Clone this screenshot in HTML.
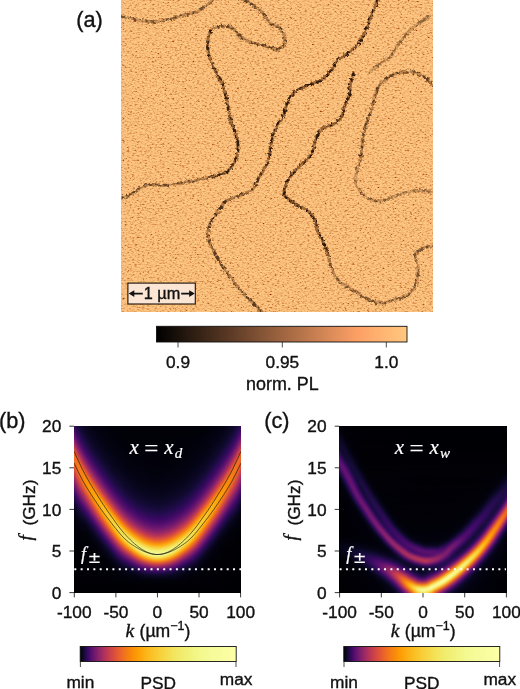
<!DOCTYPE html>
<html><head><meta charset="utf-8"><title>Figure</title>
<style>html,body{margin:0;padding:0;background:#fff}svg{display:block}svg{font-family:"Liberation Sans",sans-serif}text{stroke:#111;stroke-width:.36px;paint-order:stroke}.w{stroke:#fff;stroke-width:.2px}.s{font-family:"Liberation Serif",serif;font-style:italic}.r{font-family:"Liberation Serif",serif}.p{font-family:"DejaVu Sans",sans-serif;font-style:normal}</style></head><body>
<svg width="520" height="689" viewBox="0 0 520 689" fill="#111"><g class="t">
<defs>
<clipPath id="clipA"><rect x="121" y="0" width="312" height="312"/></clipPath>
<clipPath id="clipC"><rect x="339" y="426" width="168" height="167"/></clipPath>
<filter id="vb" x="0" y="-2%" width="100%" height="104%" color-interpolation-filters="sRGB"><feGaussianBlur stdDeviation="0.12 0.85"/></filter>
<clipPath id="clipB"><rect x="74" y="426" width="167" height="167"/></clipPath>
<filter id="noise" x="0" y="0" width="100%" height="100%" color-interpolation-filters="sRGB"><feTurbulence type="fractalNoise" baseFrequency="0.4 0.7" numOctaves="3" seed="7"/><feColorMatrix type="matrix" values="1 0 0 0 0 1 0 0 0 0 1 0 0 0 0 0 0 0 0 1"/><feComponentTransfer><feFuncR type="gamma" amplitude="-0.6" exponent="4" offset="1.01"/><feFuncG type="gamma" amplitude="-0.88" exponent="4" offset="0.795"/><feFuncB type="gamma" amplitude="-0.85" exponent="4" offset="0.53"/></feComponentTransfer></filter>
<filter id="rough" x="-5%" y="-5%" width="110%" height="110%" color-interpolation-filters="sRGB"><feTurbulence type="fractalNoise" baseFrequency="0.4" numOctaves="2" seed="11" result="t"/><feDisplacementMap in="SourceGraphic" in2="t" scale="4" xChannelSelector="R" yChannelSelector="G" result="d"/><feTurbulence type="fractalNoise" baseFrequency="0.3" numOctaves="2" seed="5" result="m"/><feColorMatrix in="m" type="matrix" values="0 0 0 0 0 0 0 0 0 0 0 0 0 0 0 6 0 0 0 -2.6" result="ma"/><feComposite in="d" in2="ma" operator="in"/><feGaussianBlur stdDeviation="0.45"/></filter>
<filter id="soft" x="-5%" y="-5%" width="110%" height="110%" color-interpolation-filters="sRGB"><feTurbulence type="fractalNoise" baseFrequency="0.4" numOctaves="2" seed="11" result="t"/><feDisplacementMap in="SourceGraphic" in2="t" scale="4" xChannelSelector="R" yChannelSelector="G"/><feGaussianBlur stdDeviation="0.6"/></filter>
<linearGradient id="cop"><stop offset="0" stop-color="#000000"/><stop offset="0.1" stop-color="#1f140c"/><stop offset="0.2" stop-color="#3f2819"/><stop offset="0.3" stop-color="#5e3b26"/><stop offset="0.4" stop-color="#7e5033"/><stop offset="0.5" stop-color="#9e6440"/><stop offset="0.6" stop-color="#bd784c"/><stop offset="0.7" stop-color="#dd8c59"/><stop offset="0.8" stop-color="#fc9f65"/><stop offset="0.9" stop-color="#ffb472"/><stop offset="1" stop-color="#ffc77f"/></linearGradient>
<linearGradient id="inf"><stop offset="0" stop-color="#000004"/><stop offset="0.025" stop-color="#150b37"/><stop offset="0.05" stop-color="#3b0964"/><stop offset="0.075" stop-color="#5c126e"/><stop offset="0.1" stop-color="#781c6d"/><stop offset="0.125" stop-color="#932667"/><stop offset="0.15" stop-color="#ab2f5e"/><stop offset="0.175" stop-color="#c03a51"/><stop offset="0.2" stop-color="#d04545"/><stop offset="0.225" stop-color="#de5238"/><stop offset="0.25" stop-color="#e8602d"/><stop offset="0.275" stop-color="#ef6e21"/><stop offset="0.3" stop-color="#f57d15"/><stop offset="0.325" stop-color="#f8890c"/><stop offset="0.35" stop-color="#fb9606"/><stop offset="0.375" stop-color="#fca108"/><stop offset="0.4" stop-color="#fcac11"/><stop offset="0.425" stop-color="#fbb61a"/><stop offset="0.45" stop-color="#fbbe23"/><stop offset="0.475" stop-color="#fac62d"/><stop offset="0.5" stop-color="#f8cd37"/><stop offset="0.525" stop-color="#f7d340"/><stop offset="0.55" stop-color="#f5d949"/><stop offset="0.575" stop-color="#f4df53"/><stop offset="0.6" stop-color="#f3e55d"/><stop offset="0.625" stop-color="#f2e865"/><stop offset="0.65" stop-color="#f1ec6d"/><stop offset="0.675" stop-color="#f1ef75"/><stop offset="0.7" stop-color="#f1f179"/><stop offset="0.725" stop-color="#f2f482"/><stop offset="0.75" stop-color="#f3f586"/><stop offset="0.775" stop-color="#f4f88e"/><stop offset="0.8" stop-color="#f5f992"/><stop offset="0.825" stop-color="#f6fa96"/><stop offset="0.85" stop-color="#f8fb9a"/><stop offset="0.875" stop-color="#f8fb9a"/><stop offset="0.9" stop-color="#f9fc9d"/><stop offset="0.925" stop-color="#fafda1"/><stop offset="0.95" stop-color="#fafda1"/><stop offset="0.975" stop-color="#fcffa4"/><stop offset="1" stop-color="#fcffa4"/></linearGradient>
<linearGradient id="b0"><stop offset="0.003" stop-color="#2d0b59"/><stop offset="0.0269" stop-color="#160b38"/><stop offset="0.0509" stop-color="#0b0725"/><stop offset="0.1108" stop-color="#040312"/><stop offset="0.2305" stop-color="#010108"/><stop offset="0.7455" stop-color="#010106"/><stop offset="0.8952" stop-color="#040312"/><stop offset="0.9551" stop-color="#0d0827"/><stop offset="0.985" stop-color="#1e0c45"/><stop offset="0.997" stop-color="#2b0b57"/></linearGradient>
<linearGradient id="b2"><stop offset="0.003" stop-color="#370961"/><stop offset="0.0269" stop-color="#1a0c3f"/><stop offset="0.0629" stop-color="#0a0723"/><stop offset="0.1287" stop-color="#030210"/><stop offset="0.2964" stop-color="#010106"/><stop offset="0.7814" stop-color="#010108"/><stop offset="0.9012" stop-color="#050416"/><stop offset="0.9551" stop-color="#0f092c"/><stop offset="0.979" stop-color="#1e0c45"/><stop offset="0.997" stop-color="#340a5f"/></linearGradient>
<linearGradient id="b4"><stop offset="0.003" stop-color="#410a67"/><stop offset="0.021" stop-color="#260c51"/><stop offset="0.0449" stop-color="#130a33"/><stop offset="0.0808" stop-color="#08061e"/><stop offset="0.1587" stop-color="#02020e"/><stop offset="0.3323" stop-color="#010106"/><stop offset="0.7695" stop-color="#010108"/><stop offset="0.8952" stop-color="#050417"/><stop offset="0.9491" stop-color="#0f092c"/><stop offset="0.979" stop-color="#240c4f"/><stop offset="0.997" stop-color="#3e0965"/></linearGradient>
<linearGradient id="b6"><stop offset="0.003" stop-color="#4c0c6b"/><stop offset="0.021" stop-color="#2d0b59"/><stop offset="0.0449" stop-color="#160b39"/><stop offset="0.0749" stop-color="#0b0724"/><stop offset="0.1467" stop-color="#030210"/><stop offset="0.3204" stop-color="#010106"/><stop offset="0.7635" stop-color="#010108"/><stop offset="0.8892" stop-color="#050417"/><stop offset="0.9371" stop-color="#0e092a"/><stop offset="0.9671" stop-color="#1e0c45"/><stop offset="0.991" stop-color="#3e0965"/><stop offset="0.997" stop-color="#490b6a"/></linearGradient>
<linearGradient id="b8"><stop offset="0.003" stop-color="#59106e"/><stop offset="0.021" stop-color="#370961"/><stop offset="0.0449" stop-color="#1b0c41"/><stop offset="0.0808" stop-color="#0b0725"/><stop offset="0.1407" stop-color="#040312"/><stop offset="0.2844" stop-color="#010108"/><stop offset="0.7036" stop-color="#010107"/><stop offset="0.8473" stop-color="#030210"/><stop offset="0.9192" stop-color="#0b0724"/><stop offset="0.9491" stop-color="#160b39"/><stop offset="0.9731" stop-color="#2b0b57"/><stop offset="0.991" stop-color="#490b6a"/><stop offset="0.997" stop-color="#550f6d"/></linearGradient>
<linearGradient id="b10"><stop offset="0.003" stop-color="#65156e"/><stop offset="0.021" stop-color="#410a67"/><stop offset="0.0389" stop-color="#260c51"/><stop offset="0.0749" stop-color="#0f092c"/><stop offset="0.1347" stop-color="#050416"/><stop offset="0.2665" stop-color="#010108"/><stop offset="0.7455" stop-color="#010109"/><stop offset="0.8593" stop-color="#040314"/><stop offset="0.9192" stop-color="#0d0827"/><stop offset="0.9491" stop-color="#1b0c41"/><stop offset="0.9671" stop-color="#2c0b58"/><stop offset="0.985" stop-color="#490b6a"/><stop offset="0.997" stop-color="#62146e"/></linearGradient>
<linearGradient id="b12"><stop offset="0.003" stop-color="#741b6e"/><stop offset="0.021" stop-color="#4c0c6b"/><stop offset="0.0389" stop-color="#2f0a5a"/><stop offset="0.0629" stop-color="#180c3d"/><stop offset="0.1048" stop-color="#090621"/><stop offset="0.1886" stop-color="#02020e"/><stop offset="0.3922" stop-color="#010106"/><stop offset="0.7635" stop-color="#02010a"/><stop offset="0.8713" stop-color="#060419"/><stop offset="0.9192" stop-color="#0f092c"/><stop offset="0.9491" stop-color="#1f0c48"/><stop offset="0.9731" stop-color="#3e0965"/><stop offset="0.991" stop-color="#62146e"/><stop offset="0.997" stop-color="#711a6e"/></linearGradient>
<linearGradient id="b14"><stop offset="0.003" stop-color="#86216b"/><stop offset="0.021" stop-color="#59106e"/><stop offset="0.0389" stop-color="#380962"/><stop offset="0.0629" stop-color="#1d0c44"/><stop offset="0.0988" stop-color="#0d0827"/><stop offset="0.1707" stop-color="#040312"/><stop offset="0.3144" stop-color="#010108"/><stop offset="0.7275" stop-color="#010109"/><stop offset="0.8593" stop-color="#050418"/><stop offset="0.9132" stop-color="#100a2e"/><stop offset="0.9431" stop-color="#210c4a"/><stop offset="0.9611" stop-color="#350a60"/><stop offset="0.979" stop-color="#550f6d"/><stop offset="0.997" stop-color="#811f6c"/></linearGradient>
<linearGradient id="b16"><stop offset="0.003" stop-color="#982865"/><stop offset="0.021" stop-color="#65156e"/><stop offset="0.0389" stop-color="#420a68"/><stop offset="0.0689" stop-color="#1e0c45"/><stop offset="0.0988" stop-color="#0f092c"/><stop offset="0.1527" stop-color="#050418"/><stop offset="0.2605" stop-color="#02010a"/><stop offset="0.6437" stop-color="#010107"/><stop offset="0.8114" stop-color="#030210"/><stop offset="0.8832" stop-color="#0a0723"/><stop offset="0.9192" stop-color="#160b38"/><stop offset="0.9431" stop-color="#280b53"/><stop offset="0.9671" stop-color="#4a0c6b"/><stop offset="0.985" stop-color="#711a6e"/><stop offset="0.997" stop-color="#932667"/></linearGradient>
<linearGradient id="b18"><stop offset="0.003" stop-color="#ab2f5d"/><stop offset="0.021" stop-color="#741b6e"/><stop offset="0.0449" stop-color="#430a68"/><stop offset="0.0689" stop-color="#240c4f"/><stop offset="0.0988" stop-color="#120a31"/><stop offset="0.1527" stop-color="#06051a"/><stop offset="0.2485" stop-color="#02020c"/><stop offset="0.5299" stop-color="#010106"/><stop offset="0.7635" stop-color="#02020c"/><stop offset="0.8653" stop-color="#08061e"/><stop offset="0.9072" stop-color="#140b36"/><stop offset="0.9371" stop-color="#290b54"/><stop offset="0.9611" stop-color="#4a0c6b"/><stop offset="0.979" stop-color="#711a6e"/><stop offset="0.997" stop-color="#a62d60"/></linearGradient>
<linearGradient id="b20"><stop offset="0.003" stop-color="#be3952"/><stop offset="0.015" stop-color="#982865"/><stop offset="0.0329" stop-color="#66166e"/><stop offset="0.0569" stop-color="#3a0963"/><stop offset="0.0868" stop-color="#1c0c43"/><stop offset="0.1228" stop-color="#0d0827"/><stop offset="0.1946" stop-color="#040313"/><stop offset="0.3323" stop-color="#010108"/><stop offset="0.6916" stop-color="#010109"/><stop offset="0.8174" stop-color="#040314"/><stop offset="0.8832" stop-color="#0e092a"/><stop offset="0.9132" stop-color="#1b0c41"/><stop offset="0.9371" stop-color="#310a5c"/><stop offset="0.9551" stop-color="#4c0c6b"/><stop offset="0.9731" stop-color="#711a6e"/><stop offset="0.991" stop-color="#a62d60"/><stop offset="0.997" stop-color="#b93656"/></linearGradient>
<linearGradient id="b22"><stop offset="0.003" stop-color="#cf4446"/><stop offset="0.021" stop-color="#982865"/><stop offset="0.0389" stop-color="#68166e"/><stop offset="0.0629" stop-color="#3c0964"/><stop offset="0.0928" stop-color="#1e0c45"/><stop offset="0.1228" stop-color="#0f092c"/><stop offset="0.1826" stop-color="#050417"/><stop offset="0.3024" stop-color="#02010a"/><stop offset="0.6677" stop-color="#010108"/><stop offset="0.8114" stop-color="#050416"/><stop offset="0.8713" stop-color="#0d0829"/><stop offset="0.9072" stop-color="#1c0c43"/><stop offset="0.9371" stop-color="#3a0963"/><stop offset="0.9611" stop-color="#65156e"/><stop offset="0.979" stop-color="#932667"/><stop offset="0.997" stop-color="#ca404a"/></linearGradient>
<linearGradient id="b24"><stop offset="0.003" stop-color="#dd5139"/><stop offset="0.021" stop-color="#ad305d"/><stop offset="0.0389" stop-color="#771c6d"/><stop offset="0.0629" stop-color="#470b6a"/><stop offset="0.0928" stop-color="#230c4c"/><stop offset="0.1287" stop-color="#100a2e"/><stop offset="0.1886" stop-color="#050418"/><stop offset="0.3084" stop-color="#02010a"/><stop offset="0.6497" stop-color="#010108"/><stop offset="0.7874" stop-color="#040312"/><stop offset="0.8593" stop-color="#0d0827"/><stop offset="0.8952" stop-color="#1a0c3f"/><stop offset="0.9251" stop-color="#340a5f"/><stop offset="0.9491" stop-color="#59106e"/><stop offset="0.9671" stop-color="#84206b"/><stop offset="0.985" stop-color="#b93656"/><stop offset="0.997" stop-color="#d74b3f"/></linearGradient>
<linearGradient id="b26"><stop offset="0.003" stop-color="#e75e2e"/><stop offset="0.015" stop-color="#d04545"/><stop offset="0.0329" stop-color="#9a2865"/><stop offset="0.0509" stop-color="#6a176e"/><stop offset="0.0749" stop-color="#3f0a66"/><stop offset="0.1048" stop-color="#1f0c48"/><stop offset="0.1407" stop-color="#0f092c"/><stop offset="0.2006" stop-color="#050417"/><stop offset="0.3263" stop-color="#02010a"/><stop offset="0.6976" stop-color="#02010b"/><stop offset="0.8054" stop-color="#050418"/><stop offset="0.8653" stop-color="#100a2e"/><stop offset="0.8952" stop-color="#1f0c48"/><stop offset="0.9251" stop-color="#3e0965"/><stop offset="0.9491" stop-color="#67166e"/><stop offset="0.9671" stop-color="#952667"/><stop offset="0.985" stop-color="#cb4149"/><stop offset="0.997" stop-color="#e25734"/></linearGradient>
<linearGradient id="b28"><stop offset="0.003" stop-color="#ed6826"/><stop offset="0.015" stop-color="#de5338"/><stop offset="0.0329" stop-color="#ad305c"/><stop offset="0.0509" stop-color="#7a1d6d"/><stop offset="0.0749" stop-color="#4b0c6b"/><stop offset="0.0988" stop-color="#2c0b58"/><stop offset="0.1287" stop-color="#170b3b"/><stop offset="0.1647" stop-color="#0b0725"/><stop offset="0.2365" stop-color="#040312"/><stop offset="0.3982" stop-color="#010108"/><stop offset="0.6796" stop-color="#02010b"/><stop offset="0.7934" stop-color="#050418"/><stop offset="0.8533" stop-color="#0f092c"/><stop offset="0.8832" stop-color="#1c0c43"/><stop offset="0.9132" stop-color="#380962"/><stop offset="0.9371" stop-color="#5d126e"/><stop offset="0.9551" stop-color="#86216b"/><stop offset="0.9731" stop-color="#bb3755"/><stop offset="0.985" stop-color="#d94d3d"/><stop offset="0.997" stop-color="#e8612c"/></linearGradient>
<linearGradient id="b30"><stop offset="0.003" stop-color="#f06e21"/><stop offset="0.009" stop-color="#ee6b23"/><stop offset="0.021" stop-color="#df5337"/><stop offset="0.0389" stop-color="#af315b"/><stop offset="0.0569" stop-color="#7c1e6d"/><stop offset="0.0808" stop-color="#4d0d6c"/><stop offset="0.1108" stop-color="#280b53"/><stop offset="0.1467" stop-color="#130a33"/><stop offset="0.1886" stop-color="#09061f"/><stop offset="0.2784" stop-color="#02020e"/><stop offset="0.518" stop-color="#010108"/><stop offset="0.7216" stop-color="#02020e"/><stop offset="0.8114" stop-color="#08061e"/><stop offset="0.8593" stop-color="#140b36"/><stop offset="0.8952" stop-color="#2d0b59"/><stop offset="0.9192" stop-color="#4b0c6b"/><stop offset="0.9431" stop-color="#791c6d"/><stop offset="0.9611" stop-color="#aa2f5e"/><stop offset="0.979" stop-color="#da4e3c"/><stop offset="0.991" stop-color="#ea6429"/><stop offset="0.997" stop-color="#ec6727"/></linearGradient>
<linearGradient id="b32"><stop offset="0.003" stop-color="#f06f20"/><stop offset="0.009" stop-color="#f1721e"/><stop offset="0.021" stop-color="#e9622b"/><stop offset="0.0329" stop-color="#d34743"/><stop offset="0.0509" stop-color="#9f2a63"/><stop offset="0.0689" stop-color="#711a6e"/><stop offset="0.0928" stop-color="#470b6a"/><stop offset="0.1228" stop-color="#240c4f"/><stop offset="0.1647" stop-color="#0f092c"/><stop offset="0.2365" stop-color="#050416"/><stop offset="0.3743" stop-color="#02010a"/><stop offset="0.6497" stop-color="#02010b"/><stop offset="0.7754" stop-color="#050418"/><stop offset="0.8353" stop-color="#0f092c"/><stop offset="0.8772" stop-color="#240c4f"/><stop offset="0.9072" stop-color="#450b69"/><stop offset="0.9311" stop-color="#6e186e"/><stop offset="0.9491" stop-color="#9b2964"/><stop offset="0.9671" stop-color="#ce4347"/><stop offset="0.979" stop-color="#e55c30"/><stop offset="0.991" stop-color="#ed6a24"/><stop offset="0.997" stop-color="#ec6726"/></linearGradient>
<linearGradient id="b34"><stop offset="0.003" stop-color="#ef6d22"/><stop offset="0.015" stop-color="#f2731d"/><stop offset="0.021" stop-color="#f06e21"/><stop offset="0.0329" stop-color="#e15635"/><stop offset="0.0509" stop-color="#b33359"/><stop offset="0.0689" stop-color="#82206c"/><stop offset="0.0928" stop-color="#520e6d"/><stop offset="0.1228" stop-color="#2d0b59"/><stop offset="0.1527" stop-color="#170b3b"/><stop offset="0.2006" stop-color="#090621"/><stop offset="0.3084" stop-color="#02020e"/><stop offset="0.5539" stop-color="#010109"/><stop offset="0.7275" stop-color="#030311"/><stop offset="0.8114" stop-color="#0b0725"/><stop offset="0.8473" stop-color="#170b3b"/><stop offset="0.8772" stop-color="#2b0b57"/><stop offset="0.9072" stop-color="#510e6c"/><stop offset="0.9311" stop-color="#7f1e6c"/><stop offset="0.9491" stop-color="#af315b"/><stop offset="0.9671" stop-color="#dc513a"/><stop offset="0.979" stop-color="#ec6727"/><stop offset="0.985" stop-color="#ef6c23"/><stop offset="0.997" stop-color="#eb6528"/></linearGradient>
<linearGradient id="b36"><stop offset="0.003" stop-color="#ed6925"/><stop offset="0.015" stop-color="#f3761b"/><stop offset="0.0269" stop-color="#f0701f"/><stop offset="0.0389" stop-color="#e25734"/><stop offset="0.0569" stop-color="#b63457"/><stop offset="0.0749" stop-color="#85216b"/><stop offset="0.0988" stop-color="#550f6d"/><stop offset="0.1287" stop-color="#2f0a5a"/><stop offset="0.1647" stop-color="#160b38"/><stop offset="0.2066" stop-color="#0a0723"/><stop offset="0.2784" stop-color="#040312"/><stop offset="0.4401" stop-color="#02010a"/><stop offset="0.6617" stop-color="#02020d"/><stop offset="0.7575" stop-color="#050418"/><stop offset="0.8293" stop-color="#130a33"/><stop offset="0.8653" stop-color="#280b53"/><stop offset="0.8952" stop-color="#4a0c6b"/><stop offset="0.9192" stop-color="#741b6e"/><stop offset="0.9371" stop-color="#a12b62"/><stop offset="0.9551" stop-color="#d14644"/><stop offset="0.9671" stop-color="#e75f2d"/><stop offset="0.979" stop-color="#f06e21"/><stop offset="0.991" stop-color="#ed6826"/><stop offset="0.997" stop-color="#e9612b"/></linearGradient>
<linearGradient id="b38"><stop offset="0.003" stop-color="#ea632a"/><stop offset="0.021" stop-color="#f47918"/><stop offset="0.0269" stop-color="#f47918"/><stop offset="0.0389" stop-color="#ed6826"/><stop offset="0.0509" stop-color="#d84c3e"/><stop offset="0.0689" stop-color="#a92e5f"/><stop offset="0.0868" stop-color="#7b1d6d"/><stop offset="0.1108" stop-color="#4f0d6c"/><stop offset="0.1407" stop-color="#2b0b57"/><stop offset="0.1766" stop-color="#140b36"/><stop offset="0.2365" stop-color="#07051c"/><stop offset="0.3323" stop-color="#02020e"/><stop offset="0.5838" stop-color="#02010a"/><stop offset="0.7335" stop-color="#050416"/><stop offset="0.7994" stop-color="#0d0827"/><stop offset="0.8413" stop-color="#1c0c43"/><stop offset="0.8713" stop-color="#370961"/><stop offset="0.9012" stop-color="#61136e"/><stop offset="0.9251" stop-color="#952667"/><stop offset="0.9431" stop-color="#c53d4e"/><stop offset="0.9551" stop-color="#e05536"/><stop offset="0.9671" stop-color="#ee6b23"/><stop offset="0.979" stop-color="#f1711f"/><stop offset="0.997" stop-color="#e55c30"/></linearGradient>
<linearGradient id="b40"><stop offset="0.003" stop-color="#e55b31"/><stop offset="0.021" stop-color="#f3771a"/><stop offset="0.0329" stop-color="#f57b17"/><stop offset="0.0449" stop-color="#ed6a24"/><stop offset="0.0569" stop-color="#db4f3b"/><stop offset="0.0749" stop-color="#ad305d"/><stop offset="0.0928" stop-color="#7f1e6c"/><stop offset="0.1168" stop-color="#520e6d"/><stop offset="0.1467" stop-color="#2d0b59"/><stop offset="0.1826" stop-color="#160b38"/><stop offset="0.2365" stop-color="#08061e"/><stop offset="0.3263" stop-color="#030210"/><stop offset="0.5479" stop-color="#02010a"/><stop offset="0.7156" stop-color="#040314"/><stop offset="0.7874" stop-color="#0d0827"/><stop offset="0.8293" stop-color="#1b0c41"/><stop offset="0.8653" stop-color="#380962"/><stop offset="0.8952" stop-color="#65156e"/><stop offset="0.9192" stop-color="#992865"/><stop offset="0.9371" stop-color="#c83f4b"/><stop offset="0.9491" stop-color="#e25734"/><stop offset="0.9611" stop-color="#ef6e21"/><stop offset="0.9731" stop-color="#f2731d"/><stop offset="0.991" stop-color="#e75e2e"/><stop offset="0.997" stop-color="#df5437"/></linearGradient>
<linearGradient id="b42"><stop offset="0.003" stop-color="#de5238"/><stop offset="0.021" stop-color="#f1731d"/><stop offset="0.0329" stop-color="#f67e14"/><stop offset="0.0389" stop-color="#f67e14"/><stop offset="0.0509" stop-color="#ef6d22"/><stop offset="0.0629" stop-color="#dd5239"/><stop offset="0.0808" stop-color="#b1325a"/><stop offset="0.0988" stop-color="#84206b"/><stop offset="0.1228" stop-color="#550f6d"/><stop offset="0.1527" stop-color="#310a5c"/><stop offset="0.1886" stop-color="#170b3b"/><stop offset="0.2365" stop-color="#0a0722"/><stop offset="0.3323" stop-color="#030210"/><stop offset="0.5539" stop-color="#02020c"/><stop offset="0.7036" stop-color="#040314"/><stop offset="0.7754" stop-color="#0b0725"/><stop offset="0.8174" stop-color="#190c3e"/><stop offset="0.8533" stop-color="#350a60"/><stop offset="0.8772" stop-color="#540f6d"/><stop offset="0.9012" stop-color="#801f6c"/><stop offset="0.9192" stop-color="#ad305c"/><stop offset="0.9371" stop-color="#d94d3d"/><stop offset="0.9491" stop-color="#ec6727"/><stop offset="0.9611" stop-color="#f3761b"/><stop offset="0.9731" stop-color="#f1721e"/><stop offset="0.991" stop-color="#e25734"/><stop offset="0.997" stop-color="#d84c3e"/></linearGradient>
<linearGradient id="b44"><stop offset="0.003" stop-color="#d44842"/><stop offset="0.021" stop-color="#ef6c23"/><stop offset="0.0389" stop-color="#f78212"/><stop offset="0.0449" stop-color="#f78212"/><stop offset="0.0569" stop-color="#f0701f"/><stop offset="0.0689" stop-color="#e05536"/><stop offset="0.0868" stop-color="#b53458"/><stop offset="0.1048" stop-color="#88226a"/><stop offset="0.1287" stop-color="#59116e"/><stop offset="0.1587" stop-color="#330a5e"/><stop offset="0.1886" stop-color="#1b0c42"/><stop offset="0.2365" stop-color="#0b0725"/><stop offset="0.3144" stop-color="#040313"/><stop offset="0.494" stop-color="#02020c"/><stop offset="0.6617" stop-color="#030311"/><stop offset="0.7515" stop-color="#090621"/><stop offset="0.7934" stop-color="#130a33"/><stop offset="0.8293" stop-color="#260c51"/><stop offset="0.8593" stop-color="#460b69"/><stop offset="0.8892" stop-color="#781c6d"/><stop offset="0.9072" stop-color="#a22b62"/><stop offset="0.9251" stop-color="#d04545"/><stop offset="0.9431" stop-color="#ed6a24"/><stop offset="0.9551" stop-color="#f47918"/><stop offset="0.9671" stop-color="#f2751b"/><stop offset="0.985" stop-color="#e55b31"/><stop offset="0.997" stop-color="#cf4446"/></linearGradient>
<linearGradient id="b46"><stop offset="0.003" stop-color="#ca404a"/><stop offset="0.015" stop-color="#e25734"/><stop offset="0.0329" stop-color="#f47819"/><stop offset="0.0449" stop-color="#f78410"/><stop offset="0.0569" stop-color="#f67e14"/><stop offset="0.0749" stop-color="#e35933"/><stop offset="0.0928" stop-color="#bb3755"/><stop offset="0.1108" stop-color="#8d2369"/><stop offset="0.1347" stop-color="#5d126e"/><stop offset="0.1647" stop-color="#360960"/><stop offset="0.1946" stop-color="#1d0c44"/><stop offset="0.2365" stop-color="#0e092a"/><stop offset="0.3024" stop-color="#050417"/><stop offset="0.482" stop-color="#02020c"/><stop offset="0.6677" stop-color="#040313"/><stop offset="0.7455" stop-color="#0a0723"/><stop offset="0.7874" stop-color="#140b36"/><stop offset="0.8234" stop-color="#290b55"/><stop offset="0.8533" stop-color="#490b6a"/><stop offset="0.8832" stop-color="#7c1e6d"/><stop offset="0.9012" stop-color="#a72d5f"/><stop offset="0.9192" stop-color="#d44842"/><stop offset="0.9371" stop-color="#ef6e21"/><stop offset="0.9491" stop-color="#f57d15"/><stop offset="0.9611" stop-color="#f37819"/><stop offset="0.979" stop-color="#e65c30"/><stop offset="0.997" stop-color="#c43c4e"/></linearGradient>
<linearGradient id="b48"><stop offset="0.003" stop-color="#bd3853"/><stop offset="0.021" stop-color="#e45a31"/><stop offset="0.0389" stop-color="#f57b17"/><stop offset="0.0509" stop-color="#f8870e"/><stop offset="0.0629" stop-color="#f78311"/><stop offset="0.0808" stop-color="#e65e2e"/><stop offset="0.0988" stop-color="#bf3952"/><stop offset="0.1168" stop-color="#922568"/><stop offset="0.1407" stop-color="#61136e"/><stop offset="0.1707" stop-color="#380962"/><stop offset="0.2066" stop-color="#1b0c42"/><stop offset="0.2485" stop-color="#0d0829"/><stop offset="0.3263" stop-color="#050416"/><stop offset="0.482" stop-color="#02020e"/><stop offset="0.6497" stop-color="#040312"/><stop offset="0.7395" stop-color="#0a0723"/><stop offset="0.7934" stop-color="#1b0c41"/><stop offset="0.8293" stop-color="#370961"/><stop offset="0.8593" stop-color="#5f136e"/><stop offset="0.8832" stop-color="#8f2468"/><stop offset="0.9012" stop-color="#bb3755"/><stop offset="0.9192" stop-color="#e35933"/><stop offset="0.9371" stop-color="#f47a17"/><stop offset="0.9491" stop-color="#f67e14"/><stop offset="0.9671" stop-color="#ed6a24"/><stop offset="0.985" stop-color="#d44842"/><stop offset="0.997" stop-color="#b83556"/></linearGradient>
<linearGradient id="b50"><stop offset="0.003" stop-color="#af315c"/><stop offset="0.021" stop-color="#db503b"/><stop offset="0.0389" stop-color="#f2731d"/><stop offset="0.0569" stop-color="#f98a0c"/><stop offset="0.0689" stop-color="#f8860e"/><stop offset="0.0868" stop-color="#e9622b"/><stop offset="0.1048" stop-color="#c53d4e"/><stop offset="0.1228" stop-color="#972766"/><stop offset="0.1467" stop-color="#65156e"/><stop offset="0.1766" stop-color="#3c0964"/><stop offset="0.2066" stop-color="#210c4a"/><stop offset="0.2545" stop-color="#0e092a"/><stop offset="0.3323" stop-color="#050417"/><stop offset="0.506" stop-color="#02020e"/><stop offset="0.6677" stop-color="#050417"/><stop offset="0.7395" stop-color="#0d0827"/><stop offset="0.7874" stop-color="#1d0c44"/><stop offset="0.8293" stop-color="#410a67"/><stop offset="0.8593" stop-color="#6e186e"/><stop offset="0.8832" stop-color="#a22b61"/><stop offset="0.9012" stop-color="#ce4447"/><stop offset="0.9132" stop-color="#e65d2f"/><stop offset="0.9311" stop-color="#f67f14"/><stop offset="0.9431" stop-color="#f78212"/><stop offset="0.9611" stop-color="#ef6c23"/><stop offset="0.979" stop-color="#d74b3f"/><stop offset="0.997" stop-color="#aa2f5e"/></linearGradient>
<linearGradient id="b52"><stop offset="0.003" stop-color="#a12b62"/><stop offset="0.021" stop-color="#d14644"/><stop offset="0.0389" stop-color="#ed6a24"/><stop offset="0.0569" stop-color="#f8880d"/><stop offset="0.0689" stop-color="#f98e09"/><stop offset="0.0808" stop-color="#f78212"/><stop offset="0.0988" stop-color="#e35a32"/><stop offset="0.1168" stop-color="#bb3755"/><stop offset="0.1347" stop-color="#8f2468"/><stop offset="0.1587" stop-color="#5f136e"/><stop offset="0.1886" stop-color="#380962"/><stop offset="0.2246" stop-color="#1c0c43"/><stop offset="0.2665" stop-color="#0e092a"/><stop offset="0.3263" stop-color="#06051a"/><stop offset="0.4641" stop-color="#030210"/><stop offset="0.6198" stop-color="#040313"/><stop offset="0.7096" stop-color="#090621"/><stop offset="0.7635" stop-color="#160b39"/><stop offset="0.7994" stop-color="#2b0b57"/><stop offset="0.8293" stop-color="#4d0c6b"/><stop offset="0.8593" stop-color="#7e1e6c"/><stop offset="0.8772" stop-color="#a82e5f"/><stop offset="0.8952" stop-color="#d44842"/><stop offset="0.9132" stop-color="#f06f20"/><stop offset="0.9251" stop-color="#f78311"/><stop offset="0.9371" stop-color="#f8850f"/><stop offset="0.9551" stop-color="#f06e21"/><stop offset="0.9731" stop-color="#d84c3e"/><stop offset="0.991" stop-color="#ad305c"/><stop offset="0.997" stop-color="#9b2964"/></linearGradient>
<linearGradient id="b54"><stop offset="0.003" stop-color="#912568"/><stop offset="0.021" stop-color="#c43c4e"/><stop offset="0.0389" stop-color="#e75e2e"/><stop offset="0.0569" stop-color="#f78212"/><stop offset="0.0689" stop-color="#fa8f08"/><stop offset="0.0808" stop-color="#f98e09"/><stop offset="0.0928" stop-color="#f47b17"/><stop offset="0.1108" stop-color="#dc503a"/><stop offset="0.1287" stop-color="#b2325a"/><stop offset="0.1467" stop-color="#86216b"/><stop offset="0.1766" stop-color="#510e6d"/><stop offset="0.2066" stop-color="#300a5b"/><stop offset="0.2365" stop-color="#1b0c41"/><stop offset="0.2784" stop-color="#0e092a"/><stop offset="0.3383" stop-color="#06051a"/><stop offset="0.488" stop-color="#030210"/><stop offset="0.6437" stop-color="#050418"/><stop offset="0.7275" stop-color="#0e092a"/><stop offset="0.7814" stop-color="#240c4f"/><stop offset="0.8174" stop-color="#480b6a"/><stop offset="0.8473" stop-color="#781c6d"/><stop offset="0.8653" stop-color="#9f2a63"/><stop offset="0.8832" stop-color="#cc4249"/><stop offset="0.9012" stop-color="#ec6726"/><stop offset="0.9132" stop-color="#f67f14"/><stop offset="0.9251" stop-color="#f98a0c"/><stop offset="0.9371" stop-color="#f78212"/><stop offset="0.9551" stop-color="#eb6429"/><stop offset="0.9731" stop-color="#cd4348"/><stop offset="0.991" stop-color="#9e2a63"/><stop offset="0.997" stop-color="#8c2369"/></linearGradient>
<linearGradient id="b56"><stop offset="0.003" stop-color="#82206c"/><stop offset="0.021" stop-color="#b63457"/><stop offset="0.0389" stop-color="#de5338"/><stop offset="0.0569" stop-color="#f47819"/><stop offset="0.0749" stop-color="#fa9207"/><stop offset="0.0868" stop-color="#fa9207"/><stop offset="0.0988" stop-color="#f68013"/><stop offset="0.1168" stop-color="#e05536"/><stop offset="0.1347" stop-color="#b73557"/><stop offset="0.1527" stop-color="#8c2369"/><stop offset="0.1766" stop-color="#5f136e"/><stop offset="0.2066" stop-color="#380962"/><stop offset="0.2425" stop-color="#1c0c43"/><stop offset="0.2964" stop-color="#0c0826"/><stop offset="0.3922" stop-color="#050416"/><stop offset="0.5599" stop-color="#040312"/><stop offset="0.6856" stop-color="#090621"/><stop offset="0.7395" stop-color="#140b36"/><stop offset="0.7814" stop-color="#2c0b58"/><stop offset="0.8114" stop-color="#4c0c6b"/><stop offset="0.8413" stop-color="#7c1e6d"/><stop offset="0.8593" stop-color="#a52c60"/><stop offset="0.8772" stop-color="#d14644"/><stop offset="0.8952" stop-color="#ef6d22"/><stop offset="0.9072" stop-color="#f78410"/><stop offset="0.9192" stop-color="#f98d09"/><stop offset="0.9371" stop-color="#f57c16"/><stop offset="0.9551" stop-color="#e35933"/><stop offset="0.9731" stop-color="#c13a51"/><stop offset="0.991" stop-color="#8f2468"/><stop offset="0.997" stop-color="#7e1e6c"/></linearGradient>
<linearGradient id="b58"><stop offset="0.003" stop-color="#731a6e"/><stop offset="0.021" stop-color="#a72d5f"/><stop offset="0.0389" stop-color="#d24743"/><stop offset="0.0569" stop-color="#ef6c23"/><stop offset="0.0749" stop-color="#f98e09"/><stop offset="0.0868" stop-color="#fb9706"/><stop offset="0.0988" stop-color="#fa9008"/><stop offset="0.1108" stop-color="#f47918"/><stop offset="0.1287" stop-color="#d94d3d"/><stop offset="0.1467" stop-color="#af315b"/><stop offset="0.1647" stop-color="#84206b"/><stop offset="0.1886" stop-color="#5a116e"/><stop offset="0.2186" stop-color="#360960"/><stop offset="0.2545" stop-color="#1b0c42"/><stop offset="0.3024" stop-color="#0d0827"/><stop offset="0.4042" stop-color="#050417"/><stop offset="0.5419" stop-color="#040313"/><stop offset="0.6617" stop-color="#08061e"/><stop offset="0.7156" stop-color="#100a2e"/><stop offset="0.7575" stop-color="#210c4a"/><stop offset="0.7934" stop-color="#410a67"/><stop offset="0.8234" stop-color="#6b176e"/><stop offset="0.8473" stop-color="#9d2964"/><stop offset="0.8653" stop-color="#c83f4b"/><stop offset="0.8832" stop-color="#eb6528"/><stop offset="0.9012" stop-color="#f8890c"/><stop offset="0.9132" stop-color="#fa9008"/><stop offset="0.9311" stop-color="#f57d15"/><stop offset="0.9491" stop-color="#e45a31"/><stop offset="0.9671" stop-color="#c13a51"/><stop offset="0.985" stop-color="#912568"/><stop offset="0.997" stop-color="#6f196e"/></linearGradient>
<linearGradient id="b60"><stop offset="0.003" stop-color="#65156e"/><stop offset="0.021" stop-color="#972766"/><stop offset="0.0449" stop-color="#d24743"/><stop offset="0.0629" stop-color="#ef6c23"/><stop offset="0.0808" stop-color="#fa9008"/><stop offset="0.0928" stop-color="#fb9b06"/><stop offset="0.0988" stop-color="#fb9b06"/><stop offset="0.1108" stop-color="#f98c0b"/><stop offset="0.1287" stop-color="#e8612c"/><stop offset="0.1467" stop-color="#c33c4f"/><stop offset="0.1647" stop-color="#972766"/><stop offset="0.1886" stop-color="#68166e"/><stop offset="0.2186" stop-color="#3f0a66"/><stop offset="0.2545" stop-color="#210c4a"/><stop offset="0.2964" stop-color="#100a2e"/><stop offset="0.3623" stop-color="#08061e"/><stop offset="0.482" stop-color="#040314"/><stop offset="0.6257" stop-color="#07051c"/><stop offset="0.6976" stop-color="#0f092c"/><stop offset="0.7455" stop-color="#200c49"/><stop offset="0.7814" stop-color="#3e0965"/><stop offset="0.8114" stop-color="#66166e"/><stop offset="0.8353" stop-color="#952667"/><stop offset="0.8533" stop-color="#c13a51"/><stop offset="0.8713" stop-color="#e55c30"/><stop offset="0.8892" stop-color="#f78410"/><stop offset="0.9012" stop-color="#fa9307"/><stop offset="0.9132" stop-color="#fa8f08"/><stop offset="0.9311" stop-color="#f1731d"/><stop offset="0.9491" stop-color="#da4e3d"/><stop offset="0.9731" stop-color="#a22b61"/><stop offset="0.991" stop-color="#711a6e"/><stop offset="0.997" stop-color="#61146e"/></linearGradient>
<linearGradient id="b62"><stop offset="0.003" stop-color="#57106d"/><stop offset="0.021" stop-color="#87216b"/><stop offset="0.0449" stop-color="#c43c4e"/><stop offset="0.0629" stop-color="#e75f2d"/><stop offset="0.0808" stop-color="#f8860e"/><stop offset="0.0928" stop-color="#fb9806"/><stop offset="0.1048" stop-color="#fb9e07"/><stop offset="0.1168" stop-color="#fa9208"/><stop offset="0.1347" stop-color="#ed6826"/><stop offset="0.1527" stop-color="#ca404a"/><stop offset="0.1707" stop-color="#9e2a63"/><stop offset="0.1946" stop-color="#6d186e"/><stop offset="0.2246" stop-color="#430a68"/><stop offset="0.2605" stop-color="#230c4c"/><stop offset="0.3144" stop-color="#0f092c"/><stop offset="0.4102" stop-color="#06051a"/><stop offset="0.5778" stop-color="#060419"/><stop offset="0.6796" stop-color="#0e092a"/><stop offset="0.7216" stop-color="#190c3e"/><stop offset="0.7575" stop-color="#310a5c"/><stop offset="0.7874" stop-color="#510e6c"/><stop offset="0.8174" stop-color="#811f6c"/><stop offset="0.8353" stop-color="#a92e5e"/><stop offset="0.8533" stop-color="#d44942"/><stop offset="0.8713" stop-color="#f1721e"/><stop offset="0.8832" stop-color="#f98b0b"/><stop offset="0.8952" stop-color="#fb9706"/><stop offset="0.9072" stop-color="#fa9108"/><stop offset="0.9251" stop-color="#f2731d"/><stop offset="0.9431" stop-color="#d94d3d"/><stop offset="0.9611" stop-color="#b1325a"/><stop offset="0.979" stop-color="#83206b"/><stop offset="0.997" stop-color="#540f6d"/></linearGradient>
<linearGradient id="b64"><stop offset="0.003" stop-color="#4a0c6b"/><stop offset="0.021" stop-color="#781c6d"/><stop offset="0.0389" stop-color="#a52c60"/><stop offset="0.0569" stop-color="#d04545"/><stop offset="0.0749" stop-color="#ef6c23"/><stop offset="0.0928" stop-color="#fa9207"/><stop offset="0.1048" stop-color="#fca007"/><stop offset="0.1168" stop-color="#fc9f07"/><stop offset="0.1287" stop-color="#f98c0b"/><stop offset="0.1467" stop-color="#e75f2d"/><stop offset="0.1647" stop-color="#c23b50"/><stop offset="0.1826" stop-color="#972766"/><stop offset="0.2066" stop-color="#68166e"/><stop offset="0.2425" stop-color="#3a0963"/><stop offset="0.2725" stop-color="#230c4c"/><stop offset="0.3144" stop-color="#120a32"/><stop offset="0.3862" stop-color="#09061f"/><stop offset="0.518" stop-color="#050418"/><stop offset="0.6377" stop-color="#0b0724"/><stop offset="0.6916" stop-color="#130a33"/><stop offset="0.7395" stop-color="#290b55"/><stop offset="0.7754" stop-color="#4d0d6c"/><stop offset="0.8054" stop-color="#7c1d6d"/><stop offset="0.8234" stop-color="#a22b61"/><stop offset="0.8413" stop-color="#cd4348"/><stop offset="0.8593" stop-color="#ed6a24"/><stop offset="0.8713" stop-color="#f8860e"/><stop offset="0.8832" stop-color="#fb9706"/><stop offset="0.8952" stop-color="#fb9806"/><stop offset="0.9072" stop-color="#f98b0b"/><stop offset="0.9251" stop-color="#eb6628"/><stop offset="0.9431" stop-color="#cc4249"/><stop offset="0.9611" stop-color="#a12b62"/><stop offset="0.979" stop-color="#741a6e"/><stop offset="0.997" stop-color="#480b6a"/></linearGradient>
<linearGradient id="b66"><stop offset="0.003" stop-color="#3e0a66"/><stop offset="0.021" stop-color="#69166e"/><stop offset="0.0449" stop-color="#a22b61"/><stop offset="0.0629" stop-color="#cf4446"/><stop offset="0.0808" stop-color="#ee6b23"/><stop offset="0.0988" stop-color="#fa9307"/><stop offset="0.1108" stop-color="#fca309"/><stop offset="0.1228" stop-color="#fca40a"/><stop offset="0.1347" stop-color="#fa9307"/><stop offset="0.1527" stop-color="#ec6727"/><stop offset="0.1707" stop-color="#c83f4b"/><stop offset="0.1886" stop-color="#9e2a63"/><stop offset="0.2126" stop-color="#6e186e"/><stop offset="0.2365" stop-color="#4b0c6b"/><stop offset="0.2725" stop-color="#290b55"/><stop offset="0.3084" stop-color="#170b3b"/><stop offset="0.3683" stop-color="#0c0826"/><stop offset="0.488" stop-color="#06051a"/><stop offset="0.6138" stop-color="#0a0723"/><stop offset="0.6796" stop-color="#140b34"/><stop offset="0.7275" stop-color="#280b53"/><stop offset="0.7635" stop-color="#4a0c6b"/><stop offset="0.7934" stop-color="#761b6d"/><stop offset="0.8174" stop-color="#a92e5f"/><stop offset="0.8353" stop-color="#d34743"/><stop offset="0.8533" stop-color="#f1711f"/><stop offset="0.8653" stop-color="#f98c0b"/><stop offset="0.8772" stop-color="#fb9d07"/><stop offset="0.8892" stop-color="#fb9b06"/><stop offset="0.9012" stop-color="#f98c0b"/><stop offset="0.9192" stop-color="#eb6528"/><stop offset="0.9371" stop-color="#ca404a"/><stop offset="0.9551" stop-color="#9e2a63"/><stop offset="0.979" stop-color="#65156e"/><stop offset="0.997" stop-color="#3c0964"/></linearGradient>
<linearGradient id="b68"><stop offset="0.003" stop-color="#330a5e"/><stop offset="0.015" stop-color="#4d0d6c"/><stop offset="0.0389" stop-color="#83206b"/><stop offset="0.0569" stop-color="#ae305c"/><stop offset="0.0749" stop-color="#da4e3c"/><stop offset="0.0928" stop-color="#f47819"/><stop offset="0.1048" stop-color="#fa9307"/><stop offset="0.1168" stop-color="#fca40a"/><stop offset="0.1287" stop-color="#fca80d"/><stop offset="0.1407" stop-color="#fb9807"/><stop offset="0.1467" stop-color="#f98d0a"/><stop offset="0.1647" stop-color="#e75f2e"/><stop offset="0.1826" stop-color="#c13b50"/><stop offset="0.2006" stop-color="#972766"/><stop offset="0.2246" stop-color="#69176e"/><stop offset="0.2545" stop-color="#420a68"/><stop offset="0.2904" stop-color="#240c4f"/><stop offset="0.3383" stop-color="#130a33"/><stop offset="0.4222" stop-color="#090621"/><stop offset="0.5359" stop-color="#08051d"/><stop offset="0.6317" stop-color="#0e092a"/><stop offset="0.6916" stop-color="#1b0c42"/><stop offset="0.7335" stop-color="#350a60"/><stop offset="0.7635" stop-color="#550f6d"/><stop offset="0.7934" stop-color="#88226a"/><stop offset="0.8114" stop-color="#b0315b"/><stop offset="0.8293" stop-color="#d94d3d"/><stop offset="0.8473" stop-color="#f47819"/><stop offset="0.8593" stop-color="#fa9307"/><stop offset="0.8713" stop-color="#fca108"/><stop offset="0.8832" stop-color="#fb9e07"/><stop offset="0.8952" stop-color="#f98c0b"/><stop offset="0.9132" stop-color="#eb6528"/><stop offset="0.9311" stop-color="#c83f4b"/><stop offset="0.9491" stop-color="#9b2964"/><stop offset="0.9731" stop-color="#65156e"/><stop offset="0.991" stop-color="#3e0965"/><stop offset="0.997" stop-color="#310a5c"/></linearGradient>
<linearGradient id="b70"><stop offset="0.003" stop-color="#290b54"/><stop offset="0.015" stop-color="#400a67"/><stop offset="0.0329" stop-color="#66166e"/><stop offset="0.0569" stop-color="#9c2964"/><stop offset="0.0749" stop-color="#ca414a"/><stop offset="0.0928" stop-color="#ed6826"/><stop offset="0.1048" stop-color="#f8860e"/><stop offset="0.1108" stop-color="#fa9307"/><stop offset="0.1228" stop-color="#fca60b"/><stop offset="0.1347" stop-color="#fcac11"/><stop offset="0.1467" stop-color="#fca008"/><stop offset="0.1527" stop-color="#fa9407"/><stop offset="0.1647" stop-color="#f2751b"/><stop offset="0.1826" stop-color="#d54a40"/><stop offset="0.2006" stop-color="#ac2f5d"/><stop offset="0.2246" stop-color="#791c6d"/><stop offset="0.2545" stop-color="#4d0c6b"/><stop offset="0.2964" stop-color="#280b53"/><stop offset="0.3323" stop-color="#180c3d"/><stop offset="0.3982" stop-color="#0d0827"/><stop offset="0.506" stop-color="#09061f"/><stop offset="0.6018" stop-color="#0d0827"/><stop offset="0.6737" stop-color="#1a0c3f"/><stop offset="0.7156" stop-color="#2f0a5a"/><stop offset="0.7515" stop-color="#530e6d"/><stop offset="0.7814" stop-color="#82206c"/><stop offset="0.7994" stop-color="#a92e5f"/><stop offset="0.8174" stop-color="#d34743"/><stop offset="0.8353" stop-color="#f1711f"/><stop offset="0.8473" stop-color="#f98d0a"/><stop offset="0.8593" stop-color="#fca209"/><stop offset="0.8713" stop-color="#fca40a"/><stop offset="0.8832" stop-color="#fb9706"/><stop offset="0.8952" stop-color="#f68013"/><stop offset="0.9132" stop-color="#e05536"/><stop offset="0.9311" stop-color="#b73557"/><stop offset="0.9491" stop-color="#89226a"/><stop offset="0.9731" stop-color="#57106d"/><stop offset="0.985" stop-color="#3e0a66"/><stop offset="0.997" stop-color="#270b52"/></linearGradient>
<linearGradient id="b72"><stop offset="0.003" stop-color="#1f0c48"/><stop offset="0.015" stop-color="#350a60"/><stop offset="0.0329" stop-color="#57106d"/><stop offset="0.0569" stop-color="#8a226a"/><stop offset="0.0749" stop-color="#b93656"/><stop offset="0.0928" stop-color="#e25734"/><stop offset="0.1108" stop-color="#f8850f"/><stop offset="0.1168" stop-color="#fa9307"/><stop offset="0.1287" stop-color="#fca70c"/><stop offset="0.1407" stop-color="#fcaf13"/><stop offset="0.1527" stop-color="#fca60c"/><stop offset="0.1587" stop-color="#fb9b07"/><stop offset="0.1647" stop-color="#f98d0a"/><stop offset="0.1826" stop-color="#e75f2e"/><stop offset="0.2006" stop-color="#c13b50"/><stop offset="0.2186" stop-color="#982865"/><stop offset="0.2425" stop-color="#6b176e"/><stop offset="0.2725" stop-color="#440a69"/><stop offset="0.3084" stop-color="#280b53"/><stop offset="0.3563" stop-color="#160b38"/><stop offset="0.4401" stop-color="#0b0725"/><stop offset="0.5599" stop-color="#0b0725"/><stop offset="0.6437" stop-color="#160b38"/><stop offset="0.6976" stop-color="#2a0b56"/><stop offset="0.7335" stop-color="#490b6a"/><stop offset="0.7635" stop-color="#731a6e"/><stop offset="0.7874" stop-color="#a22b61"/><stop offset="0.8054" stop-color="#cc4248"/><stop offset="0.8234" stop-color="#ed6a24"/><stop offset="0.8353" stop-color="#f8870e"/><stop offset="0.8413" stop-color="#fa9507"/><stop offset="0.8533" stop-color="#fca60c"/><stop offset="0.8653" stop-color="#fca60c"/><stop offset="0.8772" stop-color="#fb9706"/><stop offset="0.8892" stop-color="#f67e14"/><stop offset="0.9072" stop-color="#df5337"/><stop offset="0.9251" stop-color="#b43359"/><stop offset="0.9431" stop-color="#86216b"/><stop offset="0.9671" stop-color="#550f6d"/><stop offset="0.985" stop-color="#320a5e"/><stop offset="0.997" stop-color="#1e0c45"/></linearGradient>
<linearGradient id="b74"><stop offset="0.003" stop-color="#180c3c"/><stop offset="0.021" stop-color="#340a5f"/><stop offset="0.0389" stop-color="#540f6d"/><stop offset="0.0629" stop-color="#85216b"/><stop offset="0.0808" stop-color="#b53458"/><stop offset="0.0988" stop-color="#e05536"/><stop offset="0.1168" stop-color="#f78410"/><stop offset="0.1228" stop-color="#fa9208"/><stop offset="0.1287" stop-color="#fb9e07"/><stop offset="0.1407" stop-color="#fcaf13"/><stop offset="0.1527" stop-color="#fcb216"/><stop offset="0.1647" stop-color="#fca209"/><stop offset="0.1707" stop-color="#fb9607"/><stop offset="0.1826" stop-color="#f3761b"/><stop offset="0.2006" stop-color="#d64a40"/><stop offset="0.2186" stop-color="#ad305c"/><stop offset="0.2425" stop-color="#7b1d6d"/><stop offset="0.2725" stop-color="#4f0d6c"/><stop offset="0.3144" stop-color="#2b0b57"/><stop offset="0.3683" stop-color="#170b3b"/><stop offset="0.4401" stop-color="#0e092a"/><stop offset="0.524" stop-color="#0c0826"/><stop offset="0.6018" stop-color="#120a31"/><stop offset="0.6737" stop-color="#240c4f"/><stop offset="0.7156" stop-color="#420a68"/><stop offset="0.7515" stop-color="#6f196e"/><stop offset="0.7754" stop-color="#9d2964"/><stop offset="0.7934" stop-color="#c63e4d"/><stop offset="0.8114" stop-color="#ea632a"/><stop offset="0.8293" stop-color="#fa9009"/><stop offset="0.8413" stop-color="#fca60b"/><stop offset="0.8533" stop-color="#fcab10"/><stop offset="0.8713" stop-color="#fb9806"/><stop offset="0.8832" stop-color="#f57e15"/><stop offset="0.8952" stop-color="#e8602c"/><stop offset="0.9132" stop-color="#c13a51"/><stop offset="0.9311" stop-color="#902568"/><stop offset="0.9551" stop-color="#5c126e"/><stop offset="0.9731" stop-color="#3d0965"/><stop offset="0.991" stop-color="#1f0c47"/><stop offset="0.997" stop-color="#160b39"/></linearGradient>
<linearGradient id="b76"><stop offset="0.003" stop-color="#120a32"/><stop offset="0.0269" stop-color="#330a5e"/><stop offset="0.0449" stop-color="#500d6c"/><stop offset="0.0689" stop-color="#82206c"/><stop offset="0.0868" stop-color="#b2325a"/><stop offset="0.1048" stop-color="#de5338"/><stop offset="0.1228" stop-color="#f78311"/><stop offset="0.1287" stop-color="#fa9108"/><stop offset="0.1347" stop-color="#fb9e07"/><stop offset="0.1467" stop-color="#fcb115"/><stop offset="0.1587" stop-color="#fbb61b"/><stop offset="0.1707" stop-color="#fca90e"/><stop offset="0.1766" stop-color="#fb9d07"/><stop offset="0.1826" stop-color="#fa8f09"/><stop offset="0.2006" stop-color="#e75f2e"/><stop offset="0.2186" stop-color="#c33b4f"/><stop offset="0.2365" stop-color="#9a2865"/><stop offset="0.2605" stop-color="#6d186e"/><stop offset="0.2904" stop-color="#480b6a"/><stop offset="0.3263" stop-color="#2c0b58"/><stop offset="0.3862" stop-color="#170b3b"/><stop offset="0.4581" stop-color="#0f092c"/><stop offset="0.5539" stop-color="#0f092c"/><stop offset="0.6257" stop-color="#1a0c3f"/><stop offset="0.6796" stop-color="#2f0a5a"/><stop offset="0.7156" stop-color="#4d0c6b"/><stop offset="0.7455" stop-color="#751b6e"/><stop offset="0.7695" stop-color="#a52c60"/><stop offset="0.7874" stop-color="#ce4347"/><stop offset="0.8054" stop-color="#ee6b24"/><stop offset="0.8174" stop-color="#f88a0c"/><stop offset="0.8234" stop-color="#fb9707"/><stop offset="0.8353" stop-color="#fcab10"/><stop offset="0.8473" stop-color="#fcae12"/><stop offset="0.8593" stop-color="#fca309"/><stop offset="0.8653" stop-color="#fb9706"/><stop offset="0.8713" stop-color="#f98b0b"/><stop offset="0.8892" stop-color="#e65d2f"/><stop offset="0.9072" stop-color="#be3853"/><stop offset="0.9251" stop-color="#8d2369"/><stop offset="0.9491" stop-color="#58106e"/><stop offset="0.9671" stop-color="#3a0963"/><stop offset="0.979" stop-color="#270b52"/><stop offset="0.997" stop-color="#110a30"/></linearGradient>
<linearGradient id="b78"><stop offset="0.003" stop-color="#0d0829"/><stop offset="0.0329" stop-color="#310a5c"/><stop offset="0.0569" stop-color="#56106d"/><stop offset="0.0808" stop-color="#8c2369"/><stop offset="0.0988" stop-color="#be3853"/><stop offset="0.1168" stop-color="#e75f2d"/><stop offset="0.1347" stop-color="#fa8f09"/><stop offset="0.1407" stop-color="#fb9d07"/><stop offset="0.1527" stop-color="#fcb216"/><stop offset="0.1647" stop-color="#fbb91e"/><stop offset="0.1766" stop-color="#fcb015"/><stop offset="0.1886" stop-color="#fb9707"/><stop offset="0.2006" stop-color="#f37819"/><stop offset="0.2186" stop-color="#d84c3e"/><stop offset="0.2365" stop-color="#af315b"/><stop offset="0.2605" stop-color="#7d1e6c"/><stop offset="0.2904" stop-color="#530e6d"/><stop offset="0.3263" stop-color="#340a5f"/><stop offset="0.3802" stop-color="#1d0c44"/><stop offset="0.4521" stop-color="#120a31"/><stop offset="0.5479" stop-color="#120a31"/><stop offset="0.6257" stop-color="#1f0c47"/><stop offset="0.6737" stop-color="#340a5f"/><stop offset="0.7156" stop-color="#59106e"/><stop offset="0.7395" stop-color="#7c1d6d"/><stop offset="0.7635" stop-color="#ad305c"/><stop offset="0.7814" stop-color="#d54a40"/><stop offset="0.7994" stop-color="#f2731d"/><stop offset="0.8114" stop-color="#fa9208"/><stop offset="0.8174" stop-color="#fca008"/><stop offset="0.8293" stop-color="#fcb014"/><stop offset="0.8413" stop-color="#fcb115"/><stop offset="0.8533" stop-color="#fca209"/><stop offset="0.8593" stop-color="#fb9706"/><stop offset="0.8713" stop-color="#f47a17"/><stop offset="0.8892" stop-color="#d84d3e"/><stop offset="0.9072" stop-color="#a92e5e"/><stop offset="0.9251" stop-color="#7a1d6d"/><stop offset="0.9491" stop-color="#490c6a"/><stop offset="0.9671" stop-color="#2e0a5a"/><stop offset="0.997" stop-color="#0d0829"/></linearGradient>
<linearGradient id="b80"><stop offset="0.003" stop-color="#0a0722"/><stop offset="0.0329" stop-color="#250c50"/><stop offset="0.0509" stop-color="#3d0965"/><stop offset="0.0749" stop-color="#6a176e"/><stop offset="0.0928" stop-color="#982865"/><stop offset="0.1108" stop-color="#ca414a"/><stop offset="0.1287" stop-color="#ef6c23"/><stop offset="0.1407" stop-color="#f98d0a"/><stop offset="0.1467" stop-color="#fb9b07"/><stop offset="0.1587" stop-color="#fcb216"/><stop offset="0.1707" stop-color="#fbbd22"/><stop offset="0.1826" stop-color="#fbb61b"/><stop offset="0.1946" stop-color="#fca109"/><stop offset="0.2006" stop-color="#fa9109"/><stop offset="0.2186" stop-color="#e9612b"/><stop offset="0.2305" stop-color="#d24644"/><stop offset="0.2545" stop-color="#9c2964"/><stop offset="0.2844" stop-color="#68166e"/><stop offset="0.3204" stop-color="#430a68"/><stop offset="0.3623" stop-color="#290b55"/><stop offset="0.4341" stop-color="#170b3b"/><stop offset="0.512" stop-color="#130a33"/><stop offset="0.5898" stop-color="#1b0c41"/><stop offset="0.6497" stop-color="#2f0a5a"/><stop offset="0.6916" stop-color="#4c0c6b"/><stop offset="0.7216" stop-color="#70196e"/><stop offset="0.7455" stop-color="#9b2865"/><stop offset="0.7635" stop-color="#c33b4f"/><stop offset="0.7814" stop-color="#e75f2e"/><stop offset="0.7994" stop-color="#f98d0a"/><stop offset="0.8054" stop-color="#fb9b07"/><stop offset="0.8174" stop-color="#fcb015"/><stop offset="0.8234" stop-color="#fbb61b"/><stop offset="0.8353" stop-color="#fcb317"/><stop offset="0.8473" stop-color="#fca209"/><stop offset="0.8533" stop-color="#fb9607"/><stop offset="0.8713" stop-color="#ec6726"/><stop offset="0.8832" stop-color="#d64a40"/><stop offset="0.9012" stop-color="#a62d60"/><stop offset="0.9192" stop-color="#751b6e"/><stop offset="0.9431" stop-color="#450b69"/><stop offset="0.9611" stop-color="#2b0b57"/><stop offset="0.991" stop-color="#0d0829"/><stop offset="0.997" stop-color="#090621"/></linearGradient>
<linearGradient id="b82"><stop offset="0.003" stop-color="#07051c"/><stop offset="0.0389" stop-color="#220c4b"/><stop offset="0.0629" stop-color="#430a68"/><stop offset="0.0868" stop-color="#741a6e"/><stop offset="0.1048" stop-color="#a62d60"/><stop offset="0.1228" stop-color="#d64a40"/><stop offset="0.1347" stop-color="#ed6925"/><stop offset="0.1467" stop-color="#f98a0c"/><stop offset="0.1527" stop-color="#fb9a07"/><stop offset="0.1707" stop-color="#fbbb20"/><stop offset="0.1826" stop-color="#fac026"/><stop offset="0.1886" stop-color="#fbbd22"/><stop offset="0.2066" stop-color="#fb9a07"/><stop offset="0.2126" stop-color="#f98b0c"/><stop offset="0.2305" stop-color="#e45b31"/><stop offset="0.2485" stop-color="#bf3952"/><stop offset="0.2665" stop-color="#982865"/><stop offset="0.2904" stop-color="#6e186e"/><stop offset="0.3263" stop-color="#480b6a"/><stop offset="0.3802" stop-color="#290b55"/><stop offset="0.4401" stop-color="#1b0c41"/><stop offset="0.506" stop-color="#160b39"/><stop offset="0.5898" stop-color="#1f0c48"/><stop offset="0.6497" stop-color="#380962"/><stop offset="0.6856" stop-color="#520e6d"/><stop offset="0.7156" stop-color="#761b6d"/><stop offset="0.7395" stop-color="#a22b61"/><stop offset="0.7575" stop-color="#cb4149"/><stop offset="0.7695" stop-color="#e25833"/><stop offset="0.7874" stop-color="#f8860e"/><stop offset="0.7934" stop-color="#fb9607"/><stop offset="0.8054" stop-color="#fcae13"/><stop offset="0.8174" stop-color="#fbb91e"/><stop offset="0.8293" stop-color="#fcb418"/><stop offset="0.8413" stop-color="#fca108"/><stop offset="0.8473" stop-color="#fa9407"/><stop offset="0.8653" stop-color="#ea6429"/><stop offset="0.8832" stop-color="#c33c4f"/><stop offset="0.9012" stop-color="#902568"/><stop offset="0.9192" stop-color="#64156e"/><stop offset="0.9371" stop-color="#410a67"/><stop offset="0.9611" stop-color="#210c4a"/><stop offset="0.991" stop-color="#0a0722"/><stop offset="0.997" stop-color="#07051c"/></linearGradient>
<linearGradient id="b84"><stop offset="0.003" stop-color="#050418"/><stop offset="0.0389" stop-color="#1a0c3f"/><stop offset="0.0629" stop-color="#350a60"/><stop offset="0.0808" stop-color="#550f6d"/><stop offset="0.0988" stop-color="#7f1e6c"/><stop offset="0.1168" stop-color="#b2325a"/><stop offset="0.1347" stop-color="#e05536"/><stop offset="0.1527" stop-color="#f8870e"/><stop offset="0.1587" stop-color="#fb9707"/><stop offset="0.1707" stop-color="#fcb115"/><stop offset="0.1826" stop-color="#fac127"/><stop offset="0.1946" stop-color="#fac228"/><stop offset="0.2066" stop-color="#fcb116"/><stop offset="0.2126" stop-color="#fca50b"/><stop offset="0.2186" stop-color="#fa9508"/><stop offset="0.2305" stop-color="#f2741c"/><stop offset="0.2485" stop-color="#d44942"/><stop offset="0.2725" stop-color="#a12b62"/><stop offset="0.3024" stop-color="#6e186e"/><stop offset="0.3383" stop-color="#4a0c6b"/><stop offset="0.3862" stop-color="#2f0a5a"/><stop offset="0.4521" stop-color="#1e0c45"/><stop offset="0.518" stop-color="#1b0c41"/><stop offset="0.5898" stop-color="#260c51"/><stop offset="0.6497" stop-color="#410a67"/><stop offset="0.6916" stop-color="#65156e"/><stop offset="0.7216" stop-color="#932667"/><stop offset="0.7455" stop-color="#c63d4d"/><stop offset="0.7635" stop-color="#e9612b"/><stop offset="0.7814" stop-color="#fa9109"/><stop offset="0.7874" stop-color="#fb9f08"/><stop offset="0.7994" stop-color="#fbb61b"/><stop offset="0.8114" stop-color="#fbbd22"/><stop offset="0.8234" stop-color="#fcb418"/><stop offset="0.8353" stop-color="#fc9f08"/><stop offset="0.8413" stop-color="#fa9108"/><stop offset="0.8593" stop-color="#e8612c"/><stop offset="0.8772" stop-color="#bf3952"/><stop offset="0.8952" stop-color="#8c2369"/><stop offset="0.9132" stop-color="#5f136e"/><stop offset="0.9311" stop-color="#3d0965"/><stop offset="0.9551" stop-color="#1d0c44"/><stop offset="0.997" stop-color="#050418"/></linearGradient>
<linearGradient id="b86"><stop offset="0.003" stop-color="#040313"/><stop offset="0.0449" stop-color="#170b3b"/><stop offset="0.0689" stop-color="#310a5c"/><stop offset="0.0868" stop-color="#510e6c"/><stop offset="0.1048" stop-color="#7a1d6d"/><stop offset="0.1228" stop-color="#ad305c"/><stop offset="0.1407" stop-color="#dd5239"/><stop offset="0.1587" stop-color="#f78410"/><stop offset="0.1647" stop-color="#fa9407"/><stop offset="0.1707" stop-color="#fca40a"/><stop offset="0.1886" stop-color="#fac329"/><stop offset="0.2006" stop-color="#fac62d"/><stop offset="0.2126" stop-color="#fbb91e"/><stop offset="0.2246" stop-color="#fb9f08"/><stop offset="0.2305" stop-color="#f98e0a"/><stop offset="0.2485" stop-color="#e75f2e"/><stop offset="0.2665" stop-color="#c33c4f"/><stop offset="0.2904" stop-color="#932567"/><stop offset="0.3204" stop-color="#68166e"/><stop offset="0.3683" stop-color="#410a67"/><stop offset="0.4341" stop-color="#260c51"/><stop offset="0.512" stop-color="#1f0c48"/><stop offset="0.5838" stop-color="#2b0b57"/><stop offset="0.6377" stop-color="#440a69"/><stop offset="0.6796" stop-color="#66166e"/><stop offset="0.7096" stop-color="#912568"/><stop offset="0.7335" stop-color="#c13b50"/><stop offset="0.7515" stop-color="#e55c30"/><stop offset="0.7695" stop-color="#f98b0c"/><stop offset="0.7754" stop-color="#fb9a07"/><stop offset="0.7874" stop-color="#fcb318"/><stop offset="0.7994" stop-color="#fac026"/><stop offset="0.8114" stop-color="#fbbc21"/><stop offset="0.8234" stop-color="#fcaa0f"/><stop offset="0.8293" stop-color="#fb9d07"/><stop offset="0.8353" stop-color="#f98e0a"/><stop offset="0.8533" stop-color="#e55c30"/><stop offset="0.8713" stop-color="#bb3755"/><stop offset="0.8892" stop-color="#88226a"/><stop offset="0.9072" stop-color="#5b116e"/><stop offset="0.9251" stop-color="#380962"/><stop offset="0.9491" stop-color="#1a0c3f"/><stop offset="0.991" stop-color="#050418"/><stop offset="0.997" stop-color="#040313"/></linearGradient>
<linearGradient id="b88"><stop offset="0.003" stop-color="#030210"/><stop offset="0.0509" stop-color="#140b36"/><stop offset="0.0689" stop-color="#240c4f"/><stop offset="0.0868" stop-color="#410a67"/><stop offset="0.1048" stop-color="#67166e"/><stop offset="0.1228" stop-color="#962766"/><stop offset="0.1407" stop-color="#ca404a"/><stop offset="0.1587" stop-color="#ef6d22"/><stop offset="0.1707" stop-color="#fa9009"/><stop offset="0.1766" stop-color="#fca008"/><stop offset="0.1886" stop-color="#fbbb20"/><stop offset="0.2006" stop-color="#f9c831"/><stop offset="0.2066" stop-color="#f9ca33"/><stop offset="0.2186" stop-color="#fac026"/><stop offset="0.2305" stop-color="#fca80e"/><stop offset="0.2365" stop-color="#fb9807"/><stop offset="0.2425" stop-color="#f8890d"/><stop offset="0.2605" stop-color="#e35933"/><stop offset="0.2784" stop-color="#c03a51"/><stop offset="0.3024" stop-color="#922568"/><stop offset="0.3323" stop-color="#69176e"/><stop offset="0.3802" stop-color="#440a69"/><stop offset="0.4401" stop-color="#2d0b59"/><stop offset="0.506" stop-color="#260c51"/><stop offset="0.5719" stop-color="#300a5b"/><stop offset="0.6317" stop-color="#4c0c6b"/><stop offset="0.6737" stop-color="#70196e"/><stop offset="0.7036" stop-color="#9b2865"/><stop offset="0.7275" stop-color="#cb4149"/><stop offset="0.7455" stop-color="#ea6429"/><stop offset="0.7635" stop-color="#fa9508"/><stop offset="0.7695" stop-color="#fca40b"/><stop offset="0.7814" stop-color="#fbbb20"/><stop offset="0.7934" stop-color="#fac52c"/><stop offset="0.8054" stop-color="#fbbd22"/><stop offset="0.8234" stop-color="#fb9a07"/><stop offset="0.8293" stop-color="#f98b0b"/><stop offset="0.8473" stop-color="#e25833"/><stop offset="0.8653" stop-color="#b63457"/><stop offset="0.8832" stop-color="#83206b"/><stop offset="0.9012" stop-color="#56106d"/><stop offset="0.9192" stop-color="#340a5f"/><stop offset="0.9431" stop-color="#170b3b"/><stop offset="0.9731" stop-color="#09061f"/><stop offset="0.997" stop-color="#03020f"/></linearGradient>
<linearGradient id="b90"><stop offset="0.003" stop-color="#02020d"/><stop offset="0.0569" stop-color="#120a31"/><stop offset="0.0749" stop-color="#200c49"/><stop offset="0.0928" stop-color="#3d0965"/><stop offset="0.1108" stop-color="#62146e"/><stop offset="0.1287" stop-color="#912568"/><stop offset="0.1467" stop-color="#c63d4d"/><stop offset="0.1647" stop-color="#ed6826"/><stop offset="0.1766" stop-color="#f98c0b"/><stop offset="0.1826" stop-color="#fb9c07"/><stop offset="0.1946" stop-color="#fbb91e"/><stop offset="0.2066" stop-color="#f9c831"/><stop offset="0.2126" stop-color="#f8cc36"/><stop offset="0.2246" stop-color="#f9c62e"/><stop offset="0.2365" stop-color="#fcb217"/><stop offset="0.2425" stop-color="#fca40b"/><stop offset="0.2485" stop-color="#fa9408"/><stop offset="0.2605" stop-color="#f1731d"/><stop offset="0.2784" stop-color="#d54a40"/><stop offset="0.2964" stop-color="#b2325a"/><stop offset="0.3263" stop-color="#811f6c"/><stop offset="0.3623" stop-color="#5d126e"/><stop offset="0.4102" stop-color="#3f0a66"/><stop offset="0.476" stop-color="#2f0a5a"/><stop offset="0.5419" stop-color="#310a5c"/><stop offset="0.6018" stop-color="#450b69"/><stop offset="0.6497" stop-color="#66166e"/><stop offset="0.6796" stop-color="#88226a"/><stop offset="0.7036" stop-color="#b0315b"/><stop offset="0.7216" stop-color="#d34842"/><stop offset="0.7395" stop-color="#f06f20"/><stop offset="0.7515" stop-color="#fa8f09"/><stop offset="0.7575" stop-color="#fba009"/><stop offset="0.7754" stop-color="#fac228"/><stop offset="0.7874" stop-color="#f9c62e"/><stop offset="0.7994" stop-color="#fbbd22"/><stop offset="0.8114" stop-color="#fca60b"/><stop offset="0.8174" stop-color="#fb9707"/><stop offset="0.8234" stop-color="#f8870e"/><stop offset="0.8413" stop-color="#df5437"/><stop offset="0.8593" stop-color="#b1325a"/><stop offset="0.8772" stop-color="#7e1e6c"/><stop offset="0.8952" stop-color="#520e6d"/><stop offset="0.9132" stop-color="#310a5c"/><stop offset="0.9371" stop-color="#150b37"/><stop offset="0.979" stop-color="#050416"/><stop offset="0.997" stop-color="#02020d"/></linearGradient>
<linearGradient id="b92"><stop offset="0.003" stop-color="#02010b"/><stop offset="0.0569" stop-color="#0d0827"/><stop offset="0.0808" stop-color="#1d0c44"/><stop offset="0.0988" stop-color="#380962"/><stop offset="0.1168" stop-color="#5d126e"/><stop offset="0.1347" stop-color="#8c2369"/><stop offset="0.1527" stop-color="#c03a51"/><stop offset="0.1707" stop-color="#ea632a"/><stop offset="0.1826" stop-color="#f8860e"/><stop offset="0.1886" stop-color="#fb9707"/><stop offset="0.1946" stop-color="#fca70d"/><stop offset="0.2066" stop-color="#fac127"/><stop offset="0.2186" stop-color="#f8ce39"/><stop offset="0.2246" stop-color="#f8d03b"/><stop offset="0.2365" stop-color="#fac62d"/><stop offset="0.2545" stop-color="#fb9e08"/><stop offset="0.2605" stop-color="#f98e0a"/><stop offset="0.2784" stop-color="#e75f2d"/><stop offset="0.2964" stop-color="#c83f4b"/><stop offset="0.3204" stop-color="#9e2a63"/><stop offset="0.3503" stop-color="#771c6d"/><stop offset="0.3922" stop-color="#540f6d"/><stop offset="0.4401" stop-color="#3f0a66"/><stop offset="0.494" stop-color="#360960"/><stop offset="0.5479" stop-color="#3c0964"/><stop offset="0.5958" stop-color="#4d0d6c"/><stop offset="0.6377" stop-color="#6a176e"/><stop offset="0.6737" stop-color="#932667"/><stop offset="0.6976" stop-color="#bb3755"/><stop offset="0.7156" stop-color="#dc513a"/><stop offset="0.7335" stop-color="#f47b17"/><stop offset="0.7395" stop-color="#f98b0c"/><stop offset="0.7455" stop-color="#fb9a07"/><stop offset="0.7575" stop-color="#fbb71c"/><stop offset="0.7695" stop-color="#f9c72f"/><stop offset="0.7814" stop-color="#f9c932"/><stop offset="0.7934" stop-color="#fbbc21"/><stop offset="0.8054" stop-color="#fca209"/><stop offset="0.8114" stop-color="#fa9208"/><stop offset="0.8293" stop-color="#e75f2d"/><stop offset="0.8473" stop-color="#bd3853"/><stop offset="0.8653" stop-color="#89226a"/><stop offset="0.8832" stop-color="#5b116e"/><stop offset="0.9012" stop-color="#370a61"/><stop offset="0.9192" stop-color="#1d0c44"/><stop offset="0.9371" stop-color="#0e092b"/><stop offset="0.991" stop-color="#02020d"/><stop offset="0.997" stop-color="#02010b"/></linearGradient>
<linearGradient id="b94"><stop offset="0.003" stop-color="#02010a"/><stop offset="0.0629" stop-color="#0b0724"/><stop offset="0.0868" stop-color="#1a0c3f"/><stop offset="0.1048" stop-color="#340a5f"/><stop offset="0.1228" stop-color="#59106e"/><stop offset="0.1407" stop-color="#86216b"/><stop offset="0.1587" stop-color="#ba3655"/><stop offset="0.1766" stop-color="#e65d2f"/><stop offset="0.1946" stop-color="#fa9308"/><stop offset="0.2006" stop-color="#fca40a"/><stop offset="0.2186" stop-color="#f9c932"/><stop offset="0.2305" stop-color="#f7d340"/><stop offset="0.2425" stop-color="#f8cc36"/><stop offset="0.2545" stop-color="#fbb81d"/><stop offset="0.2605" stop-color="#fca90f"/><stop offset="0.2665" stop-color="#fb9a07"/><stop offset="0.2725" stop-color="#f98b0c"/><stop offset="0.2904" stop-color="#e65d2f"/><stop offset="0.3084" stop-color="#c83f4b"/><stop offset="0.3323" stop-color="#a12b62"/><stop offset="0.3683" stop-color="#751b6e"/><stop offset="0.4162" stop-color="#530e6d"/><stop offset="0.482" stop-color="#3f0a66"/><stop offset="0.5359" stop-color="#430a68"/><stop offset="0.5958" stop-color="#59106e"/><stop offset="0.6437" stop-color="#801f6c"/><stop offset="0.6737" stop-color="#a92e5f"/><stop offset="0.6976" stop-color="#d04545"/><stop offset="0.7156" stop-color="#ec6826"/><stop offset="0.7275" stop-color="#f8870e"/><stop offset="0.7335" stop-color="#fb9707"/><stop offset="0.7395" stop-color="#fca60c"/><stop offset="0.7515" stop-color="#fbbf25"/><stop offset="0.7635" stop-color="#f8cc36"/><stop offset="0.7754" stop-color="#f9ca33"/><stop offset="0.7934" stop-color="#fcad12"/><stop offset="0.7994" stop-color="#fb9e07"/><stop offset="0.8054" stop-color="#f98e0a"/><stop offset="0.8234" stop-color="#e45a31"/><stop offset="0.8353" stop-color="#c73e4c"/><stop offset="0.8533" stop-color="#942667"/><stop offset="0.8713" stop-color="#64156e"/><stop offset="0.8892" stop-color="#3e0a65"/><stop offset="0.9072" stop-color="#200c49"/><stop offset="0.9251" stop-color="#100a2f"/><stop offset="0.9611" stop-color="#050416"/><stop offset="0.997" stop-color="#02010a"/></linearGradient>
<linearGradient id="b96"><stop offset="0.003" stop-color="#010108"/><stop offset="0.0689" stop-color="#090621"/><stop offset="0.0928" stop-color="#180c3d"/><stop offset="0.1108" stop-color="#310a5c"/><stop offset="0.1287" stop-color="#540f6d"/><stop offset="0.1467" stop-color="#801f6c"/><stop offset="0.1647" stop-color="#b43359"/><stop offset="0.1766" stop-color="#d44942"/><stop offset="0.1886" stop-color="#ed6826"/><stop offset="0.2006" stop-color="#f98d0a"/><stop offset="0.2066" stop-color="#fb9f08"/><stop offset="0.2186" stop-color="#fbbe23"/><stop offset="0.2305" stop-color="#f8d03b"/><stop offset="0.2425" stop-color="#f6d644"/><stop offset="0.2545" stop-color="#f8cb35"/><stop offset="0.2725" stop-color="#fca60c"/><stop offset="0.2784" stop-color="#fb9707"/><stop offset="0.2904" stop-color="#f37819"/><stop offset="0.3084" stop-color="#dc513a"/><stop offset="0.3323" stop-color="#b63457"/><stop offset="0.3623" stop-color="#8d2369"/><stop offset="0.4042" stop-color="#68166e"/><stop offset="0.4581" stop-color="#4f0d6c"/><stop offset="0.512" stop-color="#4a0c6b"/><stop offset="0.5659" stop-color="#57106d"/><stop offset="0.6138" stop-color="#741b6e"/><stop offset="0.6557" stop-color="#a42c61"/><stop offset="0.6796" stop-color="#c83f4b"/><stop offset="0.6976" stop-color="#e45a31"/><stop offset="0.7216" stop-color="#fa9308"/><stop offset="0.7275" stop-color="#fca20a"/><stop offset="0.7455" stop-color="#f9c730"/><stop offset="0.7575" stop-color="#f8d03b"/><stop offset="0.7695" stop-color="#f9ca33"/><stop offset="0.7814" stop-color="#fbb81d"/><stop offset="0.7874" stop-color="#fca90e"/><stop offset="0.7934" stop-color="#fb9907"/><stop offset="0.7994" stop-color="#f8880d"/><stop offset="0.8174" stop-color="#e05536"/><stop offset="0.8353" stop-color="#b1325a"/><stop offset="0.8533" stop-color="#7e1e6c"/><stop offset="0.8713" stop-color="#520e6d"/><stop offset="0.8892" stop-color="#2f0a5a"/><stop offset="0.9072" stop-color="#170b3b"/><stop offset="0.9311" stop-color="#090621"/><stop offset="0.9611" stop-color="#040312"/><stop offset="0.997" stop-color="#010108"/></linearGradient>
<linearGradient id="b98"><stop offset="0.003" stop-color="#010108"/><stop offset="0.0689" stop-color="#06051a"/><stop offset="0.0928" stop-color="#110a30"/><stop offset="0.1168" stop-color="#2b0b57"/><stop offset="0.1287" stop-color="#430a68"/><stop offset="0.1467" stop-color="#6a176e"/><stop offset="0.1647" stop-color="#9b2964"/><stop offset="0.1826" stop-color="#cf4446"/><stop offset="0.2006" stop-color="#f2741c"/><stop offset="0.2066" stop-color="#f8860e"/><stop offset="0.2126" stop-color="#fb9807"/><stop offset="0.2186" stop-color="#fcaa0f"/><stop offset="0.2365" stop-color="#f8cf3a"/><stop offset="0.2485" stop-color="#f5d949"/><stop offset="0.2605" stop-color="#f7d23e"/><stop offset="0.2784" stop-color="#fcb217"/><stop offset="0.2844" stop-color="#fca40b"/><stop offset="0.2904" stop-color="#fa9408"/><stop offset="0.3144" stop-color="#e65d2f"/><stop offset="0.3383" stop-color="#c33c4f"/><stop offset="0.3743" stop-color="#932667"/><stop offset="0.4162" stop-color="#6e186e"/><stop offset="0.476" stop-color="#57106d"/><stop offset="0.5299" stop-color="#59106e"/><stop offset="0.5838" stop-color="#6e186e"/><stop offset="0.6198" stop-color="#8d2369"/><stop offset="0.6557" stop-color="#b93656"/><stop offset="0.6796" stop-color="#dc513a"/><stop offset="0.7036" stop-color="#f68212"/><stop offset="0.7096" stop-color="#fa9209"/><stop offset="0.7156" stop-color="#fba009"/><stop offset="0.7335" stop-color="#f9c62e"/><stop offset="0.7455" stop-color="#f7d340"/><stop offset="0.7575" stop-color="#f8d03b"/><stop offset="0.7695" stop-color="#fac127"/><stop offset="0.7814" stop-color="#fca50b"/><stop offset="0.7874" stop-color="#fa9407"/><stop offset="0.7994" stop-color="#f0701f"/><stop offset="0.8174" stop-color="#cc4249"/><stop offset="0.8353" stop-color="#982865"/><stop offset="0.8533" stop-color="#69166e"/><stop offset="0.8713" stop-color="#410a67"/><stop offset="0.8892" stop-color="#220c4b"/><stop offset="0.9072" stop-color="#100a2f"/><stop offset="0.9311" stop-color="#06051a"/><stop offset="0.991" stop-color="#010108"/><stop offset="0.997" stop-color="#010107"/></linearGradient>
<linearGradient id="b100"><stop offset="0.003" stop-color="#010106"/><stop offset="0.0749" stop-color="#050418"/><stop offset="0.0988" stop-color="#0f092c"/><stop offset="0.1228" stop-color="#280b53"/><stop offset="0.1407" stop-color="#4a0c6b"/><stop offset="0.1587" stop-color="#731a6e"/><stop offset="0.1766" stop-color="#a62d60"/><stop offset="0.1946" stop-color="#d84c3e"/><stop offset="0.2066" stop-color="#ee6c22"/><stop offset="0.2186" stop-color="#fa9308"/><stop offset="0.2246" stop-color="#fca50b"/><stop offset="0.2425" stop-color="#f8ce39"/><stop offset="0.2545" stop-color="#f5da4a"/><stop offset="0.2605" stop-color="#f5dc4e"/><stop offset="0.2725" stop-color="#f7d340"/><stop offset="0.2964" stop-color="#fca30b"/><stop offset="0.3024" stop-color="#fa9408"/><stop offset="0.3263" stop-color="#e75f2d"/><stop offset="0.3503" stop-color="#c83f4b"/><stop offset="0.3862" stop-color="#9b2865"/><stop offset="0.4222" stop-color="#7c1d6d"/><stop offset="0.4701" stop-color="#66166e"/><stop offset="0.518" stop-color="#64156e"/><stop offset="0.5659" stop-color="#741b6e"/><stop offset="0.6078" stop-color="#932667"/><stop offset="0.6437" stop-color="#bf3952"/><stop offset="0.6677" stop-color="#df5437"/><stop offset="0.6916" stop-color="#f78311"/><stop offset="0.6976" stop-color="#fa9009"/><stop offset="0.7036" stop-color="#fb9f09"/><stop offset="0.7216" stop-color="#fac52c"/><stop offset="0.7335" stop-color="#f7d441"/><stop offset="0.7455" stop-color="#f6d543"/><stop offset="0.7515" stop-color="#f7d13d"/><stop offset="0.7635" stop-color="#fbbe23"/><stop offset="0.7754" stop-color="#fb9f08"/><stop offset="0.7814" stop-color="#f98d0a"/><stop offset="0.7934" stop-color="#ed6925"/><stop offset="0.8114" stop-color="#c63d4d"/><stop offset="0.8293" stop-color="#922567"/><stop offset="0.8473" stop-color="#62146e"/><stop offset="0.8653" stop-color="#3c0964"/><stop offset="0.8832" stop-color="#1f0c47"/><stop offset="0.9072" stop-color="#0b0724"/><stop offset="0.9431" stop-color="#030311"/><stop offset="0.997" stop-color="#010106"/></linearGradient>
<linearGradient id="b102"><stop offset="0.003" stop-color="#010106"/><stop offset="0.0808" stop-color="#050416"/><stop offset="0.1108" stop-color="#110a30"/><stop offset="0.1347" stop-color="#2f0a5a"/><stop offset="0.1527" stop-color="#510e6c"/><stop offset="0.1707" stop-color="#7c1e6d"/><stop offset="0.1886" stop-color="#b0315b"/><stop offset="0.2066" stop-color="#e05536"/><stop offset="0.2186" stop-color="#f37819"/><stop offset="0.2246" stop-color="#f98b0c"/><stop offset="0.2305" stop-color="#fb9e08"/><stop offset="0.2365" stop-color="#fcae13"/><stop offset="0.2485" stop-color="#f8cb35"/><stop offset="0.2605" stop-color="#f5db4c"/><stop offset="0.2665" stop-color="#f4de51"/><stop offset="0.2784" stop-color="#f5da4a"/><stop offset="0.2964" stop-color="#fbbe24"/><stop offset="0.3084" stop-color="#fca30b"/><stop offset="0.3144" stop-color="#fa9608"/><stop offset="0.3383" stop-color="#ea6429"/><stop offset="0.3623" stop-color="#cf4446"/><stop offset="0.3922" stop-color="#aa2f5e"/><stop offset="0.4341" stop-color="#85216b"/><stop offset="0.482" stop-color="#731a6e"/><stop offset="0.524" stop-color="#741b6e"/><stop offset="0.5659" stop-color="#85216b"/><stop offset="0.6078" stop-color="#a92e5f"/><stop offset="0.6377" stop-color="#ce4347"/><stop offset="0.6617" stop-color="#e9622b"/><stop offset="0.6856" stop-color="#fa9209"/><stop offset="0.6916" stop-color="#fba009"/><stop offset="0.7156" stop-color="#f8ce39"/><stop offset="0.7216" stop-color="#f6d644"/><stop offset="0.7335" stop-color="#f5d949"/><stop offset="0.7455" stop-color="#f8cf3a"/><stop offset="0.7635" stop-color="#fcaa0f"/><stop offset="0.7695" stop-color="#fb9907"/><stop offset="0.7754" stop-color="#f8860e"/><stop offset="0.7874" stop-color="#e9622b"/><stop offset="0.8054" stop-color="#be3952"/><stop offset="0.8234" stop-color="#8b236a"/><stop offset="0.8413" stop-color="#5d126e"/><stop offset="0.8593" stop-color="#380962"/><stop offset="0.8772" stop-color="#1b0c42"/><stop offset="0.9012" stop-color="#0a0722"/><stop offset="0.9371" stop-color="#03020f"/><stop offset="0.997" stop-color="#010106"/></linearGradient>
<linearGradient id="b104"><stop offset="0.003" stop-color="#010106"/><stop offset="0.0749" stop-color="#03020f"/><stop offset="0.1048" stop-color="#09061f"/><stop offset="0.1287" stop-color="#1a0c3f"/><stop offset="0.1467" stop-color="#340a5f"/><stop offset="0.1647" stop-color="#59106e"/><stop offset="0.1826" stop-color="#85216b"/><stop offset="0.2006" stop-color="#b93655"/><stop offset="0.2186" stop-color="#e65e2e"/><stop offset="0.2305" stop-color="#f78410"/><stop offset="0.2365" stop-color="#fb9707"/><stop offset="0.2425" stop-color="#fca80e"/><stop offset="0.2605" stop-color="#f7d23e"/><stop offset="0.2725" stop-color="#f4e054"/><stop offset="0.2844" stop-color="#f4df53"/><stop offset="0.2964" stop-color="#f7d340"/><stop offset="0.3204" stop-color="#fca70d"/><stop offset="0.3263" stop-color="#fb9908"/><stop offset="0.3383" stop-color="#f68112"/><stop offset="0.3623" stop-color="#e25833"/><stop offset="0.3922" stop-color="#c03a51"/><stop offset="0.4281" stop-color="#9e2a63"/><stop offset="0.4701" stop-color="#88226a"/><stop offset="0.512" stop-color="#84206b"/><stop offset="0.5599" stop-color="#952667"/><stop offset="0.6018" stop-color="#b93656"/><stop offset="0.6317" stop-color="#db4f3b"/><stop offset="0.6617" stop-color="#f57e14"/><stop offset="0.6737" stop-color="#fb9708"/><stop offset="0.6796" stop-color="#fca30b"/><stop offset="0.7036" stop-color="#f8cf3a"/><stop offset="0.7156" stop-color="#f5db4c"/><stop offset="0.7216" stop-color="#f4dd4f"/><stop offset="0.7335" stop-color="#f6d543"/><stop offset="0.7455" stop-color="#fac228"/><stop offset="0.7575" stop-color="#fca40b"/><stop offset="0.7635" stop-color="#fa9209"/><stop offset="0.7754" stop-color="#ee6c22"/><stop offset="0.7934" stop-color="#c83f4b"/><stop offset="0.8114" stop-color="#932667"/><stop offset="0.8293" stop-color="#65156e"/><stop offset="0.8473" stop-color="#3e0a65"/><stop offset="0.8653" stop-color="#200c49"/><stop offset="0.8892" stop-color="#0b0724"/><stop offset="0.9251" stop-color="#03020f"/><stop offset="0.997" stop-color="#010106"/></linearGradient>
<linearGradient id="b106"><stop offset="0.003" stop-color="#010005"/><stop offset="0.0808" stop-color="#02020e"/><stop offset="0.1108" stop-color="#08051d"/><stop offset="0.1347" stop-color="#170b3b"/><stop offset="0.1587" stop-color="#3a0963"/><stop offset="0.1766" stop-color="#60136e"/><stop offset="0.1946" stop-color="#8f2468"/><stop offset="0.2126" stop-color="#c33c4f"/><stop offset="0.2305" stop-color="#ec6826"/><stop offset="0.2425" stop-color="#f98e0a"/><stop offset="0.2485" stop-color="#fba009"/><stop offset="0.2665" stop-color="#f8cd37"/><stop offset="0.2784" stop-color="#f4df53"/><stop offset="0.2904" stop-color="#f3e45b"/><stop offset="0.3024" stop-color="#f4dd4f"/><stop offset="0.3263" stop-color="#fbb71c"/><stop offset="0.3383" stop-color="#fb9f09"/><stop offset="0.3443" stop-color="#fa9408"/><stop offset="0.3743" stop-color="#e8602c"/><stop offset="0.4042" stop-color="#ca404a"/><stop offset="0.4461" stop-color="#a72d5f"/><stop offset="0.488" stop-color="#972766"/><stop offset="0.5299" stop-color="#9b2964"/><stop offset="0.5778" stop-color="#b83556"/><stop offset="0.6078" stop-color="#d54a40"/><stop offset="0.6377" stop-color="#f1711f"/><stop offset="0.6557" stop-color="#fa9109"/><stop offset="0.6617" stop-color="#fb9d08"/><stop offset="0.6737" stop-color="#fcb318"/><stop offset="0.6916" stop-color="#f7d23f"/><stop offset="0.7036" stop-color="#f4dd4f"/><stop offset="0.7096" stop-color="#f4e054"/><stop offset="0.7216" stop-color="#f5db4c"/><stop offset="0.7335" stop-color="#f9c932"/><stop offset="0.7515" stop-color="#fb9c08"/><stop offset="0.7575" stop-color="#f88a0c"/><stop offset="0.7695" stop-color="#eb6528"/><stop offset="0.7874" stop-color="#c13a51"/><stop offset="0.8054" stop-color="#8c2369"/><stop offset="0.8234" stop-color="#5e136e"/><stop offset="0.8413" stop-color="#380962"/><stop offset="0.8593" stop-color="#1d0c44"/><stop offset="0.8832" stop-color="#0a0722"/><stop offset="0.9192" stop-color="#02020e"/><stop offset="0.997" stop-color="#010005"/></linearGradient>
<linearGradient id="b108"><stop offset="0.003" stop-color="#010005"/><stop offset="0.0868" stop-color="#02020d"/><stop offset="0.1168" stop-color="#07051b"/><stop offset="0.1407" stop-color="#140b36"/><stop offset="0.1647" stop-color="#350a60"/><stop offset="0.1826" stop-color="#59106e"/><stop offset="0.2006" stop-color="#87216a"/><stop offset="0.2186" stop-color="#bb3755"/><stop offset="0.2365" stop-color="#e75f2d"/><stop offset="0.2485" stop-color="#f7850f"/><stop offset="0.2545" stop-color="#fb9708"/><stop offset="0.2605" stop-color="#fca90f"/><stop offset="0.2725" stop-color="#f9c831"/><stop offset="0.2904" stop-color="#f3e45b"/><stop offset="0.3024" stop-color="#f2e661"/><stop offset="0.3144" stop-color="#f4df53"/><stop offset="0.3383" stop-color="#fbbd22"/><stop offset="0.3503" stop-color="#fca70d"/><stop offset="0.3563" stop-color="#fb9b08"/><stop offset="0.3683" stop-color="#f8860f"/><stop offset="0.3982" stop-color="#e35a32"/><stop offset="0.4341" stop-color="#c63d4d"/><stop offset="0.482" stop-color="#ae305c"/><stop offset="0.518" stop-color="#ad305c"/><stop offset="0.5599" stop-color="#c13b50"/><stop offset="0.5958" stop-color="#de5238"/><stop offset="0.6257" stop-color="#f47a17"/><stop offset="0.6437" stop-color="#fb9908"/><stop offset="0.6557" stop-color="#fcaf14"/><stop offset="0.6796" stop-color="#f7d441"/><stop offset="0.6976" stop-color="#f3e35a"/><stop offset="0.7036" stop-color="#f3e35a"/><stop offset="0.7156" stop-color="#f5d949"/><stop offset="0.7335" stop-color="#fbb61b"/><stop offset="0.7395" stop-color="#fca60c"/><stop offset="0.7455" stop-color="#fa9408"/><stop offset="0.7575" stop-color="#f06f21"/><stop offset="0.7754" stop-color="#ca404a"/><stop offset="0.7934" stop-color="#952666"/><stop offset="0.8114" stop-color="#65156e"/><stop offset="0.8293" stop-color="#3f0a66"/><stop offset="0.8473" stop-color="#210c4a"/><stop offset="0.8713" stop-color="#0c0826"/><stop offset="0.8952" stop-color="#040313"/><stop offset="0.9431" stop-color="#010108"/><stop offset="0.997" stop-color="#010005"/></linearGradient>
<linearGradient id="b110"><stop offset="0.003" stop-color="#010005"/><stop offset="0.0928" stop-color="#02020c"/><stop offset="0.1287" stop-color="#08061e"/><stop offset="0.1527" stop-color="#170b3b"/><stop offset="0.1766" stop-color="#3a0963"/><stop offset="0.1946" stop-color="#60136e"/><stop offset="0.2126" stop-color="#8f2468"/><stop offset="0.2305" stop-color="#c33c4f"/><stop offset="0.2485" stop-color="#ec6826"/><stop offset="0.2605" stop-color="#f98e0a"/><stop offset="0.2665" stop-color="#fba009"/><stop offset="0.2784" stop-color="#fac228"/><stop offset="0.2964" stop-color="#f3e258"/><stop offset="0.3084" stop-color="#f2e865"/><stop offset="0.3144" stop-color="#f2e967"/><stop offset="0.3263" stop-color="#f3e35a"/><stop offset="0.3503" stop-color="#fac52c"/><stop offset="0.3683" stop-color="#fca50c"/><stop offset="0.3802" stop-color="#fa9109"/><stop offset="0.4162" stop-color="#e75f2e"/><stop offset="0.4521" stop-color="#d04545"/><stop offset="0.488" stop-color="#c33b4f"/><stop offset="0.524" stop-color="#c63d4d"/><stop offset="0.5719" stop-color="#de5338"/><stop offset="0.6018" stop-color="#f2731d"/><stop offset="0.6198" stop-color="#f98f0a"/><stop offset="0.6317" stop-color="#fca30b"/><stop offset="0.6557" stop-color="#f9c932"/><stop offset="0.6796" stop-color="#f3e45c"/><stop offset="0.6916" stop-color="#f3e55d"/><stop offset="0.6976" stop-color="#f3e35a"/><stop offset="0.7156" stop-color="#f9ca33"/><stop offset="0.7275" stop-color="#fcad12"/><stop offset="0.7335" stop-color="#fb9c08"/><stop offset="0.7395" stop-color="#f98b0c"/><stop offset="0.7575" stop-color="#e05635"/><stop offset="0.7754" stop-color="#b0315b"/><stop offset="0.7934" stop-color="#7c1e6d"/><stop offset="0.8114" stop-color="#510e6c"/><stop offset="0.8293" stop-color="#2f0a5a"/><stop offset="0.8473" stop-color="#170b3b"/><stop offset="0.8653" stop-color="#0a0723"/><stop offset="0.8952" stop-color="#03020f"/><stop offset="0.9551" stop-color="#010106"/><stop offset="0.997" stop-color="#010005"/></linearGradient>
<linearGradient id="b112"><stop offset="0.003" stop-color="#010005"/><stop offset="0.0988" stop-color="#02010b"/><stop offset="0.1347" stop-color="#07051c"/><stop offset="0.1587" stop-color="#140b36"/><stop offset="0.1766" stop-color="#2a0b56"/><stop offset="0.1946" stop-color="#4c0c6b"/><stop offset="0.2126" stop-color="#761b6d"/><stop offset="0.2305" stop-color="#a92e5e"/><stop offset="0.2485" stop-color="#db4f3b"/><stop offset="0.2605" stop-color="#f0701f"/><stop offset="0.2725" stop-color="#fa9508"/><stop offset="0.2784" stop-color="#fca70d"/><stop offset="0.2964" stop-color="#f7d23f"/><stop offset="0.3084" stop-color="#f3e55d"/><stop offset="0.3204" stop-color="#f1ec6d"/><stop offset="0.3323" stop-color="#f2ea69"/><stop offset="0.3503" stop-color="#f5dc4e"/><stop offset="0.3802" stop-color="#fcb015"/><stop offset="0.3922" stop-color="#fb9d08"/><stop offset="0.4042" stop-color="#f98b0c"/><stop offset="0.4341" stop-color="#ec6826"/><stop offset="0.4701" stop-color="#dd5239"/><stop offset="0.512" stop-color="#d84d3e"/><stop offset="0.5539" stop-color="#e65e2e"/><stop offset="0.5898" stop-color="#f68112"/><stop offset="0.6078" stop-color="#fb9b08"/><stop offset="0.6198" stop-color="#fcae13"/><stop offset="0.6557" stop-color="#f4df53"/><stop offset="0.6737" stop-color="#f2e865"/><stop offset="0.6856" stop-color="#f2e55f"/><stop offset="0.6976" stop-color="#f5d949"/><stop offset="0.7156" stop-color="#fcb318"/><stop offset="0.7216" stop-color="#fca30b"/><stop offset="0.7275" stop-color="#fa9109"/><stop offset="0.7455" stop-color="#e55c30"/><stop offset="0.7635" stop-color="#b93655"/><stop offset="0.7814" stop-color="#85216b"/><stop offset="0.7994" stop-color="#58106d"/><stop offset="0.8174" stop-color="#330a5e"/><stop offset="0.8413" stop-color="#140b36"/><stop offset="0.8653" stop-color="#07051b"/><stop offset="0.9072" stop-color="#02010a"/><stop offset="0.997" stop-color="#010005"/></linearGradient>
<linearGradient id="b114"><stop offset="0.003" stop-color="#010005"/><stop offset="0.1048" stop-color="#02010a"/><stop offset="0.1407" stop-color="#06051a"/><stop offset="0.1647" stop-color="#120a31"/><stop offset="0.1886" stop-color="#2f0a5a"/><stop offset="0.2066" stop-color="#520e6d"/><stop offset="0.2246" stop-color="#7d1e6c"/><stop offset="0.2425" stop-color="#b2325a"/><stop offset="0.2605" stop-color="#e05536"/><stop offset="0.2784" stop-color="#f8880d"/><stop offset="0.2844" stop-color="#fb9908"/><stop offset="0.2904" stop-color="#fcaa10"/><stop offset="0.3084" stop-color="#f6d543"/><stop offset="0.3263" stop-color="#f1ec6d"/><stop offset="0.3383" stop-color="#f1ee73"/><stop offset="0.3503" stop-color="#f2eb6b"/><stop offset="0.3743" stop-color="#f6d543"/><stop offset="0.4042" stop-color="#fcaa10"/><stop offset="0.4222" stop-color="#fa9309"/><stop offset="0.4521" stop-color="#f3771a"/><stop offset="0.488" stop-color="#eb6528"/><stop offset="0.518" stop-color="#ec6727"/><stop offset="0.5479" stop-color="#f2751b"/><stop offset="0.5838" stop-color="#fb9808"/><stop offset="0.5958" stop-color="#fca80e"/><stop offset="0.6317" stop-color="#f5d949"/><stop offset="0.6437" stop-color="#f3e45d"/><stop offset="0.6617" stop-color="#f2eb6b"/><stop offset="0.6737" stop-color="#f2e865"/><stop offset="0.6796" stop-color="#f3e45c"/><stop offset="0.6976" stop-color="#fac62d"/><stop offset="0.7096" stop-color="#fca70d"/><stop offset="0.7156" stop-color="#fa9608"/><stop offset="0.7275" stop-color="#f2731d"/><stop offset="0.7455" stop-color="#d04545"/><stop offset="0.7635" stop-color="#9e2a63"/><stop offset="0.7814" stop-color="#6d186e"/><stop offset="0.7994" stop-color="#440a69"/><stop offset="0.8234" stop-color="#1d0c44"/><stop offset="0.8473" stop-color="#0a0723"/><stop offset="0.8772" stop-color="#03020f"/><stop offset="0.9371" stop-color="#010106"/><stop offset="0.997" stop-color="#010005"/></linearGradient>
<linearGradient id="b116"><stop offset="0.003" stop-color="#010005"/><stop offset="0.1108" stop-color="#02010a"/><stop offset="0.1527" stop-color="#07051b"/><stop offset="0.1766" stop-color="#140b36"/><stop offset="0.1946" stop-color="#2a0b55"/><stop offset="0.2126" stop-color="#4c0c6b"/><stop offset="0.2305" stop-color="#751b6d"/><stop offset="0.2485" stop-color="#a72d5f"/><stop offset="0.2665" stop-color="#d64b3f"/><stop offset="0.2844" stop-color="#f47918"/><stop offset="0.2904" stop-color="#f98b0c"/><stop offset="0.2964" stop-color="#fb9c08"/><stop offset="0.3024" stop-color="#fcac11"/><stop offset="0.3204" stop-color="#f6d543"/><stop offset="0.3383" stop-color="#f1ec6f"/><stop offset="0.3443" stop-color="#f1f077"/><stop offset="0.3563" stop-color="#f2f179"/><stop offset="0.3683" stop-color="#f1ec6f"/><stop offset="0.3982" stop-color="#f7d03c"/><stop offset="0.4222" stop-color="#fcb217"/><stop offset="0.4461" stop-color="#fb9a08"/><stop offset="0.482" stop-color="#f78510"/><stop offset="0.512" stop-color="#f78311"/><stop offset="0.5419" stop-color="#fa9109"/><stop offset="0.5659" stop-color="#fca50c"/><stop offset="0.5898" stop-color="#fac026"/><stop offset="0.6257" stop-color="#f2e661"/><stop offset="0.6437" stop-color="#f1ee73"/><stop offset="0.6557" stop-color="#f1ed6f"/><stop offset="0.6677" stop-color="#f3e45d"/><stop offset="0.6856" stop-color="#f9c62e"/><stop offset="0.6976" stop-color="#fca80e"/><stop offset="0.7036" stop-color="#fb9808"/><stop offset="0.7096" stop-color="#f8880d"/><stop offset="0.7275" stop-color="#e15734"/><stop offset="0.7455" stop-color="#b63457"/><stop offset="0.7635" stop-color="#84206b"/><stop offset="0.7814" stop-color="#57106d"/><stop offset="0.7994" stop-color="#330a5e"/><stop offset="0.8174" stop-color="#190c3e"/><stop offset="0.8413" stop-color="#09061f"/><stop offset="0.8772" stop-color="#02020d"/><stop offset="0.9311" stop-color="#010106"/><stop offset="0.997" stop-color="#010005"/></linearGradient>
<linearGradient id="b118"><stop offset="0.003" stop-color="#010005"/><stop offset="0.1228" stop-color="#02010a"/><stop offset="0.1587" stop-color="#060419"/><stop offset="0.1766" stop-color="#0d0829"/><stop offset="0.2006" stop-color="#240c4f"/><stop offset="0.2186" stop-color="#440a69"/><stop offset="0.2365" stop-color="#6d186e"/><stop offset="0.2545" stop-color="#9c2964"/><stop offset="0.2725" stop-color="#cb4149"/><stop offset="0.2904" stop-color="#ee6b24"/><stop offset="0.3024" stop-color="#f98b0c"/><stop offset="0.3084" stop-color="#fb9c08"/><stop offset="0.3144" stop-color="#fcab11"/><stop offset="0.3323" stop-color="#f7d442"/><stop offset="0.3503" stop-color="#f1ec6f"/><stop offset="0.3563" stop-color="#f2f179"/><stop offset="0.3683" stop-color="#f2f37f"/><stop offset="0.3862" stop-color="#f1ee73"/><stop offset="0.4281" stop-color="#f9ca34"/><stop offset="0.4581" stop-color="#fcb116"/><stop offset="0.488" stop-color="#fca30b"/><stop offset="0.518" stop-color="#fca40b"/><stop offset="0.5479" stop-color="#fbb51a"/><stop offset="0.5778" stop-color="#f8ce39"/><stop offset="0.6138" stop-color="#f1ec6f"/><stop offset="0.6317" stop-color="#f2f17b"/><stop offset="0.6437" stop-color="#f1ee73"/><stop offset="0.6557" stop-color="#f3e45d"/><stop offset="0.6737" stop-color="#fac52c"/><stop offset="0.6856" stop-color="#fca80e"/><stop offset="0.6916" stop-color="#fb9808"/><stop offset="0.6976" stop-color="#f8880d"/><stop offset="0.7156" stop-color="#e35932"/><stop offset="0.7335" stop-color="#bb3755"/><stop offset="0.7515" stop-color="#8a226a"/><stop offset="0.7695" stop-color="#5d126e"/><stop offset="0.7874" stop-color="#380962"/><stop offset="0.8114" stop-color="#160b38"/><stop offset="0.8353" stop-color="#08051d"/><stop offset="0.8653" stop-color="#02020d"/><stop offset="0.9371" stop-color="#010005"/><stop offset="0.997" stop-color="#010005"/></linearGradient>
<linearGradient id="b120"><stop offset="0.003" stop-color="#010005"/><stop offset="0.1287" stop-color="#02010a"/><stop offset="0.1707" stop-color="#07051b"/><stop offset="0.1946" stop-color="#130a33"/><stop offset="0.2126" stop-color="#280b53"/><stop offset="0.2246" stop-color="#3e0a65"/><stop offset="0.2425" stop-color="#65156e"/><stop offset="0.2605" stop-color="#902568"/><stop offset="0.2844" stop-color="#cc4248"/><stop offset="0.3024" stop-color="#ed6925"/><stop offset="0.3144" stop-color="#f8880e"/><stop offset="0.3204" stop-color="#fb9808"/><stop offset="0.3263" stop-color="#fca70e"/><stop offset="0.3443" stop-color="#f7d03c"/><stop offset="0.3623" stop-color="#f2ec6d"/><stop offset="0.3743" stop-color="#f2f37f"/><stop offset="0.3802" stop-color="#f3f586"/><stop offset="0.3982" stop-color="#f2f37f"/><stop offset="0.4281" stop-color="#f3e45c"/><stop offset="0.4641" stop-color="#f8cc36"/><stop offset="0.488" stop-color="#fac32a"/><stop offset="0.518" stop-color="#fac42b"/><stop offset="0.5539" stop-color="#f6d645"/><stop offset="0.5958" stop-color="#f2f077"/><stop offset="0.6198" stop-color="#f2f482"/><stop offset="0.6377" stop-color="#f2ea69"/><stop offset="0.6557" stop-color="#f8ce39"/><stop offset="0.6677" stop-color="#fbb318"/><stop offset="0.6737" stop-color="#fca50c"/><stop offset="0.6796" stop-color="#fa9609"/><stop offset="0.6916" stop-color="#f3761b"/><stop offset="0.7096" stop-color="#d84c3e"/><stop offset="0.7335" stop-color="#9e2a63"/><stop offset="0.7515" stop-color="#71196e"/><stop offset="0.7695" stop-color="#480b6a"/><stop offset="0.7874" stop-color="#280b53"/><stop offset="0.8114" stop-color="#0e092b"/><stop offset="0.8413" stop-color="#040313"/><stop offset="0.8952" stop-color="#010106"/><stop offset="0.997" stop-color="#010005"/></linearGradient>
<linearGradient id="b122"><stop offset="0.003" stop-color="#010005"/><stop offset="0.1347" stop-color="#010109"/><stop offset="0.1707" stop-color="#050416"/><stop offset="0.2006" stop-color="#100a2f"/><stop offset="0.2246" stop-color="#2c0b58"/><stop offset="0.2425" stop-color="#4f0d6c"/><stop offset="0.2665" stop-color="#84206b"/><stop offset="0.2844" stop-color="#b0315b"/><stop offset="0.3084" stop-color="#e15734"/><stop offset="0.3263" stop-color="#f68112"/><stop offset="0.3323" stop-color="#fa910a"/><stop offset="0.3383" stop-color="#fba00b"/><stop offset="0.3443" stop-color="#fcaf14"/><stop offset="0.3623" stop-color="#f6d746"/><stop offset="0.3802" stop-color="#f2ef75"/><stop offset="0.3922" stop-color="#f3f688"/><stop offset="0.4102" stop-color="#f3f68a"/><stop offset="0.4401" stop-color="#f2ef75"/><stop offset="0.476" stop-color="#f4e156"/><stop offset="0.506" stop-color="#f4dd50"/><stop offset="0.5359" stop-color="#f3e45e"/><stop offset="0.5838" stop-color="#f3f484"/><stop offset="0.6018" stop-color="#f3f586"/><stop offset="0.6078" stop-color="#f2f484"/><stop offset="0.6257" stop-color="#f2e763"/><stop offset="0.6437" stop-color="#f9c831"/><stop offset="0.6557" stop-color="#fcac12"/><stop offset="0.6617" stop-color="#fb9d09"/><stop offset="0.6677" stop-color="#f98e0a"/><stop offset="0.6856" stop-color="#e9622b"/><stop offset="0.7036" stop-color="#ca404a"/><stop offset="0.7275" stop-color="#912568"/><stop offset="0.7515" stop-color="#59116e"/><stop offset="0.7695" stop-color="#370a61"/><stop offset="0.7874" stop-color="#1b0c41"/><stop offset="0.8114" stop-color="#0a0722"/><stop offset="0.8413" stop-color="#03020f"/><stop offset="0.9132" stop-color="#010005"/><stop offset="0.997" stop-color="#010005"/></linearGradient>
<linearGradient id="b124"><stop offset="0.003" stop-color="#010005"/><stop offset="0.1407" stop-color="#010108"/><stop offset="0.1886" stop-color="#06051a"/><stop offset="0.2126" stop-color="#130a33"/><stop offset="0.2305" stop-color="#260c51"/><stop offset="0.2425" stop-color="#3b0a64"/><stop offset="0.2605" stop-color="#5e136e"/><stop offset="0.2844" stop-color="#912568"/><stop offset="0.3084" stop-color="#c63e4d"/><stop offset="0.3323" stop-color="#ed6a24"/><stop offset="0.3443" stop-color="#f8870e"/><stop offset="0.3503" stop-color="#fa9709"/><stop offset="0.3563" stop-color="#fca70d"/><stop offset="0.3802" stop-color="#f5da4b"/><stop offset="0.3982" stop-color="#f2f079"/><stop offset="0.4102" stop-color="#f3f68a"/><stop offset="0.4281" stop-color="#f5f890"/><stop offset="0.4701" stop-color="#f2f381"/><stop offset="0.5" stop-color="#f2f077"/><stop offset="0.5299" stop-color="#f2f37f"/><stop offset="0.5659" stop-color="#f4f78c"/><stop offset="0.5838" stop-color="#f4f78c"/><stop offset="0.6018" stop-color="#f2ef75"/><stop offset="0.6198" stop-color="#f6d848"/><stop offset="0.6377" stop-color="#fbb217"/><stop offset="0.6437" stop-color="#fba40c"/><stop offset="0.6497" stop-color="#fa9509"/><stop offset="0.6617" stop-color="#f2761b"/><stop offset="0.6856" stop-color="#d14644"/><stop offset="0.7096" stop-color="#9d2964"/><stop offset="0.7335" stop-color="#69166e"/><stop offset="0.7515" stop-color="#450b69"/><stop offset="0.7695" stop-color="#260c51"/><stop offset="0.7934" stop-color="#0e092a"/><stop offset="0.8293" stop-color="#03020f"/><stop offset="0.9012" stop-color="#010005"/><stop offset="0.997" stop-color="#010005"/></linearGradient>
<linearGradient id="b126"><stop offset="0.003" stop-color="#010005"/><stop offset="0.1527" stop-color="#010109"/><stop offset="0.1946" stop-color="#050418"/><stop offset="0.2186" stop-color="#10092d"/><stop offset="0.2425" stop-color="#2a0b55"/><stop offset="0.2605" stop-color="#480b6a"/><stop offset="0.2844" stop-color="#751b6d"/><stop offset="0.3084" stop-color="#a62d60"/><stop offset="0.3323" stop-color="#d54941"/><stop offset="0.3563" stop-color="#f57d15"/><stop offset="0.3683" stop-color="#fb9a09"/><stop offset="0.3802" stop-color="#fbb71c"/><stop offset="0.3982" stop-color="#f5d949"/><stop offset="0.4162" stop-color="#f2ef75"/><stop offset="0.4341" stop-color="#f4f88e"/><stop offset="0.4581" stop-color="#f6fa96"/><stop offset="0.518" stop-color="#f5f992"/><stop offset="0.5539" stop-color="#f5f992"/><stop offset="0.5719" stop-color="#f3f484"/><stop offset="0.5778" stop-color="#f2f27d"/><stop offset="0.5958" stop-color="#f4e157"/><stop offset="0.6198" stop-color="#fbb51a"/><stop offset="0.6257" stop-color="#fca70e"/><stop offset="0.6317" stop-color="#fb9809"/><stop offset="0.6437" stop-color="#f47b17"/><stop offset="0.6617" stop-color="#dd5238"/><stop offset="0.6796" stop-color="#bd3853"/><stop offset="0.7036" stop-color="#8c2369"/><stop offset="0.7275" stop-color="#5d126e"/><stop offset="0.7455" stop-color="#3d0a65"/><stop offset="0.7695" stop-color="#1a0c3f"/><stop offset="0.7934" stop-color="#09061f"/><stop offset="0.8293" stop-color="#02020d"/><stop offset="0.9012" stop-color="#010005"/><stop offset="0.997" stop-color="#000004"/></linearGradient>
<linearGradient id="b128"><stop offset="0.003" stop-color="#000004"/><stop offset="0.1647" stop-color="#010109"/><stop offset="0.2006" stop-color="#050416"/><stop offset="0.2246" stop-color="#0d0829"/><stop offset="0.2485" stop-color="#240c4d"/><stop offset="0.2665" stop-color="#3e0a66"/><stop offset="0.2904" stop-color="#65156e"/><stop offset="0.3204" stop-color="#9c2964"/><stop offset="0.3443" stop-color="#cb4149"/><stop offset="0.3623" stop-color="#e9622b"/><stop offset="0.3802" stop-color="#f98c0c"/><stop offset="0.3862" stop-color="#fb990a"/><stop offset="0.3982" stop-color="#fbb318"/><stop offset="0.4222" stop-color="#f5dc4e"/><stop offset="0.4401" stop-color="#f2ed71"/><stop offset="0.4521" stop-color="#f3f483"/><stop offset="0.4701" stop-color="#f5f890"/><stop offset="0.506" stop-color="#f6fa96"/><stop offset="0.5299" stop-color="#f5f890"/><stop offset="0.5539" stop-color="#f2f079"/><stop offset="0.5838" stop-color="#f7d23f"/><stop offset="0.6018" stop-color="#fbb116"/><stop offset="0.6138" stop-color="#fa9809"/><stop offset="0.6257" stop-color="#f47c16"/><stop offset="0.6437" stop-color="#df5437"/><stop offset="0.6617" stop-color="#be3952"/><stop offset="0.6856" stop-color="#902568"/><stop offset="0.7156" stop-color="#5b116e"/><stop offset="0.7335" stop-color="#3e0a65"/><stop offset="0.7575" stop-color="#1c0c43"/><stop offset="0.7814" stop-color="#0a0722"/><stop offset="0.8174" stop-color="#02020d"/><stop offset="0.9072" stop-color="#010005"/><stop offset="0.997" stop-color="#000004"/></linearGradient>
<linearGradient id="b130"><stop offset="0.003" stop-color="#000004"/><stop offset="0.1707" stop-color="#010109"/><stop offset="0.2126" stop-color="#050417"/><stop offset="0.2365" stop-color="#0e092b"/><stop offset="0.2665" stop-color="#2c0b58"/><stop offset="0.2844" stop-color="#450b69"/><stop offset="0.3144" stop-color="#731a6e"/><stop offset="0.3383" stop-color="#9b2964"/><stop offset="0.3623" stop-color="#cc4249"/><stop offset="0.3862" stop-color="#ef6d22"/><stop offset="0.3982" stop-color="#f7860f"/><stop offset="0.4102" stop-color="#fb9e0b"/><stop offset="0.4222" stop-color="#fbb217"/><stop offset="0.4521" stop-color="#f5d94a"/><stop offset="0.4701" stop-color="#f3e662"/><stop offset="0.494" stop-color="#f2ed71"/><stop offset="0.518" stop-color="#f2ea69"/><stop offset="0.5419" stop-color="#f4de52"/><stop offset="0.5719" stop-color="#fbbb21"/><stop offset="0.5898" stop-color="#fb9c0b"/><stop offset="0.6018" stop-color="#f78510"/><stop offset="0.6257" stop-color="#df5437"/><stop offset="0.6497" stop-color="#b33359"/><stop offset="0.6737" stop-color="#84206b"/><stop offset="0.7036" stop-color="#56106d"/><stop offset="0.7275" stop-color="#330a5e"/><stop offset="0.7575" stop-color="#130a33"/><stop offset="0.7814" stop-color="#06051a"/><stop offset="0.8293" stop-color="#010108"/><stop offset="0.997" stop-color="#000004"/></linearGradient>
<linearGradient id="b132"><stop offset="0.003" stop-color="#000004"/><stop offset="0.1826" stop-color="#010109"/><stop offset="0.2246" stop-color="#050418"/><stop offset="0.2545" stop-color="#130a33"/><stop offset="0.2904" stop-color="#390a63"/><stop offset="0.3204" stop-color="#5f136e"/><stop offset="0.3443" stop-color="#83206b"/><stop offset="0.3683" stop-color="#b33359"/><stop offset="0.3982" stop-color="#e45b31"/><stop offset="0.4281" stop-color="#f88b0d"/><stop offset="0.4401" stop-color="#fb9c0b"/><stop offset="0.4701" stop-color="#fabd23"/><stop offset="0.5" stop-color="#f9c730"/><stop offset="0.5299" stop-color="#fabd23"/><stop offset="0.5539" stop-color="#fba30d"/><stop offset="0.5719" stop-color="#f88a0e"/><stop offset="0.5958" stop-color="#e9632a"/><stop offset="0.6198" stop-color="#c73f4c"/><stop offset="0.6497" stop-color="#8e2469"/><stop offset="0.6796" stop-color="#5e136e"/><stop offset="0.7036" stop-color="#400a67"/><stop offset="0.7275" stop-color="#230c4c"/><stop offset="0.7635" stop-color="#09061f"/><stop offset="0.7994" stop-color="#02020d"/><stop offset="0.8713" stop-color="#010005"/><stop offset="0.997" stop-color="#000004"/></linearGradient>
<linearGradient id="b134"><stop offset="0.003" stop-color="#000004"/><stop offset="0.1946" stop-color="#010109"/><stop offset="0.2365" stop-color="#060419"/><stop offset="0.2725" stop-color="#170b3b"/><stop offset="0.3024" stop-color="#320a5d"/><stop offset="0.3323" stop-color="#530f6d"/><stop offset="0.3623" stop-color="#811f6c"/><stop offset="0.3922" stop-color="#b73557"/><stop offset="0.4162" stop-color="#d94e3d"/><stop offset="0.4461" stop-color="#f0701f"/><stop offset="0.476" stop-color="#f88c0d"/><stop offset="0.506" stop-color="#fa930b"/><stop offset="0.5359" stop-color="#f68212"/><stop offset="0.5719" stop-color="#e45b31"/><stop offset="0.5958" stop-color="#c9404a"/><stop offset="0.6257" stop-color="#972766"/><stop offset="0.6557" stop-color="#63146e"/><stop offset="0.6916" stop-color="#380a62"/><stop offset="0.7156" stop-color="#200c49"/><stop offset="0.7515" stop-color="#0a0722"/><stop offset="0.7874" stop-color="#02020d"/><stop offset="0.8772" stop-color="#010005"/><stop offset="0.997" stop-color="#000004"/></linearGradient>
<linearGradient id="b136"><stop offset="0.003" stop-color="#000004"/><stop offset="0.2006" stop-color="#010109"/><stop offset="0.2425" stop-color="#050417"/><stop offset="0.2844" stop-color="#150b37"/><stop offset="0.3263" stop-color="#340a5f"/><stop offset="0.3563" stop-color="#58106d"/><stop offset="0.3922" stop-color="#8f2468"/><stop offset="0.4281" stop-color="#bf3a51"/><stop offset="0.4641" stop-color="#dc5239"/><stop offset="0.5" stop-color="#e65e2e"/><stop offset="0.5359" stop-color="#dc5139"/><stop offset="0.5719" stop-color="#be3952"/><stop offset="0.6078" stop-color="#8f2468"/><stop offset="0.6437" stop-color="#58106d"/><stop offset="0.6737" stop-color="#340a5f"/><stop offset="0.7216" stop-color="#120a31"/><stop offset="0.7635" stop-color="#040313"/><stop offset="0.8114" stop-color="#010107"/><stop offset="0.997" stop-color="#000004"/></linearGradient>
<linearGradient id="b138"><stop offset="0.003" stop-color="#000004"/><stop offset="0.2126" stop-color="#010109"/><stop offset="0.2605" stop-color="#06051a"/><stop offset="0.3084" stop-color="#180c3c"/><stop offset="0.3443" stop-color="#300a5b"/><stop offset="0.3683" stop-color="#4c0c6b"/><stop offset="0.4102" stop-color="#801f6c"/><stop offset="0.4581" stop-color="#ae315b"/><stop offset="0.488" stop-color="#bc3853"/><stop offset="0.524" stop-color="#b83656"/><stop offset="0.5659" stop-color="#982865"/><stop offset="0.6078" stop-color="#6a176e"/><stop offset="0.6377" stop-color="#430a68"/><stop offset="0.6677" stop-color="#250c50"/><stop offset="0.7275" stop-color="#09061f"/><stop offset="0.7814" stop-color="#02010a"/><stop offset="0.9072" stop-color="#010005"/><stop offset="0.997" stop-color="#000004"/></linearGradient>
<linearGradient id="b140"><stop offset="0.003" stop-color="#000004"/><stop offset="0.2246" stop-color="#010109"/><stop offset="0.2844" stop-color="#08051d"/><stop offset="0.3383" stop-color="#190c3e"/><stop offset="0.3743" stop-color="#380a62"/><stop offset="0.4042" stop-color="#57106d"/><stop offset="0.4641" stop-color="#84206b"/><stop offset="0.5" stop-color="#8e2468"/><stop offset="0.5359" stop-color="#84206b"/><stop offset="0.6018" stop-color="#510e6c"/><stop offset="0.6317" stop-color="#320a5d"/><stop offset="0.6617" stop-color="#190c3e"/><stop offset="0.7216" stop-color="#07051b"/><stop offset="0.7814" stop-color="#010108"/><stop offset="0.997" stop-color="#000004"/></linearGradient>
<linearGradient id="b142"><stop offset="0.003" stop-color="#000004"/><stop offset="0.2305" stop-color="#010108"/><stop offset="0.3323" stop-color="#0d0827"/><stop offset="0.3683" stop-color="#1f0c47"/><stop offset="0.4042" stop-color="#3b0a63"/><stop offset="0.4701" stop-color="#5e136e"/><stop offset="0.512" stop-color="#62146e"/><stop offset="0.5539" stop-color="#540f6d"/><stop offset="0.5958" stop-color="#3a0a63"/><stop offset="0.6377" stop-color="#1a0c3f"/><stop offset="0.6737" stop-color="#0b0725"/><stop offset="0.7695" stop-color="#010108"/><stop offset="0.997" stop-color="#000004"/></linearGradient>
<linearGradient id="b144"><stop offset="0.003" stop-color="#000004"/><stop offset="0.2365" stop-color="#010108"/><stop offset="0.3443" stop-color="#090621"/><stop offset="0.4162" stop-color="#290b53"/><stop offset="0.4701" stop-color="#3e0a65"/><stop offset="0.524" stop-color="#3e0a65"/><stop offset="0.5778" stop-color="#2a0b55"/><stop offset="0.6198" stop-color="#160b39"/><stop offset="0.6617" stop-color="#08061e"/><stop offset="0.7754" stop-color="#010106"/><stop offset="0.997" stop-color="#000004"/></linearGradient>
<linearGradient id="b146"><stop offset="0.003" stop-color="#000004"/><stop offset="0.2545" stop-color="#010109"/><stop offset="0.3563" stop-color="#07051b"/><stop offset="0.4281" stop-color="#190c3d"/><stop offset="0.482" stop-color="#240c4d"/><stop offset="0.5359" stop-color="#210c4a"/><stop offset="0.6198" stop-color="#0d0827"/><stop offset="0.6677" stop-color="#040314"/><stop offset="0.7814" stop-color="#010106"/><stop offset="0.997" stop-color="#000004"/></linearGradient>
<linearGradient id="b148"><stop offset="0.003" stop-color="#000004"/><stop offset="0.2725" stop-color="#010109"/><stop offset="0.3623" stop-color="#040314"/><stop offset="0.4401" stop-color="#0e092b"/><stop offset="0.5" stop-color="#120a31"/><stop offset="0.5599" stop-color="#0e092b"/><stop offset="0.6737" stop-color="#02020d"/><stop offset="0.8473" stop-color="#010005"/><stop offset="0.997" stop-color="#000004"/></linearGradient>
<linearGradient id="b150"><stop offset="0.003" stop-color="#000004"/><stop offset="0.2964" stop-color="#010109"/><stop offset="0.3802" stop-color="#040312"/><stop offset="0.482" stop-color="#08061e"/><stop offset="0.5778" stop-color="#06051a"/><stop offset="0.6737" stop-color="#02010b"/><stop offset="0.9072" stop-color="#000004"/><stop offset="0.997" stop-color="#000004"/></linearGradient>
<linearGradient id="b152"><stop offset="0.003" stop-color="#000004"/><stop offset="0.3503" stop-color="#02010a"/><stop offset="0.506" stop-color="#040314"/><stop offset="0.7754" stop-color="#010005"/><stop offset="0.997" stop-color="#000004"/></linearGradient>
<linearGradient id="b154"><stop offset="0.003" stop-color="#000004"/><stop offset="0.3802" stop-color="#02010a"/><stop offset="0.6138" stop-color="#02010b"/><stop offset="0.9311" stop-color="#000004"/><stop offset="0.997" stop-color="#000004"/></linearGradient>
<linearGradient id="b156"><stop offset="0.003" stop-color="#000004"/><stop offset="0.6257" stop-color="#010108"/><stop offset="0.997" stop-color="#000004"/></linearGradient>
<linearGradient id="b158"><stop offset="0.003" stop-color="#000004"/><stop offset="0.8293" stop-color="#010005"/><stop offset="0.997" stop-color="#000004"/></linearGradient>
<linearGradient id="b160"><stop offset="0.003" stop-color="#000004"/><stop offset="0.997" stop-color="#000004"/></linearGradient>
<linearGradient id="b162"><stop offset="0.003" stop-color="#000004"/><stop offset="0.997" stop-color="#000004"/></linearGradient>
<linearGradient id="b164"><stop offset="0.003" stop-color="#000004"/><stop offset="0.997" stop-color="#000004"/></linearGradient>
<linearGradient id="b166"><stop offset="0.003" stop-color="#000004"/><stop offset="0.997" stop-color="#000004"/></linearGradient>
<linearGradient id="c0"><stop offset="0.003" stop-color="#010109"/><stop offset="0.1101" stop-color="#000004"/><stop offset="0.997" stop-color="#000004"/></linearGradient>
<linearGradient id="c2"><stop offset="0.003" stop-color="#02010b"/><stop offset="0.0565" stop-color="#010005"/><stop offset="0.997" stop-color="#000004"/></linearGradient>
<linearGradient id="c4"><stop offset="0.003" stop-color="#03020f"/><stop offset="0.0387" stop-color="#010005"/><stop offset="0.997" stop-color="#000004"/></linearGradient>
<linearGradient id="c6"><stop offset="0.003" stop-color="#050416"/><stop offset="0.0268" stop-color="#010108"/><stop offset="0.3125" stop-color="#000004"/><stop offset="0.997" stop-color="#000004"/></linearGradient>
<linearGradient id="c8"><stop offset="0.003" stop-color="#07051b"/><stop offset="0.0327" stop-color="#010108"/><stop offset="0.3185" stop-color="#000004"/><stop offset="0.997" stop-color="#000004"/></linearGradient>
<linearGradient id="c10"><stop offset="0.003" stop-color="#0a0722"/><stop offset="0.0327" stop-color="#02010b"/><stop offset="0.0744" stop-color="#010005"/><stop offset="0.997" stop-color="#000004"/></linearGradient>
<linearGradient id="c12"><stop offset="0.003" stop-color="#0d0827"/><stop offset="0.0387" stop-color="#02010b"/><stop offset="0.0923" stop-color="#010005"/><stop offset="0.997" stop-color="#000004"/></linearGradient>
<linearGradient id="c14"><stop offset="0.003" stop-color="#0e092b"/><stop offset="0.0506" stop-color="#010109"/><stop offset="0.1577" stop-color="#000004"/><stop offset="0.997" stop-color="#000004"/></linearGradient>
<linearGradient id="c16"><stop offset="0.003" stop-color="#10092d"/><stop offset="0.0208" stop-color="#0b0725"/><stop offset="0.0506" stop-color="#02010b"/><stop offset="0.1042" stop-color="#010005"/><stop offset="0.997" stop-color="#000004"/></linearGradient>
<linearGradient id="c18"><stop offset="0.003" stop-color="#10092d"/><stop offset="0.0208" stop-color="#0e092a"/><stop offset="0.0565" stop-color="#02020c"/><stop offset="0.0982" stop-color="#010005"/><stop offset="0.997" stop-color="#000004"/></linearGradient>
<linearGradient id="c20"><stop offset="0.003" stop-color="#0f092c"/><stop offset="0.0208" stop-color="#100a2e"/><stop offset="0.0506" stop-color="#050416"/><stop offset="0.0744" stop-color="#010107"/><stop offset="0.7411" stop-color="#000004"/><stop offset="0.997" stop-color="#000004"/></linearGradient>
<linearGradient id="c22"><stop offset="0.003" stop-color="#120a31"/><stop offset="0.0149" stop-color="#110a30"/><stop offset="0.0327" stop-color="#0f092c"/><stop offset="0.0744" stop-color="#02010a"/><stop offset="0.128" stop-color="#010005"/><stop offset="0.997" stop-color="#000004"/></linearGradient>
<linearGradient id="c24"><stop offset="0.003" stop-color="#1a0c3f"/><stop offset="0.0089" stop-color="#130a33"/><stop offset="0.0149" stop-color="#10092d"/><stop offset="0.0327" stop-color="#120a31"/><stop offset="0.0565" stop-color="#08051d"/><stop offset="0.0804" stop-color="#02010a"/><stop offset="0.1518" stop-color="#010005"/><stop offset="0.997" stop-color="#000004"/></linearGradient>
<linearGradient id="c26"><stop offset="0.003" stop-color="#260c51"/><stop offset="0.0149" stop-color="#140b34"/><stop offset="0.0208" stop-color="#100a2e"/><stop offset="0.0387" stop-color="#120a32"/><stop offset="0.0625" stop-color="#08061e"/><stop offset="0.0863" stop-color="#02010b"/><stop offset="0.128" stop-color="#010005"/><stop offset="0.997" stop-color="#010005"/></linearGradient>
<linearGradient id="c28"><stop offset="0.003" stop-color="#350a60"/><stop offset="0.0208" stop-color="#150b37"/><stop offset="0.0268" stop-color="#110a30"/><stop offset="0.0446" stop-color="#130a33"/><stop offset="0.0685" stop-color="#09061f"/><stop offset="0.0863" stop-color="#02020d"/><stop offset="0.128" stop-color="#010005"/><stop offset="0.997" stop-color="#010005"/></linearGradient>
<linearGradient id="c30"><stop offset="0.003" stop-color="#450b69"/><stop offset="0.0149" stop-color="#2b0b57"/><stop offset="0.0268" stop-color="#170b3b"/><stop offset="0.0327" stop-color="#120a31"/><stop offset="0.0506" stop-color="#140b34"/><stop offset="0.0685" stop-color="#0c0826"/><stop offset="0.0982" stop-color="#02010b"/><stop offset="0.1518" stop-color="#010005"/><stop offset="0.997" stop-color="#010005"/></linearGradient>
<linearGradient id="c32"><stop offset="0.003" stop-color="#530e6d"/><stop offset="0.0149" stop-color="#3c0964"/><stop offset="0.0327" stop-color="#180c3d"/><stop offset="0.0387" stop-color="#130a33"/><stop offset="0.0565" stop-color="#140b36"/><stop offset="0.0804" stop-color="#0a0722"/><stop offset="0.1042" stop-color="#02010b"/><stop offset="0.1577" stop-color="#010005"/><stop offset="0.997" stop-color="#010005"/></linearGradient>
<linearGradient id="c34"><stop offset="0.003" stop-color="#5d126e"/><stop offset="0.0149" stop-color="#4c0c6b"/><stop offset="0.0268" stop-color="#310a5d"/><stop offset="0.0387" stop-color="#1b0c41"/><stop offset="0.0446" stop-color="#150b37"/><stop offset="0.0685" stop-color="#140b36"/><stop offset="0.1042" stop-color="#03020f"/><stop offset="0.1399" stop-color="#010005"/><stop offset="0.997" stop-color="#010005"/></linearGradient>
<linearGradient id="c36"><stop offset="0.003" stop-color="#60136e"/><stop offset="0.0149" stop-color="#59116e"/><stop offset="0.0268" stop-color="#440a69"/><stop offset="0.0387" stop-color="#2a0b56"/><stop offset="0.0506" stop-color="#160b39"/><stop offset="0.0744" stop-color="#140b36"/><stop offset="0.1161" stop-color="#02020c"/><stop offset="0.1577" stop-color="#010005"/><stop offset="0.997" stop-color="#010005"/></linearGradient>
<linearGradient id="c38"><stop offset="0.003" stop-color="#5a116e"/><stop offset="0.0149" stop-color="#60136e"/><stop offset="0.0268" stop-color="#540f6d"/><stop offset="0.0387" stop-color="#3c0964"/><stop offset="0.0506" stop-color="#210c4a"/><stop offset="0.0565" stop-color="#180c3d"/><stop offset="0.0804" stop-color="#160b38"/><stop offset="0.122" stop-color="#02020d"/><stop offset="0.1577" stop-color="#010005"/><stop offset="0.997" stop-color="#010106"/></linearGradient>
<linearGradient id="c40"><stop offset="0.003" stop-color="#4d0c6b"/><stop offset="0.0149" stop-color="#5f136e"/><stop offset="0.0268" stop-color="#5f136e"/><stop offset="0.0446" stop-color="#3f0a66"/><stop offset="0.0565" stop-color="#240c4f"/><stop offset="0.0625" stop-color="#1a0c3f"/><stop offset="0.0685" stop-color="#160b39"/><stop offset="0.0804" stop-color="#180c3c"/><stop offset="0.0982" stop-color="#10092d"/><stop offset="0.122" stop-color="#030311"/><stop offset="0.1518" stop-color="#010106"/><stop offset="0.997" stop-color="#010106"/></linearGradient>
<linearGradient id="c42"><stop offset="0.003" stop-color="#3b0a64"/><stop offset="0.0149" stop-color="#550f6d"/><stop offset="0.0268" stop-color="#62146e"/><stop offset="0.0387" stop-color="#59116e"/><stop offset="0.0506" stop-color="#410a67"/><stop offset="0.0565" stop-color="#330a5e"/><stop offset="0.0685" stop-color="#1a0c3f"/><stop offset="0.0744" stop-color="#160b39"/><stop offset="0.0923" stop-color="#170b3b"/><stop offset="0.1339" stop-color="#02020d"/><stop offset="0.1756" stop-color="#010005"/><stop offset="0.9851" stop-color="#010106"/><stop offset="0.997" stop-color="#010108"/></linearGradient>
<linearGradient id="c44"><stop offset="0.003" stop-color="#280b53"/><stop offset="0.0089" stop-color="#380a61"/><stop offset="0.0208" stop-color="#540f6d"/><stop offset="0.0327" stop-color="#62146e"/><stop offset="0.0446" stop-color="#5b116e"/><stop offset="0.0565" stop-color="#430a68"/><stop offset="0.0685" stop-color="#260c51"/><stop offset="0.0744" stop-color="#1b0c42"/><stop offset="0.0804" stop-color="#170b3b"/><stop offset="0.0982" stop-color="#180c3c"/><stop offset="0.122" stop-color="#0a0722"/><stop offset="0.1399" stop-color="#03020f"/><stop offset="0.1756" stop-color="#010005"/><stop offset="0.9732" stop-color="#010106"/><stop offset="0.997" stop-color="#02010a"/></linearGradient>
<linearGradient id="c46"><stop offset="0.003" stop-color="#180c3c"/><stop offset="0.0149" stop-color="#350a60"/><stop offset="0.0268" stop-color="#520e6d"/><stop offset="0.0387" stop-color="#62146e"/><stop offset="0.0506" stop-color="#5d126e"/><stop offset="0.0625" stop-color="#440a69"/><stop offset="0.0744" stop-color="#260c51"/><stop offset="0.0804" stop-color="#1b0c42"/><stop offset="0.0863" stop-color="#170b3b"/><stop offset="0.1042" stop-color="#180c3d"/><stop offset="0.122" stop-color="#0e092b"/><stop offset="0.1458" stop-color="#03020f"/><stop offset="0.1756" stop-color="#010106"/><stop offset="0.9613" stop-color="#010106"/><stop offset="0.997" stop-color="#02020d"/></linearGradient>
<linearGradient id="c48"><stop offset="0.003" stop-color="#0d0829"/><stop offset="0.0149" stop-color="#240c4d"/><stop offset="0.0208" stop-color="#330a5e"/><stop offset="0.0268" stop-color="#440a69"/><stop offset="0.0387" stop-color="#5d126e"/><stop offset="0.0446" stop-color="#63146e"/><stop offset="0.0506" stop-color="#63146e"/><stop offset="0.0625" stop-color="#520e6d"/><stop offset="0.0744" stop-color="#360a60"/><stop offset="0.0863" stop-color="#1b0c42"/><stop offset="0.0923" stop-color="#170b3b"/><stop offset="0.1101" stop-color="#190c3e"/><stop offset="0.128" stop-color="#10092d"/><stop offset="0.1518" stop-color="#030210"/><stop offset="0.1756" stop-color="#010106"/><stop offset="0.9494" stop-color="#010106"/><stop offset="0.997" stop-color="#030311"/></linearGradient>
<linearGradient id="c50"><stop offset="0.003" stop-color="#07051c"/><stop offset="0.0149" stop-color="#150b37"/><stop offset="0.0268" stop-color="#310a5d"/><stop offset="0.0327" stop-color="#430a68"/><stop offset="0.0446" stop-color="#5d126e"/><stop offset="0.0506" stop-color="#63146e"/><stop offset="0.0625" stop-color="#5e136e"/><stop offset="0.0744" stop-color="#460b69"/><stop offset="0.0863" stop-color="#280b53"/><stop offset="0.0923" stop-color="#1b0c42"/><stop offset="0.0982" stop-color="#170b3b"/><stop offset="0.1161" stop-color="#1a0c3f"/><stop offset="0.128" stop-color="#150b37"/><stop offset="0.1518" stop-color="#050417"/><stop offset="0.1756" stop-color="#010108"/><stop offset="0.497" stop-color="#000004"/><stop offset="0.9554" stop-color="#010108"/><stop offset="0.9911" stop-color="#040314"/><stop offset="0.997" stop-color="#060419"/></linearGradient>
<linearGradient id="c52"><stop offset="0.003" stop-color="#040313"/><stop offset="0.0149" stop-color="#0b0725"/><stop offset="0.0268" stop-color="#200c49"/><stop offset="0.0327" stop-color="#310a5c"/><stop offset="0.0387" stop-color="#410a67"/><stop offset="0.0506" stop-color="#5d126e"/><stop offset="0.0625" stop-color="#65156e"/><stop offset="0.0744" stop-color="#540f6d"/><stop offset="0.0863" stop-color="#370a61"/><stop offset="0.0982" stop-color="#1b0c42"/><stop offset="0.1042" stop-color="#170b3b"/><stop offset="0.122" stop-color="#1b0c41"/><stop offset="0.1339" stop-color="#160b39"/><stop offset="0.1637" stop-color="#040312"/><stop offset="0.1875" stop-color="#010107"/><stop offset="0.7887" stop-color="#000004"/><stop offset="0.9554" stop-color="#02010a"/><stop offset="0.9911" stop-color="#07051b"/><stop offset="0.997" stop-color="#09061f"/></linearGradient>
<linearGradient id="c54"><stop offset="0.003" stop-color="#02020d"/><stop offset="0.0149" stop-color="#060419"/><stop offset="0.0327" stop-color="#1f0c47"/><stop offset="0.0387" stop-color="#300a5b"/><stop offset="0.0446" stop-color="#410a67"/><stop offset="0.0565" stop-color="#5d126e"/><stop offset="0.0685" stop-color="#65156e"/><stop offset="0.0804" stop-color="#540f6d"/><stop offset="0.0923" stop-color="#360a60"/><stop offset="0.1042" stop-color="#1a0c3f"/><stop offset="0.1101" stop-color="#160b38"/><stop offset="0.128" stop-color="#1b0c41"/><stop offset="0.1399" stop-color="#170b3b"/><stop offset="0.1696" stop-color="#040313"/><stop offset="0.1935" stop-color="#010107"/><stop offset="0.7827" stop-color="#000004"/><stop offset="0.9435" stop-color="#010109"/><stop offset="0.9792" stop-color="#07051b"/><stop offset="0.997" stop-color="#0d0829"/></linearGradient>
<linearGradient id="c56"><stop offset="0.003" stop-color="#02010b"/><stop offset="0.0208" stop-color="#060419"/><stop offset="0.0327" stop-color="#120a32"/><stop offset="0.0446" stop-color="#2e0a59"/><stop offset="0.0506" stop-color="#400a67"/><stop offset="0.0625" stop-color="#5d126e"/><stop offset="0.0685" stop-color="#65156e"/><stop offset="0.0804" stop-color="#60136e"/><stop offset="0.0923" stop-color="#450b69"/><stop offset="0.0982" stop-color="#350a60"/><stop offset="0.1101" stop-color="#1a0c3f"/><stop offset="0.1161" stop-color="#160b38"/><stop offset="0.1339" stop-color="#1c0c43"/><stop offset="0.1458" stop-color="#180c3d"/><stop offset="0.1756" stop-color="#040314"/><stop offset="0.1994" stop-color="#010107"/><stop offset="0.7649" stop-color="#000004"/><stop offset="0.9375" stop-color="#02010a"/><stop offset="0.9732" stop-color="#08051d"/><stop offset="0.997" stop-color="#120a32"/></linearGradient>
<linearGradient id="c58"><stop offset="0.003" stop-color="#010109"/><stop offset="0.0208" stop-color="#030311"/><stop offset="0.0327" stop-color="#0a0723"/><stop offset="0.0446" stop-color="#1d0c44"/><stop offset="0.0506" stop-color="#2e0a59"/><stop offset="0.0565" stop-color="#400a67"/><stop offset="0.0685" stop-color="#5d126e"/><stop offset="0.0744" stop-color="#65156e"/><stop offset="0.0863" stop-color="#60136e"/><stop offset="0.0982" stop-color="#440a69"/><stop offset="0.1101" stop-color="#240c4f"/><stop offset="0.1161" stop-color="#180c3d"/><stop offset="0.122" stop-color="#150b37"/><stop offset="0.1399" stop-color="#1c0c43"/><stop offset="0.1518" stop-color="#1a0c3f"/><stop offset="0.1815" stop-color="#050417"/><stop offset="0.2054" stop-color="#010108"/><stop offset="0.5863" stop-color="#000004"/><stop offset="0.9137" stop-color="#010108"/><stop offset="0.9494" stop-color="#040313"/><stop offset="0.997" stop-color="#170b3b"/></linearGradient>
<linearGradient id="c60"><stop offset="0.003" stop-color="#010108"/><stop offset="0.0268" stop-color="#030311"/><stop offset="0.0387" stop-color="#0a0722"/><stop offset="0.0506" stop-color="#1e0c45"/><stop offset="0.0565" stop-color="#2e0a59"/><stop offset="0.0625" stop-color="#410a67"/><stop offset="0.0744" stop-color="#5e136e"/><stop offset="0.0863" stop-color="#66166e"/><stop offset="0.0923" stop-color="#60136e"/><stop offset="0.1042" stop-color="#440a68"/><stop offset="0.1101" stop-color="#320a5e"/><stop offset="0.122" stop-color="#170b3b"/><stop offset="0.128" stop-color="#140b36"/><stop offset="0.1458" stop-color="#1d0c44"/><stop offset="0.1577" stop-color="#1b0c42"/><stop offset="0.1935" stop-color="#030311"/><stop offset="0.2232" stop-color="#010106"/><stop offset="0.8899" stop-color="#010106"/><stop offset="0.9315" stop-color="#03020f"/><stop offset="0.9673" stop-color="#0f092c"/><stop offset="0.9911" stop-color="#190c3e"/><stop offset="0.997" stop-color="#1a0c3f"/></linearGradient>
<linearGradient id="c62"><stop offset="0.003" stop-color="#010106"/><stop offset="0.0327" stop-color="#030311"/><stop offset="0.0446" stop-color="#0a0722"/><stop offset="0.0565" stop-color="#1e0c45"/><stop offset="0.0625" stop-color="#2f0a5a"/><stop offset="0.0685" stop-color="#410a67"/><stop offset="0.0804" stop-color="#5e136e"/><stop offset="0.0863" stop-color="#66166e"/><stop offset="0.0923" stop-color="#66166e"/><stop offset="0.1042" stop-color="#520e6d"/><stop offset="0.1101" stop-color="#430a68"/><stop offset="0.1161" stop-color="#310a5d"/><stop offset="0.122" stop-color="#210c4a"/><stop offset="0.128" stop-color="#170b3b"/><stop offset="0.1339" stop-color="#140b34"/><stop offset="0.1518" stop-color="#1d0c44"/><stop offset="0.1637" stop-color="#1d0c44"/><stop offset="0.1994" stop-color="#040313"/><stop offset="0.2232" stop-color="#010107"/><stop offset="0.8006" stop-color="#010005"/><stop offset="0.9077" stop-color="#02010b"/><stop offset="0.9375" stop-color="#060419"/><stop offset="0.9792" stop-color="#1a0c3f"/><stop offset="0.997" stop-color="#1c0c43"/></linearGradient>
<linearGradient id="c64"><stop offset="0.003" stop-color="#010106"/><stop offset="0.0327" stop-color="#02020d"/><stop offset="0.0446" stop-color="#050417"/><stop offset="0.0565" stop-color="#120a31"/><stop offset="0.0685" stop-color="#300a5b"/><stop offset="0.0744" stop-color="#420a67"/><stop offset="0.0863" stop-color="#60136e"/><stop offset="0.0923" stop-color="#66166e"/><stop offset="0.0982" stop-color="#66166e"/><stop offset="0.1101" stop-color="#530f6d"/><stop offset="0.1161" stop-color="#430a68"/><stop offset="0.122" stop-color="#310a5d"/><stop offset="0.1339" stop-color="#170b3b"/><stop offset="0.1399" stop-color="#130a33"/><stop offset="0.1577" stop-color="#1e0c45"/><stop offset="0.1696" stop-color="#1f0c47"/><stop offset="0.2054" stop-color="#040314"/><stop offset="0.2232" stop-color="#010109"/><stop offset="0.3899" stop-color="#000004"/><stop offset="0.8839" stop-color="#010108"/><stop offset="0.9137" stop-color="#030311"/><stop offset="0.9435" stop-color="#0e092a"/><stop offset="0.9732" stop-color="#1d0c44"/><stop offset="0.997" stop-color="#1e0c45"/></linearGradient>
<linearGradient id="c66"><stop offset="0.003" stop-color="#010106"/><stop offset="0.0387" stop-color="#02020d"/><stop offset="0.0506" stop-color="#050417"/><stop offset="0.0625" stop-color="#120a31"/><stop offset="0.0744" stop-color="#2f0a5a"/><stop offset="0.0804" stop-color="#420a67"/><stop offset="0.0923" stop-color="#60136e"/><stop offset="0.1042" stop-color="#67166e"/><stop offset="0.1161" stop-color="#550f6d"/><stop offset="0.128" stop-color="#330a5e"/><stop offset="0.1399" stop-color="#180c3c"/><stop offset="0.1458" stop-color="#130a33"/><stop offset="0.1637" stop-color="#1f0c47"/><stop offset="0.1815" stop-color="#1c0c43"/><stop offset="0.2113" stop-color="#050417"/><stop offset="0.2351" stop-color="#010108"/><stop offset="0.6756" stop-color="#000004"/><stop offset="0.8839" stop-color="#02010a"/><stop offset="0.9137" stop-color="#050418"/><stop offset="0.9613" stop-color="#1e0c45"/><stop offset="0.997" stop-color="#1f0c48"/></linearGradient>
<linearGradient id="c68"><stop offset="0.003" stop-color="#010106"/><stop offset="0.0387" stop-color="#02010a"/><stop offset="0.0565" stop-color="#050417"/><stop offset="0.0685" stop-color="#110a30"/><stop offset="0.0804" stop-color="#2e0a59"/><stop offset="0.0863" stop-color="#400a67"/><stop offset="0.0982" stop-color="#5f136e"/><stop offset="0.1042" stop-color="#67166e"/><stop offset="0.1101" stop-color="#68166e"/><stop offset="0.122" stop-color="#57106d"/><stop offset="0.1339" stop-color="#370a61"/><stop offset="0.1458" stop-color="#1b0c41"/><stop offset="0.1518" stop-color="#140b36"/><stop offset="0.1756" stop-color="#210c4a"/><stop offset="0.1875" stop-color="#1e0c45"/><stop offset="0.2173" stop-color="#060419"/><stop offset="0.2351" stop-color="#02010b"/><stop offset="0.2946" stop-color="#010005"/><stop offset="0.8542" stop-color="#010107"/><stop offset="0.8958" stop-color="#040312"/><stop offset="0.9375" stop-color="#180c3d"/><stop offset="0.9554" stop-color="#200c49"/><stop offset="0.9851" stop-color="#1e0c45"/><stop offset="0.997" stop-color="#240c4f"/></linearGradient>
<linearGradient id="c70"><stop offset="0.003" stop-color="#010106"/><stop offset="0.0506" stop-color="#02020c"/><stop offset="0.0625" stop-color="#050417"/><stop offset="0.0744" stop-color="#10092d"/><stop offset="0.0863" stop-color="#2b0b57"/><stop offset="0.0923" stop-color="#3e0a66"/><stop offset="0.1042" stop-color="#5d126e"/><stop offset="0.1101" stop-color="#67166e"/><stop offset="0.1161" stop-color="#69176e"/><stop offset="0.128" stop-color="#5b116e"/><stop offset="0.1399" stop-color="#3b0a64"/><stop offset="0.1518" stop-color="#1d0c44"/><stop offset="0.1577" stop-color="#150b37"/><stop offset="0.1637" stop-color="#160b38"/><stop offset="0.1815" stop-color="#210c4a"/><stop offset="0.1935" stop-color="#1f0c48"/><stop offset="0.2113" stop-color="#100a2f"/><stop offset="0.2292" stop-color="#040314"/><stop offset="0.247" stop-color="#010109"/><stop offset="0.4435" stop-color="#000004"/><stop offset="0.8542" stop-color="#010108"/><stop offset="0.8899" stop-color="#050417"/><stop offset="0.9375" stop-color="#1f0c48"/><stop offset="0.9613" stop-color="#210c4a"/><stop offset="0.9792" stop-color="#1e0c45"/><stop offset="0.9911" stop-color="#250c50"/><stop offset="0.997" stop-color="#2f0a5a"/></linearGradient>
<linearGradient id="c72"><stop offset="0.003" stop-color="#010005"/><stop offset="0.0565" stop-color="#02020c"/><stop offset="0.0685" stop-color="#040314"/><stop offset="0.0804" stop-color="#0e092b"/><stop offset="0.0923" stop-color="#290b53"/><stop offset="0.0982" stop-color="#3b0a64"/><stop offset="0.1101" stop-color="#5d126e"/><stop offset="0.122" stop-color="#6a176e"/><stop offset="0.128" stop-color="#68166e"/><stop offset="0.1399" stop-color="#510e6c"/><stop offset="0.1458" stop-color="#400a67"/><stop offset="0.1577" stop-color="#200c49"/><stop offset="0.1637" stop-color="#160b39"/><stop offset="0.1696" stop-color="#160b38"/><stop offset="0.1875" stop-color="#220c4b"/><stop offset="0.1994" stop-color="#220c4b"/><stop offset="0.2113" stop-color="#180c3d"/><stop offset="0.2351" stop-color="#050417"/><stop offset="0.2589" stop-color="#010108"/><stop offset="0.6458" stop-color="#010005"/><stop offset="0.8482" stop-color="#010109"/><stop offset="0.878" stop-color="#040314"/><stop offset="0.9196" stop-color="#1d0c44"/><stop offset="0.9375" stop-color="#230c4e"/><stop offset="0.9732" stop-color="#1d0c44"/><stop offset="0.9851" stop-color="#270b52"/><stop offset="0.9911" stop-color="#310a5d"/><stop offset="0.997" stop-color="#430a68"/></linearGradient>
<linearGradient id="c74"><stop offset="0.003" stop-color="#010005"/><stop offset="0.0625" stop-color="#02010b"/><stop offset="0.0804" stop-color="#07051c"/><stop offset="0.0923" stop-color="#170b3b"/><stop offset="0.1042" stop-color="#370a61"/><stop offset="0.1101" stop-color="#490c6a"/><stop offset="0.122" stop-color="#65156e"/><stop offset="0.128" stop-color="#6b176e"/><stop offset="0.1339" stop-color="#6a176e"/><stop offset="0.1458" stop-color="#56106d"/><stop offset="0.1577" stop-color="#350a5f"/><stop offset="0.1696" stop-color="#190c3e"/><stop offset="0.1756" stop-color="#160b38"/><stop offset="0.1935" stop-color="#220c4b"/><stop offset="0.2054" stop-color="#230c4e"/><stop offset="0.2232" stop-color="#140b36"/><stop offset="0.2411" stop-color="#050418"/><stop offset="0.2649" stop-color="#010108"/><stop offset="0.6935" stop-color="#010005"/><stop offset="0.8423" stop-color="#02010a"/><stop offset="0.8661" stop-color="#040313"/><stop offset="0.8958" stop-color="#140b36"/><stop offset="0.9196" stop-color="#240c4f"/><stop offset="0.9375" stop-color="#240c4f"/><stop offset="0.9613" stop-color="#1c0c43"/><stop offset="0.9732" stop-color="#200c49"/><stop offset="0.9851" stop-color="#350a60"/><stop offset="0.997" stop-color="#5d126e"/></linearGradient>
<linearGradient id="c76"><stop offset="0.003" stop-color="#010005"/><stop offset="0.0685" stop-color="#02010b"/><stop offset="0.0863" stop-color="#06051a"/><stop offset="0.0923" stop-color="#0b0724"/><stop offset="0.1042" stop-color="#210c4a"/><stop offset="0.1101" stop-color="#310a5c"/><stop offset="0.1161" stop-color="#440b68"/><stop offset="0.128" stop-color="#64156e"/><stop offset="0.1339" stop-color="#6c186e"/><stop offset="0.1399" stop-color="#6d186e"/><stop offset="0.1518" stop-color="#5c126e"/><stop offset="0.1637" stop-color="#3a0a63"/><stop offset="0.1756" stop-color="#1d0c44"/><stop offset="0.1815" stop-color="#160b39"/><stop offset="0.2054" stop-color="#240c4f"/><stop offset="0.2173" stop-color="#230c4c"/><stop offset="0.247" stop-color="#07051b"/><stop offset="0.2649" stop-color="#02010b"/><stop offset="0.3482" stop-color="#010005"/><stop offset="0.8244" stop-color="#010108"/><stop offset="0.8601" stop-color="#050417"/><stop offset="0.8839" stop-color="#130a33"/><stop offset="0.9077" stop-color="#250c50"/><stop offset="0.9256" stop-color="#270b52"/><stop offset="0.9554" stop-color="#1b0c41"/><stop offset="0.9673" stop-color="#210c4a"/><stop offset="0.9732" stop-color="#2a0b55"/><stop offset="0.9851" stop-color="#4d0d6b"/><stop offset="0.997" stop-color="#801f6c"/></linearGradient>
<linearGradient id="c78"><stop offset="0.003" stop-color="#010005"/><stop offset="0.0744" stop-color="#02010a"/><stop offset="0.0923" stop-color="#050417"/><stop offset="0.1042" stop-color="#10092f"/><stop offset="0.1161" stop-color="#2c0b57"/><stop offset="0.122" stop-color="#3f0a66"/><stop offset="0.1339" stop-color="#61136e"/><stop offset="0.1399" stop-color="#6b176e"/><stop offset="0.1458" stop-color="#6e186e"/><stop offset="0.1518" stop-color="#6b176e"/><stop offset="0.1637" stop-color="#510e6c"/><stop offset="0.1696" stop-color="#410a67"/><stop offset="0.1815" stop-color="#200c49"/><stop offset="0.1875" stop-color="#180c3c"/><stop offset="0.1935" stop-color="#180c3d"/><stop offset="0.2113" stop-color="#250c50"/><stop offset="0.2232" stop-color="#240c4f"/><stop offset="0.2589" stop-color="#050417"/><stop offset="0.2827" stop-color="#010108"/><stop offset="0.7946" stop-color="#010106"/><stop offset="0.8363" stop-color="#02020d"/><stop offset="0.8601" stop-color="#090621"/><stop offset="0.8958" stop-color="#260c51"/><stop offset="0.9137" stop-color="#290b55"/><stop offset="0.9435" stop-color="#1a0c3f"/><stop offset="0.9554" stop-color="#1c0c43"/><stop offset="0.9613" stop-color="#220c4b"/><stop offset="0.9732" stop-color="#3e0a65"/><stop offset="0.9851" stop-color="#6d186e"/><stop offset="0.9911" stop-color="#88226a"/><stop offset="0.997" stop-color="#a62d5f"/></linearGradient>
<linearGradient id="c80"><stop offset="0.003" stop-color="#010005"/><stop offset="0.0804" stop-color="#02010a"/><stop offset="0.0982" stop-color="#040314"/><stop offset="0.1101" stop-color="#0e082a"/><stop offset="0.122" stop-color="#270b51"/><stop offset="0.128" stop-color="#3a0a63"/><stop offset="0.1399" stop-color="#5d126e"/><stop offset="0.1458" stop-color="#69176e"/><stop offset="0.1518" stop-color="#6f196e"/><stop offset="0.1577" stop-color="#6e186e"/><stop offset="0.1637" stop-color="#66166e"/><stop offset="0.1756" stop-color="#470b69"/><stop offset="0.1815" stop-color="#350a5f"/><stop offset="0.1935" stop-color="#190c3e"/><stop offset="0.1994" stop-color="#180c3c"/><stop offset="0.2173" stop-color="#260c51"/><stop offset="0.2292" stop-color="#260c51"/><stop offset="0.2411" stop-color="#1b0c42"/><stop offset="0.2589" stop-color="#090621"/><stop offset="0.2768" stop-color="#02020d"/><stop offset="0.3244" stop-color="#010106"/><stop offset="0.8065" stop-color="#010108"/><stop offset="0.8423" stop-color="#050417"/><stop offset="0.8661" stop-color="#140b36"/><stop offset="0.8839" stop-color="#260c51"/><stop offset="0.9018" stop-color="#2b0b57"/><stop offset="0.9196" stop-color="#230c4c"/><stop offset="0.9375" stop-color="#1a0c3f"/><stop offset="0.9494" stop-color="#1c0c43"/><stop offset="0.9613" stop-color="#310a5c"/><stop offset="0.9673" stop-color="#430a68"/><stop offset="0.9792" stop-color="#741b6d"/><stop offset="0.9851" stop-color="#922567"/><stop offset="0.997" stop-color="#c9404b"/></linearGradient>
<linearGradient id="c82"><stop offset="0.003" stop-color="#010005"/><stop offset="0.0923" stop-color="#02010b"/><stop offset="0.1101" stop-color="#06051a"/><stop offset="0.122" stop-color="#140b36"/><stop offset="0.1339" stop-color="#340a5e"/><stop offset="0.1399" stop-color="#480b6a"/><stop offset="0.1518" stop-color="#67166e"/><stop offset="0.1577" stop-color="#6f196e"/><stop offset="0.1637" stop-color="#71196e"/><stop offset="0.1696" stop-color="#6a176e"/><stop offset="0.1815" stop-color="#4d0c6b"/><stop offset="0.1875" stop-color="#3a0a63"/><stop offset="0.1994" stop-color="#1c0c43"/><stop offset="0.2054" stop-color="#180c3c"/><stop offset="0.2232" stop-color="#260c51"/><stop offset="0.2351" stop-color="#290b54"/><stop offset="0.247" stop-color="#1f0c47"/><stop offset="0.2649" stop-color="#0a0723"/><stop offset="0.2887" stop-color="#02010b"/><stop offset="0.372" stop-color="#010005"/><stop offset="0.7946" stop-color="#010108"/><stop offset="0.8244" stop-color="#030311"/><stop offset="0.8423" stop-color="#090621"/><stop offset="0.872" stop-color="#250c50"/><stop offset="0.8899" stop-color="#2e0a5a"/><stop offset="0.9077" stop-color="#260c51"/><stop offset="0.9256" stop-color="#1a0c3f"/><stop offset="0.9375" stop-color="#1a0c3f"/><stop offset="0.9494" stop-color="#290b54"/><stop offset="0.9554" stop-color="#370a61"/><stop offset="0.9613" stop-color="#4b0c6b"/><stop offset="0.9732" stop-color="#7e1e6c"/><stop offset="0.9851" stop-color="#b93656"/><stop offset="0.9911" stop-color="#d14644"/><stop offset="0.997" stop-color="#e15635"/></linearGradient>
<linearGradient id="c84"><stop offset="0.003" stop-color="#010005"/><stop offset="0.0923" stop-color="#010109"/><stop offset="0.1161" stop-color="#050417"/><stop offset="0.128" stop-color="#110a30"/><stop offset="0.1339" stop-color="#1c0c43"/><stop offset="0.1399" stop-color="#2e0a59"/><stop offset="0.1458" stop-color="#420a67"/><stop offset="0.1577" stop-color="#65156e"/><stop offset="0.1637" stop-color="#6f196e"/><stop offset="0.1696" stop-color="#721a6e"/><stop offset="0.1756" stop-color="#6d186e"/><stop offset="0.1875" stop-color="#530f6d"/><stop offset="0.1935" stop-color="#410a67"/><stop offset="0.2054" stop-color="#200c49"/><stop offset="0.2113" stop-color="#180c3d"/><stop offset="0.2351" stop-color="#290b55"/><stop offset="0.247" stop-color="#270b52"/><stop offset="0.2589" stop-color="#1a0c3f"/><stop offset="0.2768" stop-color="#08061e"/><stop offset="0.2946" stop-color="#02020d"/><stop offset="0.3423" stop-color="#010106"/><stop offset="0.7827" stop-color="#010108"/><stop offset="0.8185" stop-color="#040313"/><stop offset="0.8363" stop-color="#0b0725"/><stop offset="0.8661" stop-color="#290b54"/><stop offset="0.8839" stop-color="#310a5c"/><stop offset="0.9018" stop-color="#250c50"/><stop offset="0.9196" stop-color="#1a0c3f"/><stop offset="0.9256" stop-color="#190c3e"/><stop offset="0.9375" stop-color="#230c4c"/><stop offset="0.9435" stop-color="#2e0a59"/><stop offset="0.9554" stop-color="#550f6d"/><stop offset="0.9673" stop-color="#8a2269"/><stop offset="0.9792" stop-color="#c33c4f"/><stop offset="0.9851" stop-color="#d84d3e"/><stop offset="0.9911" stop-color="#e55c30"/><stop offset="0.997" stop-color="#ec6727"/></linearGradient>
<linearGradient id="c86"><stop offset="0.003" stop-color="#010005"/><stop offset="0.1042" stop-color="#02010a"/><stop offset="0.122" stop-color="#040314"/><stop offset="0.1339" stop-color="#0e092b"/><stop offset="0.1399" stop-color="#190c3d"/><stop offset="0.1518" stop-color="#3d0a64"/><stop offset="0.1637" stop-color="#61136e"/><stop offset="0.1696" stop-color="#6d186e"/><stop offset="0.1756" stop-color="#731a6e"/><stop offset="0.1815" stop-color="#711a6e"/><stop offset="0.1935" stop-color="#59116e"/><stop offset="0.2054" stop-color="#350a5f"/><stop offset="0.2113" stop-color="#240c4e"/><stop offset="0.2173" stop-color="#1a0c3f"/><stop offset="0.2292" stop-color="#1f0c48"/><stop offset="0.2411" stop-color="#2a0b56"/><stop offset="0.253" stop-color="#290b55"/><stop offset="0.2649" stop-color="#1e0c45"/><stop offset="0.2887" stop-color="#060419"/><stop offset="0.3125" stop-color="#010109"/><stop offset="0.5506" stop-color="#010005"/><stop offset="0.7827" stop-color="#02010a"/><stop offset="0.8125" stop-color="#050417"/><stop offset="0.8363" stop-color="#140b35"/><stop offset="0.8542" stop-color="#270b52"/><stop offset="0.8661" stop-color="#310a5c"/><stop offset="0.8839" stop-color="#2e0a5a"/><stop offset="0.9137" stop-color="#190c3e"/><stop offset="0.9256" stop-color="#1e0c45"/><stop offset="0.9375" stop-color="#350a5f"/><stop offset="0.9494" stop-color="#5f136e"/><stop offset="0.9554" stop-color="#791c6d"/><stop offset="0.9673" stop-color="#b53457"/><stop offset="0.9732" stop-color="#ce4446"/><stop offset="0.9792" stop-color="#e15635"/><stop offset="0.9851" stop-color="#ea6429"/><stop offset="0.9911" stop-color="#ee6b23"/><stop offset="0.997" stop-color="#ed6925"/></linearGradient>
<linearGradient id="c88"><stop offset="0.003" stop-color="#010005"/><stop offset="0.1101" stop-color="#02010a"/><stop offset="0.128" stop-color="#040312"/><stop offset="0.1399" stop-color="#0c0826"/><stop offset="0.1518" stop-color="#240c4d"/><stop offset="0.1577" stop-color="#360a60"/><stop offset="0.1637" stop-color="#4a0c6a"/><stop offset="0.1756" stop-color="#6b176e"/><stop offset="0.1815" stop-color="#741a6e"/><stop offset="0.1875" stop-color="#741a6e"/><stop offset="0.1994" stop-color="#60136e"/><stop offset="0.2113" stop-color="#3b0a63"/><stop offset="0.2232" stop-color="#1d0c44"/><stop offset="0.2292" stop-color="#1a0c3f"/><stop offset="0.247" stop-color="#2a0b56"/><stop offset="0.2589" stop-color="#2c0b58"/><stop offset="0.2708" stop-color="#210c4a"/><stop offset="0.2946" stop-color="#07051c"/><stop offset="0.3125" stop-color="#02020d"/><stop offset="0.3601" stop-color="#010106"/><stop offset="0.7589" stop-color="#010108"/><stop offset="0.7946" stop-color="#040312"/><stop offset="0.8185" stop-color="#0e092b"/><stop offset="0.8423" stop-color="#280b53"/><stop offset="0.8601" stop-color="#330a5e"/><stop offset="0.878" stop-color="#2e0a5a"/><stop offset="0.9018" stop-color="#1b0c42"/><stop offset="0.9137" stop-color="#1b0c42"/><stop offset="0.9256" stop-color="#2c0b58"/><stop offset="0.9375" stop-color="#510e6c"/><stop offset="0.9494" stop-color="#87216a"/><stop offset="0.9554" stop-color="#a52d60"/><stop offset="0.9613" stop-color="#c23b50"/><stop offset="0.9673" stop-color="#d94d3d"/><stop offset="0.9732" stop-color="#e75f2d"/><stop offset="0.9792" stop-color="#ee6b23"/><stop offset="0.9851" stop-color="#f0701f"/><stop offset="0.9911" stop-color="#ed6925"/><stop offset="0.997" stop-color="#e45a31"/></linearGradient>
<linearGradient id="c90"><stop offset="0.003" stop-color="#010005"/><stop offset="0.1161" stop-color="#010109"/><stop offset="0.1339" stop-color="#030311"/><stop offset="0.1458" stop-color="#0a0722"/><stop offset="0.1577" stop-color="#1e0c45"/><stop offset="0.1637" stop-color="#300a5b"/><stop offset="0.1696" stop-color="#450b69"/><stop offset="0.1815" stop-color="#68166e"/><stop offset="0.1875" stop-color="#731a6e"/><stop offset="0.1935" stop-color="#761b6e"/><stop offset="0.2054" stop-color="#65156e"/><stop offset="0.2173" stop-color="#430a68"/><stop offset="0.2292" stop-color="#220c4b"/><stop offset="0.2351" stop-color="#1b0c41"/><stop offset="0.2589" stop-color="#2f0a5b"/><stop offset="0.2708" stop-color="#2b0b57"/><stop offset="0.2827" stop-color="#1e0c45"/><stop offset="0.3006" stop-color="#090621"/><stop offset="0.3185" stop-color="#02020d"/><stop offset="0.372" stop-color="#010106"/><stop offset="0.747" stop-color="#010108"/><stop offset="0.7827" stop-color="#040312"/><stop offset="0.8065" stop-color="#0e092b"/><stop offset="0.8363" stop-color="#2f0a5a"/><stop offset="0.8542" stop-color="#370961"/><stop offset="0.872" stop-color="#2d0b59"/><stop offset="0.8958" stop-color="#1b0c41"/><stop offset="0.9077" stop-color="#1e0c45"/><stop offset="0.9196" stop-color="#320a5d"/><stop offset="0.9315" stop-color="#5b116e"/><stop offset="0.9375" stop-color="#761b6d"/><stop offset="0.9435" stop-color="#932667"/><stop offset="0.9554" stop-color="#cd4347"/><stop offset="0.9613" stop-color="#e15734"/><stop offset="0.9673" stop-color="#ed6826"/><stop offset="0.9732" stop-color="#f1731d"/><stop offset="0.9792" stop-color="#f2731d"/><stop offset="0.9851" stop-color="#ed6a24"/><stop offset="0.9911" stop-color="#e25834"/><stop offset="0.997" stop-color="#ce4446"/></linearGradient>
<linearGradient id="c92"><stop offset="0.003" stop-color="#010005"/><stop offset="0.128" stop-color="#02010a"/><stop offset="0.1458" stop-color="#040314"/><stop offset="0.1577" stop-color="#0e092b"/><stop offset="0.1696" stop-color="#2a0b54"/><stop offset="0.1756" stop-color="#3e0a65"/><stop offset="0.1875" stop-color="#64156e"/><stop offset="0.1935" stop-color="#71196e"/><stop offset="0.1994" stop-color="#771c6d"/><stop offset="0.2054" stop-color="#741b6e"/><stop offset="0.2173" stop-color="#5d126e"/><stop offset="0.2292" stop-color="#390a62"/><stop offset="0.2351" stop-color="#280b53"/><stop offset="0.2411" stop-color="#1d0c44"/><stop offset="0.247" stop-color="#1e0c45"/><stop offset="0.2649" stop-color="#300a5b"/><stop offset="0.2768" stop-color="#2f0a5a"/><stop offset="0.2946" stop-color="#190c3e"/><stop offset="0.3125" stop-color="#07051b"/><stop offset="0.3304" stop-color="#02020d"/><stop offset="0.3839" stop-color="#010106"/><stop offset="0.7351" stop-color="#010108"/><stop offset="0.7768" stop-color="#040314"/><stop offset="0.8006" stop-color="#140b35"/><stop offset="0.8244" stop-color="#310a5c"/><stop offset="0.8423" stop-color="#3a0964"/><stop offset="0.8601" stop-color="#310a5c"/><stop offset="0.8839" stop-color="#1b0c42"/><stop offset="0.8958" stop-color="#1b0c42"/><stop offset="0.9077" stop-color="#2a0b56"/><stop offset="0.9196" stop-color="#4f0d6c"/><stop offset="0.9315" stop-color="#83206b"/><stop offset="0.9375" stop-color="#a22b61"/><stop offset="0.9435" stop-color="#c03a51"/><stop offset="0.9494" stop-color="#d84c3e"/><stop offset="0.9554" stop-color="#e8602c"/><stop offset="0.9613" stop-color="#f1711f"/><stop offset="0.9673" stop-color="#f47819"/><stop offset="0.9732" stop-color="#f3761b"/><stop offset="0.9792" stop-color="#ec6726"/><stop offset="0.9851" stop-color="#df5437"/><stop offset="0.9911" stop-color="#ca404a"/><stop offset="0.997" stop-color="#ac305d"/></linearGradient>
<linearGradient id="c94"><stop offset="0.003" stop-color="#010005"/><stop offset="0.1339" stop-color="#02010a"/><stop offset="0.1518" stop-color="#040312"/><stop offset="0.1637" stop-color="#0b0725"/><stop offset="0.1756" stop-color="#230c4c"/><stop offset="0.1815" stop-color="#360a60"/><stop offset="0.1875" stop-color="#4b0c6b"/><stop offset="0.1994" stop-color="#6d186e"/><stop offset="0.2054" stop-color="#771c6d"/><stop offset="0.2113" stop-color="#781c6d"/><stop offset="0.2173" stop-color="#731a6e"/><stop offset="0.2292" stop-color="#550f6d"/><stop offset="0.2351" stop-color="#430a67"/><stop offset="0.247" stop-color="#220c4b"/><stop offset="0.253" stop-color="#1e0c45"/><stop offset="0.2708" stop-color="#300a5b"/><stop offset="0.2827" stop-color="#320a5e"/><stop offset="0.2946" stop-color="#260c51"/><stop offset="0.3185" stop-color="#090620"/><stop offset="0.3363" stop-color="#02020d"/><stop offset="0.3899" stop-color="#010106"/><stop offset="0.7173" stop-color="#010108"/><stop offset="0.7589" stop-color="#030311"/><stop offset="0.7768" stop-color="#090621"/><stop offset="0.8006" stop-color="#220c4b"/><stop offset="0.8125" stop-color="#310a5d"/><stop offset="0.8304" stop-color="#3e0966"/><stop offset="0.8482" stop-color="#340a5f"/><stop offset="0.878" stop-color="#1a0c3f"/><stop offset="0.8899" stop-color="#1d0c44"/><stop offset="0.9018" stop-color="#310a5c"/><stop offset="0.9137" stop-color="#59116d"/><stop offset="0.9256" stop-color="#902568"/><stop offset="0.9375" stop-color="#cc4249"/><stop offset="0.9435" stop-color="#e15635"/><stop offset="0.9494" stop-color="#ee6b24"/><stop offset="0.9554" stop-color="#f47819"/><stop offset="0.9613" stop-color="#f57d15"/><stop offset="0.9673" stop-color="#f3771a"/><stop offset="0.9732" stop-color="#eb6628"/><stop offset="0.9792" stop-color="#dc513a"/><stop offset="0.9851" stop-color="#c43d4e"/><stop offset="0.9911" stop-color="#a52d60"/><stop offset="0.997" stop-color="#84206b"/></linearGradient>
<linearGradient id="c96"><stop offset="0.003" stop-color="#010005"/><stop offset="0.1399" stop-color="#02010a"/><stop offset="0.1577" stop-color="#030210"/><stop offset="0.1696" stop-color="#090620"/><stop offset="0.1815" stop-color="#1c0c42"/><stop offset="0.1875" stop-color="#2d0b58"/><stop offset="0.1935" stop-color="#430a67"/><stop offset="0.2054" stop-color="#68166e"/><stop offset="0.2113" stop-color="#751b6e"/><stop offset="0.2173" stop-color="#7a1d6d"/><stop offset="0.2232" stop-color="#781c6d"/><stop offset="0.2351" stop-color="#5f136e"/><stop offset="0.247" stop-color="#3a0a63"/><stop offset="0.253" stop-color="#2a0b55"/><stop offset="0.2589" stop-color="#200c49"/><stop offset="0.2827" stop-color="#340a5f"/><stop offset="0.2946" stop-color="#310a5d"/><stop offset="0.3065" stop-color="#230c4c"/><stop offset="0.3244" stop-color="#0b0725"/><stop offset="0.3423" stop-color="#030210"/><stop offset="0.372" stop-color="#010108"/><stop offset="0.6756" stop-color="#010107"/><stop offset="0.7411" stop-color="#02020d"/><stop offset="0.7649" stop-color="#090620"/><stop offset="0.7827" stop-color="#190c3d"/><stop offset="0.7946" stop-color="#2a0b56"/><stop offset="0.8125" stop-color="#3e0965"/><stop offset="0.8244" stop-color="#400a67"/><stop offset="0.8423" stop-color="#310a5d"/><stop offset="0.8661" stop-color="#1b0c41"/><stop offset="0.878" stop-color="#1a0c3f"/><stop offset="0.8899" stop-color="#290b54"/><stop offset="0.9018" stop-color="#4c0c6b"/><stop offset="0.9137" stop-color="#801f6c"/><stop offset="0.9196" stop-color="#9e2a63"/><stop offset="0.9315" stop-color="#d64b3f"/><stop offset="0.9375" stop-color="#e8622b"/><stop offset="0.9435" stop-color="#f2741c"/><stop offset="0.9494" stop-color="#f68013"/><stop offset="0.9554" stop-color="#f68112"/><stop offset="0.9613" stop-color="#f3771a"/><stop offset="0.9673" stop-color="#ea632a"/><stop offset="0.9732" stop-color="#d84d3e"/><stop offset="0.9851" stop-color="#9e2a63"/><stop offset="0.9911" stop-color="#7d1e6c"/><stop offset="0.997" stop-color="#5e136e"/></linearGradient>
<linearGradient id="c98"><stop offset="0.003" stop-color="#010005"/><stop offset="0.1518" stop-color="#02010a"/><stop offset="0.1696" stop-color="#040314"/><stop offset="0.1815" stop-color="#0d0828"/><stop offset="0.1935" stop-color="#250b4f"/><stop offset="0.1994" stop-color="#3a0a63"/><stop offset="0.2054" stop-color="#4e0d6b"/><stop offset="0.2173" stop-color="#711a6e"/><stop offset="0.2232" stop-color="#7c1d6d"/><stop offset="0.2292" stop-color="#7d1e6d"/><stop offset="0.2411" stop-color="#69176e"/><stop offset="0.253" stop-color="#460b69"/><stop offset="0.2649" stop-color="#240c4e"/><stop offset="0.2708" stop-color="#230c4c"/><stop offset="0.2887" stop-color="#350a60"/><stop offset="0.3006" stop-color="#360960"/><stop offset="0.3125" stop-color="#280b53"/><stop offset="0.3363" stop-color="#0a0722"/><stop offset="0.3482" stop-color="#040312"/><stop offset="0.3839" stop-color="#010108"/><stop offset="0.6994" stop-color="#010109"/><stop offset="0.7351" stop-color="#030210"/><stop offset="0.7589" stop-color="#0c0826"/><stop offset="0.7827" stop-color="#2a0b56"/><stop offset="0.7946" stop-color="#3b0964"/><stop offset="0.8125" stop-color="#440a68"/><stop offset="0.8304" stop-color="#350a60"/><stop offset="0.8542" stop-color="#1b0c41"/><stop offset="0.8661" stop-color="#180c3d"/><stop offset="0.878" stop-color="#230c4c"/><stop offset="0.8839" stop-color="#2f0a5a"/><stop offset="0.8899" stop-color="#410a67"/><stop offset="0.9018" stop-color="#70196e"/><stop offset="0.9077" stop-color="#8d2469"/><stop offset="0.9196" stop-color="#ca4149"/><stop offset="0.9256" stop-color="#e05635"/><stop offset="0.9315" stop-color="#ef6d22"/><stop offset="0.9375" stop-color="#f67e14"/><stop offset="0.9435" stop-color="#f8870e"/><stop offset="0.9494" stop-color="#f78410"/><stop offset="0.9554" stop-color="#f2751b"/><stop offset="0.9613" stop-color="#e75f2d"/><stop offset="0.9673" stop-color="#d34842"/><stop offset="0.9732" stop-color="#b83556"/><stop offset="0.9792" stop-color="#962766"/><stop offset="0.9851" stop-color="#751b6d"/><stop offset="0.9911" stop-color="#59116d"/><stop offset="0.997" stop-color="#3f0a66"/></linearGradient>
<linearGradient id="c100"><stop offset="0.003" stop-color="#010005"/><stop offset="0.1577" stop-color="#02010a"/><stop offset="0.1756" stop-color="#030311"/><stop offset="0.1875" stop-color="#0a0722"/><stop offset="0.1935" stop-color="#110a30"/><stop offset="0.1994" stop-color="#1d0c44"/><stop offset="0.2054" stop-color="#300a5a"/><stop offset="0.2113" stop-color="#450b68"/><stop offset="0.2232" stop-color="#6c186e"/><stop offset="0.2292" stop-color="#791c6d"/><stop offset="0.2351" stop-color="#7f1e6c"/><stop offset="0.2411" stop-color="#7d1e6c"/><stop offset="0.253" stop-color="#64156e"/><stop offset="0.2649" stop-color="#3f0a66"/><stop offset="0.2708" stop-color="#2e0a59"/><stop offset="0.2768" stop-color="#240c4f"/><stop offset="0.3006" stop-color="#380962"/><stop offset="0.3125" stop-color="#350a60"/><stop offset="0.3244" stop-color="#250c50"/><stop offset="0.3482" stop-color="#090620"/><stop offset="0.3661" stop-color="#03020f"/><stop offset="0.4018" stop-color="#010108"/><stop offset="0.6815" stop-color="#010109"/><stop offset="0.7232" stop-color="#030210"/><stop offset="0.7411" stop-color="#08061e"/><stop offset="0.7589" stop-color="#180b3c"/><stop offset="0.7768" stop-color="#330a5e"/><stop offset="0.7946" stop-color="#450a69"/><stop offset="0.8125" stop-color="#400a67"/><stop offset="0.8304" stop-color="#2a0b55"/><stop offset="0.8423" stop-color="#1b0c42"/><stop offset="0.8542" stop-color="#170b3b"/><stop offset="0.8661" stop-color="#1d0c44"/><stop offset="0.878" stop-color="#370a61"/><stop offset="0.8899" stop-color="#62146e"/><stop offset="0.8958" stop-color="#7e1e6c"/><stop offset="0.9018" stop-color="#9c2964"/><stop offset="0.9137" stop-color="#d64b3f"/><stop offset="0.9196" stop-color="#e9632a"/><stop offset="0.9315" stop-color="#f8880d"/><stop offset="0.9375" stop-color="#f98c0b"/><stop offset="0.9435" stop-color="#f78410"/><stop offset="0.9494" stop-color="#f1731d"/><stop offset="0.9554" stop-color="#e45b31"/><stop offset="0.9613" stop-color="#ce4446"/><stop offset="0.9673" stop-color="#b0325a"/><stop offset="0.9732" stop-color="#8e2468"/><stop offset="0.9792" stop-color="#6f196e"/><stop offset="0.9851" stop-color="#520e6c"/><stop offset="0.9911" stop-color="#390a62"/><stop offset="0.997" stop-color="#240c4e"/></linearGradient>
<linearGradient id="c102"><stop offset="0.003" stop-color="#010005"/><stop offset="0.1577" stop-color="#010108"/><stop offset="0.1875" stop-color="#040314"/><stop offset="0.1994" stop-color="#0d0828"/><stop offset="0.2113" stop-color="#260b50"/><stop offset="0.2173" stop-color="#3a0a63"/><stop offset="0.2232" stop-color="#4f0d6c"/><stop offset="0.2351" stop-color="#741b6e"/><stop offset="0.2411" stop-color="#801f6c"/><stop offset="0.247" stop-color="#82206c"/><stop offset="0.253" stop-color="#7c1e6d"/><stop offset="0.2649" stop-color="#5f136e"/><stop offset="0.2768" stop-color="#390a62"/><stop offset="0.2827" stop-color="#2a0b55"/><stop offset="0.2887" stop-color="#260c51"/><stop offset="0.3065" stop-color="#380962"/><stop offset="0.3185" stop-color="#390963"/><stop offset="0.3304" stop-color="#2e0a59"/><stop offset="0.3542" stop-color="#0c0826"/><stop offset="0.372" stop-color="#040312"/><stop offset="0.4137" stop-color="#010108"/><stop offset="0.6637" stop-color="#010109"/><stop offset="0.7173" stop-color="#040313"/><stop offset="0.7351" stop-color="#0c0826"/><stop offset="0.753" stop-color="#1f0c48"/><stop offset="0.7649" stop-color="#340a5f"/><stop offset="0.7827" stop-color="#480b6a"/><stop offset="0.7946" stop-color="#480b6a"/><stop offset="0.8125" stop-color="#360a60"/><stop offset="0.8304" stop-color="#1d0c44"/><stop offset="0.8423" stop-color="#170b3b"/><stop offset="0.8542" stop-color="#1a0c3f"/><stop offset="0.8661" stop-color="#2e0a59"/><stop offset="0.878" stop-color="#550f6d"/><stop offset="0.8839" stop-color="#70196e"/><stop offset="0.8899" stop-color="#8c2369"/><stop offset="0.8958" stop-color="#ac305c"/><stop offset="0.9018" stop-color="#ca4149"/><stop offset="0.9077" stop-color="#e25834"/><stop offset="0.9137" stop-color="#f07020"/><stop offset="0.9196" stop-color="#f78410"/><stop offset="0.9256" stop-color="#fa8f09"/><stop offset="0.9315" stop-color="#fa8f08"/><stop offset="0.9375" stop-color="#f78410"/><stop offset="0.9435" stop-color="#f06f21"/><stop offset="0.9494" stop-color="#e05635"/><stop offset="0.9554" stop-color="#c73f4c"/><stop offset="0.9613" stop-color="#a82e5f"/><stop offset="0.9673" stop-color="#86216a"/><stop offset="0.9732" stop-color="#67166e"/><stop offset="0.9792" stop-color="#4c0c6b"/><stop offset="0.9851" stop-color="#340a5e"/><stop offset="0.9911" stop-color="#210c4a"/><stop offset="0.997" stop-color="#140b36"/></linearGradient>
<linearGradient id="c104"><stop offset="0.003" stop-color="#000004"/><stop offset="0.1756" stop-color="#02010a"/><stop offset="0.1935" stop-color="#030311"/><stop offset="0.2054" stop-color="#0a0722"/><stop offset="0.2173" stop-color="#1c0c43"/><stop offset="0.2232" stop-color="#2f0a59"/><stop offset="0.2292" stop-color="#440b68"/><stop offset="0.2411" stop-color="#6d186e"/><stop offset="0.247" stop-color="#7c1d6d"/><stop offset="0.253" stop-color="#84206b"/><stop offset="0.2589" stop-color="#83206b"/><stop offset="0.2649" stop-color="#7b1d6d"/><stop offset="0.2768" stop-color="#5a116e"/><stop offset="0.2887" stop-color="#350a5f"/><stop offset="0.2946" stop-color="#290b54"/><stop offset="0.3065" stop-color="#310a5d"/><stop offset="0.3244" stop-color="#3e0966"/><stop offset="0.3363" stop-color="#360a60"/><stop offset="0.3542" stop-color="#1a0c3f"/><stop offset="0.3661" stop-color="#0c0826"/><stop offset="0.3839" stop-color="#040312"/><stop offset="0.4256" stop-color="#010108"/><stop offset="0.6399" stop-color="#010109"/><stop offset="0.6935" stop-color="#03020f"/><stop offset="0.7173" stop-color="#08061e"/><stop offset="0.7351" stop-color="#180b3c"/><stop offset="0.753" stop-color="#340a5f"/><stop offset="0.7708" stop-color="#4a0c6b"/><stop offset="0.7827" stop-color="#4c0c6b"/><stop offset="0.8006" stop-color="#390963"/><stop offset="0.8244" stop-color="#1a0c3f"/><stop offset="0.8363" stop-color="#160b39"/><stop offset="0.8423" stop-color="#180c3c"/><stop offset="0.8542" stop-color="#270b52"/><stop offset="0.8661" stop-color="#4a0c6a"/><stop offset="0.878" stop-color="#7d1e6c"/><stop offset="0.8839" stop-color="#9c2964"/><stop offset="0.8958" stop-color="#d74c3f"/><stop offset="0.9018" stop-color="#ea6529"/><stop offset="0.9077" stop-color="#f57d15"/><stop offset="0.9137" stop-color="#f98e0a"/><stop offset="0.9196" stop-color="#fb9606"/><stop offset="0.9256" stop-color="#fa9108"/><stop offset="0.9315" stop-color="#f68112"/><stop offset="0.9375" stop-color="#ed6a24"/><stop offset="0.9435" stop-color="#db503b"/><stop offset="0.9494" stop-color="#c03a51"/><stop offset="0.9554" stop-color="#9f2a62"/><stop offset="0.9613" stop-color="#7e1e6c"/><stop offset="0.9673" stop-color="#60136e"/><stop offset="0.9732" stop-color="#460b69"/><stop offset="0.9792" stop-color="#2f0a5a"/><stop offset="0.9851" stop-color="#1d0c44"/><stop offset="0.997" stop-color="#0b0725"/></linearGradient>
<linearGradient id="c106"><stop offset="0.003" stop-color="#010005"/><stop offset="0.1756" stop-color="#010109"/><stop offset="0.1994" stop-color="#03020f"/><stop offset="0.2113" stop-color="#07051b"/><stop offset="0.2232" stop-color="#150b37"/><stop offset="0.2351" stop-color="#370a61"/><stop offset="0.2411" stop-color="#4d0d6b"/><stop offset="0.253" stop-color="#751b6d"/><stop offset="0.2589" stop-color="#82206c"/><stop offset="0.2649" stop-color="#88226a"/><stop offset="0.2708" stop-color="#84206b"/><stop offset="0.2827" stop-color="#69176e"/><stop offset="0.2946" stop-color="#430b68"/><stop offset="0.3006" stop-color="#320a5d"/><stop offset="0.3065" stop-color="#290b55"/><stop offset="0.3304" stop-color="#3f0a66"/><stop offset="0.3482" stop-color="#370a61"/><stop offset="0.3601" stop-color="#230c4c"/><stop offset="0.378" stop-color="#0d0828"/><stop offset="0.3958" stop-color="#040312"/><stop offset="0.4256" stop-color="#02010a"/><stop offset="0.6518" stop-color="#02010b"/><stop offset="0.6875" stop-color="#040312"/><stop offset="0.7054" stop-color="#090621"/><stop offset="0.7292" stop-color="#220c4b"/><stop offset="0.7411" stop-color="#370a61"/><stop offset="0.7589" stop-color="#4d0c6b"/><stop offset="0.7768" stop-color="#4c0c6b"/><stop offset="0.7946" stop-color="#340a5f"/><stop offset="0.8125" stop-color="#1b0c42"/><stop offset="0.8244" stop-color="#160b38"/><stop offset="0.8304" stop-color="#160b38"/><stop offset="0.8423" stop-color="#220c4b"/><stop offset="0.8542" stop-color="#3f0a66"/><stop offset="0.8601" stop-color="#550f6d"/><stop offset="0.872" stop-color="#8c2369"/><stop offset="0.878" stop-color="#ac305c"/><stop offset="0.8839" stop-color="#cb4249"/><stop offset="0.8899" stop-color="#e25933"/><stop offset="0.8958" stop-color="#f1731d"/><stop offset="0.9018" stop-color="#f88a0c"/><stop offset="0.9077" stop-color="#fb9807"/><stop offset="0.9137" stop-color="#fb9b06"/><stop offset="0.9196" stop-color="#fa9208"/><stop offset="0.9256" stop-color="#f57e14"/><stop offset="0.9315" stop-color="#ea6429"/><stop offset="0.9375" stop-color="#d54941"/><stop offset="0.9435" stop-color="#b73557"/><stop offset="0.9494" stop-color="#962766"/><stop offset="0.9554" stop-color="#751b6d"/><stop offset="0.9613" stop-color="#58106d"/><stop offset="0.9673" stop-color="#3f0a66"/><stop offset="0.9732" stop-color="#290b53"/><stop offset="0.9851" stop-color="#10092d"/><stop offset="0.997" stop-color="#06051a"/></linearGradient>
<linearGradient id="c108"><stop offset="0.003" stop-color="#010005"/><stop offset="0.1935" stop-color="#02010a"/><stop offset="0.2113" stop-color="#030311"/><stop offset="0.2232" stop-color="#090620"/><stop offset="0.2351" stop-color="#190b3e"/><stop offset="0.2411" stop-color="#2a0b55"/><stop offset="0.247" stop-color="#3f0a65"/><stop offset="0.253" stop-color="#56106d"/><stop offset="0.2649" stop-color="#7c1e6d"/><stop offset="0.2708" stop-color="#88226a"/><stop offset="0.2768" stop-color="#8a226a"/><stop offset="0.2827" stop-color="#85216b"/><stop offset="0.2946" stop-color="#66166e"/><stop offset="0.3065" stop-color="#400a66"/><stop offset="0.3125" stop-color="#2f0a5a"/><stop offset="0.3185" stop-color="#2b0b57"/><stop offset="0.3363" stop-color="#3e0966"/><stop offset="0.3482" stop-color="#420a68"/><stop offset="0.3661" stop-color="#2f0a5a"/><stop offset="0.3899" stop-color="#0e082a"/><stop offset="0.4018" stop-color="#06051a"/><stop offset="0.4196" stop-color="#02020e"/><stop offset="0.5327" stop-color="#010108"/><stop offset="0.6577" stop-color="#02020e"/><stop offset="0.6875" stop-color="#08051d"/><stop offset="0.7054" stop-color="#160b38"/><stop offset="0.7232" stop-color="#310a5c"/><stop offset="0.7411" stop-color="#4b0c6b"/><stop offset="0.7589" stop-color="#520e6d"/><stop offset="0.7768" stop-color="#410a67"/><stop offset="0.7946" stop-color="#240c4f"/><stop offset="0.8125" stop-color="#160b38"/><stop offset="0.8244" stop-color="#180c3c"/><stop offset="0.8363" stop-color="#280b53"/><stop offset="0.8482" stop-color="#4c0c6b"/><stop offset="0.8601" stop-color="#7f1e6c"/><stop offset="0.8661" stop-color="#9e2a63"/><stop offset="0.872" stop-color="#bd3853"/><stop offset="0.878" stop-color="#d94e3d"/><stop offset="0.8839" stop-color="#ec6826"/><stop offset="0.8899" stop-color="#f68212"/><stop offset="0.8958" stop-color="#fb9707"/><stop offset="0.9018" stop-color="#fca008"/><stop offset="0.9077" stop-color="#fb9e07"/><stop offset="0.9137" stop-color="#fa9009"/><stop offset="0.9196" stop-color="#f47918"/><stop offset="0.9256" stop-color="#e65d2f"/><stop offset="0.9315" stop-color="#ce4446"/><stop offset="0.9375" stop-color="#ae315c"/><stop offset="0.9435" stop-color="#8d2469"/><stop offset="0.9494" stop-color="#6d186e"/><stop offset="0.9554" stop-color="#510e6c"/><stop offset="0.9613" stop-color="#390a62"/><stop offset="0.9673" stop-color="#240c4e"/><stop offset="0.9792" stop-color="#0e092a"/><stop offset="0.997" stop-color="#040313"/></linearGradient>
<linearGradient id="c110"><stop offset="0.003" stop-color="#010005"/><stop offset="0.1994" stop-color="#02010a"/><stop offset="0.2232" stop-color="#040312"/><stop offset="0.2351" stop-color="#0a0723"/><stop offset="0.247" stop-color="#1f0c46"/><stop offset="0.253" stop-color="#310a5c"/><stop offset="0.2589" stop-color="#480c69"/><stop offset="0.2708" stop-color="#721a6e"/><stop offset="0.2768" stop-color="#83206b"/><stop offset="0.2827" stop-color="#8c2369"/><stop offset="0.2887" stop-color="#8e2469"/><stop offset="0.2946" stop-color="#86216b"/><stop offset="0.3065" stop-color="#65156e"/><stop offset="0.3185" stop-color="#3e0a65"/><stop offset="0.3244" stop-color="#310a5c"/><stop offset="0.3304" stop-color="#2f0a5a"/><stop offset="0.3542" stop-color="#450a69"/><stop offset="0.3661" stop-color="#420a68"/><stop offset="0.378" stop-color="#320a5d"/><stop offset="0.4018" stop-color="#0f092c"/><stop offset="0.4196" stop-color="#050416"/><stop offset="0.4494" stop-color="#02020c"/><stop offset="0.6161" stop-color="#02010b"/><stop offset="0.6577" stop-color="#040313"/><stop offset="0.6696" stop-color="#06051a"/><stop offset="0.6875" stop-color="#120a32"/><stop offset="0.7113" stop-color="#380a61"/><stop offset="0.7292" stop-color="#510e6c"/><stop offset="0.747" stop-color="#550f6d"/><stop offset="0.7649" stop-color="#440a68"/><stop offset="0.7827" stop-color="#270b52"/><stop offset="0.8006" stop-color="#160b39"/><stop offset="0.8065" stop-color="#150b37"/><stop offset="0.8185" stop-color="#1c0c43"/><stop offset="0.8304" stop-color="#320a5d"/><stop offset="0.8363" stop-color="#450b68"/><stop offset="0.8482" stop-color="#741a6d"/><stop offset="0.8542" stop-color="#902568"/><stop offset="0.8601" stop-color="#b0325a"/><stop offset="0.8661" stop-color="#ce4446"/><stop offset="0.872" stop-color="#e55d2f"/><stop offset="0.878" stop-color="#f37919"/><stop offset="0.8839" stop-color="#fa900a"/><stop offset="0.8899" stop-color="#fca109"/><stop offset="0.8958" stop-color="#fca60c"/><stop offset="0.9018" stop-color="#fca008"/><stop offset="0.9077" stop-color="#f98d0a"/><stop offset="0.9137" stop-color="#f1741d"/><stop offset="0.9196" stop-color="#e15734"/><stop offset="0.9256" stop-color="#c73e4c"/><stop offset="0.9315" stop-color="#a52d60"/><stop offset="0.9375" stop-color="#84206b"/><stop offset="0.9435" stop-color="#65156e"/><stop offset="0.9494" stop-color="#4a0c6a"/><stop offset="0.9554" stop-color="#320a5d"/><stop offset="0.9613" stop-color="#1f0c48"/><stop offset="0.9732" stop-color="#0d0827"/><stop offset="0.9851" stop-color="#050418"/><stop offset="0.997" stop-color="#030210"/></linearGradient>
<linearGradient id="c112"><stop offset="0.003" stop-color="#010107"/><stop offset="0.1935" stop-color="#010108"/><stop offset="0.2292" stop-color="#030210"/><stop offset="0.2411" stop-color="#07051c"/><stop offset="0.253" stop-color="#160b38"/><stop offset="0.2589" stop-color="#240b4d"/><stop offset="0.2649" stop-color="#380a61"/><stop offset="0.2708" stop-color="#4f0d6b"/><stop offset="0.2827" stop-color="#791c6d"/><stop offset="0.2887" stop-color="#88226a"/><stop offset="0.2946" stop-color="#912568"/><stop offset="0.3006" stop-color="#902568"/><stop offset="0.3065" stop-color="#88226a"/><stop offset="0.3244" stop-color="#520e6c"/><stop offset="0.3363" stop-color="#330a5e"/><stop offset="0.3423" stop-color="#310a5d"/><stop offset="0.3601" stop-color="#440a69"/><stop offset="0.378" stop-color="#450b69"/><stop offset="0.3899" stop-color="#370a61"/><stop offset="0.4137" stop-color="#120a32"/><stop offset="0.4315" stop-color="#06051a"/><stop offset="0.4613" stop-color="#02020d"/><stop offset="0.6101" stop-color="#02020c"/><stop offset="0.6458" stop-color="#040314"/><stop offset="0.6637" stop-color="#0b0725"/><stop offset="0.6815" stop-color="#200c48"/><stop offset="0.6935" stop-color="#350a5f"/><stop offset="0.7113" stop-color="#530f6d"/><stop offset="0.7292" stop-color="#5d126e"/><stop offset="0.747" stop-color="#510e6c"/><stop offset="0.7649" stop-color="#320a5d"/><stop offset="0.7827" stop-color="#1a0c3f"/><stop offset="0.7946" stop-color="#150b37"/><stop offset="0.8065" stop-color="#1a0c3f"/><stop offset="0.8185" stop-color="#2e0a59"/><stop offset="0.8304" stop-color="#540f6c"/><stop offset="0.8423" stop-color="#87216a"/><stop offset="0.8482" stop-color="#a52d60"/><stop offset="0.8542" stop-color="#c43d4e"/><stop offset="0.8601" stop-color="#de5338"/><stop offset="0.8661" stop-color="#ef6f20"/><stop offset="0.872" stop-color="#f88a0d"/><stop offset="0.878" stop-color="#fb9f09"/><stop offset="0.8839" stop-color="#fcab10"/><stop offset="0.8899" stop-color="#fcab10"/><stop offset="0.8958" stop-color="#fb9f08"/><stop offset="0.9018" stop-color="#f8880d"/><stop offset="0.9077" stop-color="#ee6c22"/><stop offset="0.9137" stop-color="#da4f3c"/><stop offset="0.9196" stop-color="#be3952"/><stop offset="0.9256" stop-color="#9b2964"/><stop offset="0.9315" stop-color="#7b1d6d"/><stop offset="0.9375" stop-color="#5d126e"/><stop offset="0.9435" stop-color="#430a67"/><stop offset="0.9554" stop-color="#1c0c43"/><stop offset="0.9673" stop-color="#0b0725"/><stop offset="0.9792" stop-color="#050416"/><stop offset="0.997" stop-color="#02020e"/></linearGradient>
<linearGradient id="c114"><stop offset="0.003" stop-color="#02010b"/><stop offset="0.1994" stop-color="#010108"/><stop offset="0.2411" stop-color="#030311"/><stop offset="0.253" stop-color="#08061e"/><stop offset="0.2589" stop-color="#0e082a"/><stop offset="0.2708" stop-color="#280b52"/><stop offset="0.2768" stop-color="#3d0a64"/><stop offset="0.2827" stop-color="#550f6d"/><stop offset="0.2946" stop-color="#7f1e6c"/><stop offset="0.3006" stop-color="#8d2369"/><stop offset="0.3065" stop-color="#942667"/><stop offset="0.3125" stop-color="#932667"/><stop offset="0.3185" stop-color="#8b2369"/><stop offset="0.3363" stop-color="#56106d"/><stop offset="0.3482" stop-color="#380a61"/><stop offset="0.3542" stop-color="#330a5e"/><stop offset="0.378" stop-color="#4a0c6b"/><stop offset="0.3899" stop-color="#480b6a"/><stop offset="0.4077" stop-color="#320a5d"/><stop offset="0.4315" stop-color="#120a31"/><stop offset="0.4554" stop-color="#060419"/><stop offset="0.503" stop-color="#02020d"/><stop offset="0.6042" stop-color="#03020f"/><stop offset="0.6399" stop-color="#08051d"/><stop offset="0.6518" stop-color="#0e082a"/><stop offset="0.6696" stop-color="#250b4f"/><stop offset="0.6815" stop-color="#3d0a64"/><stop offset="0.6994" stop-color="#5b116e"/><stop offset="0.7173" stop-color="#65156e"/><stop offset="0.7351" stop-color="#530f6d"/><stop offset="0.753" stop-color="#340a5f"/><stop offset="0.7708" stop-color="#1b0c42"/><stop offset="0.7827" stop-color="#160b38"/><stop offset="0.7946" stop-color="#1a0c3f"/><stop offset="0.8065" stop-color="#2c0b57"/><stop offset="0.8185" stop-color="#4f0d6b"/><stop offset="0.8304" stop-color="#801f6c"/><stop offset="0.8363" stop-color="#9e2a63"/><stop offset="0.8423" stop-color="#bb3854"/><stop offset="0.8482" stop-color="#d74d3e"/><stop offset="0.8542" stop-color="#eb6727"/><stop offset="0.8601" stop-color="#f78411"/><stop offset="0.8661" stop-color="#fb9c09"/><stop offset="0.872" stop-color="#fcad12"/><stop offset="0.878" stop-color="#fcb317"/><stop offset="0.8839" stop-color="#fcad12"/><stop offset="0.8899" stop-color="#fb9b08"/><stop offset="0.8958" stop-color="#f68112"/><stop offset="0.9018" stop-color="#e9632a"/><stop offset="0.9077" stop-color="#d24743"/><stop offset="0.9137" stop-color="#b33359"/><stop offset="0.9196" stop-color="#902568"/><stop offset="0.9256" stop-color="#711a6e"/><stop offset="0.9315" stop-color="#550f6d"/><stop offset="0.9375" stop-color="#3c0a64"/><stop offset="0.9435" stop-color="#270b51"/><stop offset="0.9554" stop-color="#10092d"/><stop offset="0.9673" stop-color="#07051b"/><stop offset="0.9851" stop-color="#03020f"/><stop offset="0.997" stop-color="#02020c"/></linearGradient>
<linearGradient id="c116"><stop offset="0.003" stop-color="#03020f"/><stop offset="0.1339" stop-color="#02010b"/><stop offset="0.2232" stop-color="#02010a"/><stop offset="0.253" stop-color="#040313"/><stop offset="0.2649" stop-color="#090621"/><stop offset="0.2708" stop-color="#10092d"/><stop offset="0.2827" stop-color="#2b0b56"/><stop offset="0.2887" stop-color="#420b67"/><stop offset="0.3006" stop-color="#6f196e"/><stop offset="0.3125" stop-color="#912568"/><stop offset="0.3185" stop-color="#992865"/><stop offset="0.3244" stop-color="#972766"/><stop offset="0.3304" stop-color="#8f2468"/><stop offset="0.3482" stop-color="#5d126e"/><stop offset="0.3601" stop-color="#3c0a63"/><stop offset="0.3661" stop-color="#370961"/><stop offset="0.3899" stop-color="#4d0c6b"/><stop offset="0.4077" stop-color="#490c6a"/><stop offset="0.4256" stop-color="#350a5f"/><stop offset="0.4494" stop-color="#170b39"/><stop offset="0.4673" stop-color="#0b0724"/><stop offset="0.503" stop-color="#040312"/><stop offset="0.5863" stop-color="#030311"/><stop offset="0.622" stop-color="#0a0722"/><stop offset="0.6458" stop-color="#190b3e"/><stop offset="0.6637" stop-color="#390a62"/><stop offset="0.6815" stop-color="#5c126e"/><stop offset="0.6935" stop-color="#69176e"/><stop offset="0.7054" stop-color="#6a176e"/><stop offset="0.7232" stop-color="#550f6d"/><stop offset="0.7411" stop-color="#340a5f"/><stop offset="0.7589" stop-color="#1b0c42"/><stop offset="0.7708" stop-color="#160b38"/><stop offset="0.7827" stop-color="#1a0c3f"/><stop offset="0.7946" stop-color="#2a0b55"/><stop offset="0.8065" stop-color="#4b0c6a"/><stop offset="0.8185" stop-color="#7a1d6c"/><stop offset="0.8244" stop-color="#972765"/><stop offset="0.8304" stop-color="#b53457"/><stop offset="0.8363" stop-color="#d24843"/><stop offset="0.8423" stop-color="#e8612c"/><stop offset="0.8482" stop-color="#f57e15"/><stop offset="0.8542" stop-color="#fb990a"/><stop offset="0.8601" stop-color="#fcad12"/><stop offset="0.8661" stop-color="#fbb81d"/><stop offset="0.872" stop-color="#fbb71c"/><stop offset="0.878" stop-color="#fcaa0f"/><stop offset="0.8839" stop-color="#fa9409"/><stop offset="0.8899" stop-color="#f3771a"/><stop offset="0.8958" stop-color="#e25933"/><stop offset="0.9018" stop-color="#c73f4c"/><stop offset="0.9077" stop-color="#a72e5f"/><stop offset="0.9137" stop-color="#85216b"/><stop offset="0.9196" stop-color="#67166e"/><stop offset="0.9256" stop-color="#4c0c6b"/><stop offset="0.9315" stop-color="#350a5f"/><stop offset="0.9435" stop-color="#160b38"/><stop offset="0.9554" stop-color="#09061f"/><stop offset="0.9732" stop-color="#030311"/><stop offset="0.997" stop-color="#02020c"/></linearGradient>
<linearGradient id="c118"><stop offset="0.003" stop-color="#030311"/><stop offset="0.0685" stop-color="#050416"/><stop offset="0.2113" stop-color="#02010a"/><stop offset="0.2589" stop-color="#030311"/><stop offset="0.2708" stop-color="#06051a"/><stop offset="0.2827" stop-color="#110a30"/><stop offset="0.2946" stop-color="#2e0b58"/><stop offset="0.3006" stop-color="#440b68"/><stop offset="0.3125" stop-color="#71196e"/><stop offset="0.3244" stop-color="#942667"/><stop offset="0.3304" stop-color="#9c2964"/><stop offset="0.3363" stop-color="#9d2964"/><stop offset="0.3482" stop-color="#89226a"/><stop offset="0.3661" stop-color="#55106d"/><stop offset="0.372" stop-color="#450b68"/><stop offset="0.378" stop-color="#3d0965"/><stop offset="0.3839" stop-color="#3d0965"/><stop offset="0.4077" stop-color="#510e6c"/><stop offset="0.4256" stop-color="#4d0d6b"/><stop offset="0.4494" stop-color="#360a5f"/><stop offset="0.4732" stop-color="#1c0b42"/><stop offset="0.503" stop-color="#090621"/><stop offset="0.5268" stop-color="#07051b"/><stop offset="0.5863" stop-color="#08051d"/><stop offset="0.6101" stop-color="#10092d"/><stop offset="0.6399" stop-color="#2c0b57"/><stop offset="0.6577" stop-color="#4e0d6b"/><stop offset="0.6756" stop-color="#6c186e"/><stop offset="0.6875" stop-color="#711a6e"/><stop offset="0.6994" stop-color="#69176e"/><stop offset="0.7173" stop-color="#4b0c6b"/><stop offset="0.7351" stop-color="#2a0b55"/><stop offset="0.747" stop-color="#1b0c41"/><stop offset="0.7589" stop-color="#160b38"/><stop offset="0.7708" stop-color="#1a0c3f"/><stop offset="0.7827" stop-color="#2a0b55"/><stop offset="0.7946" stop-color="#490c6a"/><stop offset="0.8065" stop-color="#771c6d"/><stop offset="0.8125" stop-color="#932667"/><stop offset="0.8185" stop-color="#b0325a"/><stop offset="0.8244" stop-color="#cd4447"/><stop offset="0.8304" stop-color="#e45c30"/><stop offset="0.8363" stop-color="#f37a18"/><stop offset="0.8423" stop-color="#fa960b"/><stop offset="0.8482" stop-color="#fcae13"/><stop offset="0.8542" stop-color="#fbbc21"/><stop offset="0.8601" stop-color="#fac026"/><stop offset="0.8661" stop-color="#fbb81d"/><stop offset="0.872" stop-color="#fca50c"/><stop offset="0.878" stop-color="#f8890d"/><stop offset="0.8839" stop-color="#ed6a24"/><stop offset="0.8899" stop-color="#d84d3d"/><stop offset="0.8958" stop-color="#ba3755"/><stop offset="0.9018" stop-color="#992865"/><stop offset="0.9077" stop-color="#781c6d"/><stop offset="0.9137" stop-color="#5c126e"/><stop offset="0.9196" stop-color="#430b68"/><stop offset="0.9315" stop-color="#1e0c45"/><stop offset="0.9375" stop-color="#120a32"/><stop offset="0.9494" stop-color="#08051d"/><stop offset="0.9732" stop-color="#03020f"/><stop offset="0.997" stop-color="#02010a"/></linearGradient>
<linearGradient id="c120"><stop offset="0.003" stop-color="#040314"/><stop offset="0.0804" stop-color="#08051d"/><stop offset="0.2292" stop-color="#02020c"/><stop offset="0.2708" stop-color="#030311"/><stop offset="0.2887" stop-color="#0b0724"/><stop offset="0.2946" stop-color="#120a31"/><stop offset="0.3065" stop-color="#2f0b59"/><stop offset="0.3125" stop-color="#440b68"/><stop offset="0.3244" stop-color="#71196e"/><stop offset="0.3363" stop-color="#952666"/><stop offset="0.3423" stop-color="#9f2a63"/><stop offset="0.3482" stop-color="#a22b61"/><stop offset="0.3601" stop-color="#932667"/><stop offset="0.378" stop-color="#61146e"/><stop offset="0.3899" stop-color="#420a67"/><stop offset="0.3958" stop-color="#3e0966"/><stop offset="0.4315" stop-color="#550f6d"/><stop offset="0.4554" stop-color="#4d0d6b"/><stop offset="0.4792" stop-color="#380a61"/><stop offset="0.5089" stop-color="#190b3d"/><stop offset="0.5268" stop-color="#150b37"/><stop offset="0.5804" stop-color="#140b36"/><stop offset="0.5982" stop-color="#1c0c43"/><stop offset="0.6339" stop-color="#420a67"/><stop offset="0.6458" stop-color="#550f6d"/><stop offset="0.6637" stop-color="#731a6e"/><stop offset="0.6756" stop-color="#771c6d"/><stop offset="0.6935" stop-color="#62146e"/><stop offset="0.7113" stop-color="#3e0a65"/><stop offset="0.7292" stop-color="#1f0c48"/><stop offset="0.7411" stop-color="#160b39"/><stop offset="0.753" stop-color="#160b39"/><stop offset="0.7649" stop-color="#200c49"/><stop offset="0.7768" stop-color="#380a62"/><stop offset="0.7887" stop-color="#5d126e"/><stop offset="0.8006" stop-color="#902567"/><stop offset="0.8125" stop-color="#ca4249"/><stop offset="0.8185" stop-color="#e35a32"/><stop offset="0.8244" stop-color="#f2761b"/><stop offset="0.8304" stop-color="#fa950b"/><stop offset="0.8363" stop-color="#fbae14"/><stop offset="0.8423" stop-color="#fac026"/><stop offset="0.8482" stop-color="#f9c62e"/><stop offset="0.8542" stop-color="#fac329"/><stop offset="0.8601" stop-color="#fcb318"/><stop offset="0.8661" stop-color="#fb9a09"/><stop offset="0.872" stop-color="#f47b17"/><stop offset="0.878" stop-color="#e45c30"/><stop offset="0.8839" stop-color="#cb4248"/><stop offset="0.8899" stop-color="#ab2f5d"/><stop offset="0.8958" stop-color="#8b2369"/><stop offset="0.9018" stop-color="#6c186e"/><stop offset="0.9077" stop-color="#510e6c"/><stop offset="0.9137" stop-color="#3a0a63"/><stop offset="0.9256" stop-color="#190c3d"/><stop offset="0.9375" stop-color="#0a0723"/><stop offset="0.9494" stop-color="#050416"/><stop offset="0.9911" stop-color="#02010a"/><stop offset="0.997" stop-color="#02010a"/></linearGradient>
<linearGradient id="c122"><stop offset="0.003" stop-color="#040314"/><stop offset="0.0923" stop-color="#0c0826"/><stop offset="0.1637" stop-color="#07051b"/><stop offset="0.247" stop-color="#03020f"/><stop offset="0.2827" stop-color="#040313"/><stop offset="0.2946" stop-color="#07051c"/><stop offset="0.3065" stop-color="#120a32"/><stop offset="0.3185" stop-color="#2d0b57"/><stop offset="0.3244" stop-color="#420b66"/><stop offset="0.3363" stop-color="#6e186e"/><stop offset="0.3482" stop-color="#952666"/><stop offset="0.3542" stop-color="#a22b62"/><stop offset="0.3601" stop-color="#a72d5f"/><stop offset="0.372" stop-color="#9e2a63"/><stop offset="0.3899" stop-color="#6d186e"/><stop offset="0.4077" stop-color="#400a66"/><stop offset="0.4137" stop-color="#3c0964"/><stop offset="0.4494" stop-color="#58106e"/><stop offset="0.4732" stop-color="#59116e"/><stop offset="0.5149" stop-color="#390a61"/><stop offset="0.5863" stop-color="#340a5e"/><stop offset="0.628" stop-color="#510e6c"/><stop offset="0.6399" stop-color="#64156e"/><stop offset="0.6518" stop-color="#781c6d"/><stop offset="0.6637" stop-color="#7b1d6d"/><stop offset="0.6756" stop-color="#6e186e"/><stop offset="0.6935" stop-color="#490c6a"/><stop offset="0.7113" stop-color="#260b51"/><stop offset="0.7232" stop-color="#190c3e"/><stop offset="0.7351" stop-color="#160b39"/><stop offset="0.747" stop-color="#1b0c41"/><stop offset="0.7589" stop-color="#2b0b56"/><stop offset="0.7708" stop-color="#4a0c6a"/><stop offset="0.7827" stop-color="#761b6d"/><stop offset="0.7887" stop-color="#902567"/><stop offset="0.7946" stop-color="#ae315b"/><stop offset="0.8006" stop-color="#ca4249"/><stop offset="0.8065" stop-color="#e25a32"/><stop offset="0.8125" stop-color="#f2761b"/><stop offset="0.8185" stop-color="#fa940c"/><stop offset="0.8244" stop-color="#fbaf15"/><stop offset="0.8304" stop-color="#fac32a"/><stop offset="0.8363" stop-color="#f8cd37"/><stop offset="0.8423" stop-color="#f8cc36"/><stop offset="0.8482" stop-color="#fac026"/><stop offset="0.8542" stop-color="#fcaa10"/><stop offset="0.8601" stop-color="#f98d0c"/><stop offset="0.8661" stop-color="#ee6d22"/><stop offset="0.872" stop-color="#d94e3c"/><stop offset="0.878" stop-color="#bc3853"/><stop offset="0.8839" stop-color="#9b2964"/><stop offset="0.8899" stop-color="#7b1d6c"/><stop offset="0.8958" stop-color="#5f136e"/><stop offset="0.9018" stop-color="#460b69"/><stop offset="0.9077" stop-color="#310a5b"/><stop offset="0.9196" stop-color="#140b36"/><stop offset="0.9315" stop-color="#09061f"/><stop offset="0.9554" stop-color="#030210"/><stop offset="0.997" stop-color="#02010a"/></linearGradient>
<linearGradient id="c124"><stop offset="0.003" stop-color="#040312"/><stop offset="0.0982" stop-color="#110a30"/><stop offset="0.1518" stop-color="#0f092c"/><stop offset="0.247" stop-color="#040313"/><stop offset="0.2887" stop-color="#040312"/><stop offset="0.3065" stop-color="#08051d"/><stop offset="0.3125" stop-color="#0b0724"/><stop offset="0.3244" stop-color="#1c0b42"/><stop offset="0.3363" stop-color="#3e0b64"/><stop offset="0.3482" stop-color="#69166e"/><stop offset="0.3661" stop-color="#a12b62"/><stop offset="0.372" stop-color="#a92e5e"/><stop offset="0.3839" stop-color="#a72d5f"/><stop offset="0.3958" stop-color="#8e2468"/><stop offset="0.4137" stop-color="#5a116d"/><stop offset="0.4256" stop-color="#410a66"/><stop offset="0.4375" stop-color="#3d0a65"/><stop offset="0.4732" stop-color="#59116e"/><stop offset="0.497" stop-color="#5d126e"/><stop offset="0.5863" stop-color="#510e6c"/><stop offset="0.6161" stop-color="#56106d"/><stop offset="0.628" stop-color="#65156e"/><stop offset="0.6399" stop-color="#791c6d"/><stop offset="0.6518" stop-color="#7e1e6c"/><stop offset="0.6637" stop-color="#71196e"/><stop offset="0.6815" stop-color="#480b6a"/><stop offset="0.6994" stop-color="#240c4e"/><stop offset="0.7173" stop-color="#170b3b"/><stop offset="0.7292" stop-color="#180c3d"/><stop offset="0.747" stop-color="#300a5a"/><stop offset="0.7589" stop-color="#4f0d6b"/><stop offset="0.7708" stop-color="#791c6c"/><stop offset="0.7827" stop-color="#af325a"/><stop offset="0.7887" stop-color="#cb4248"/><stop offset="0.7946" stop-color="#e25a32"/><stop offset="0.8006" stop-color="#f2771a"/><stop offset="0.8065" stop-color="#fa950d"/><stop offset="0.8125" stop-color="#fbb218"/><stop offset="0.8185" stop-color="#f9c730"/><stop offset="0.8244" stop-color="#f7d340"/><stop offset="0.8304" stop-color="#f6d543"/><stop offset="0.8363" stop-color="#f8cb35"/><stop offset="0.8423" stop-color="#fbb81d"/><stop offset="0.8482" stop-color="#fb9c0b"/><stop offset="0.8542" stop-color="#f47b17"/><stop offset="0.8601" stop-color="#e45b31"/><stop offset="0.8661" stop-color="#ca4149"/><stop offset="0.872" stop-color="#aa2f5d"/><stop offset="0.878" stop-color="#8a2269"/><stop offset="0.8839" stop-color="#6c186e"/><stop offset="0.8899" stop-color="#510e6c"/><stop offset="0.8958" stop-color="#3b0a63"/><stop offset="0.9077" stop-color="#1a0c3f"/><stop offset="0.9196" stop-color="#0b0725"/><stop offset="0.9375" stop-color="#040313"/><stop offset="0.9851" stop-color="#02010a"/><stop offset="0.997" stop-color="#010108"/></linearGradient>
<linearGradient id="c126"><stop offset="0.003" stop-color="#03020f"/><stop offset="0.0744" stop-color="#0e092a"/><stop offset="0.128" stop-color="#180c3c"/><stop offset="0.1935" stop-color="#120a32"/><stop offset="0.2589" stop-color="#060419"/><stop offset="0.3065" stop-color="#050417"/><stop offset="0.3244" stop-color="#0b0724"/><stop offset="0.3363" stop-color="#190b3e"/><stop offset="0.3482" stop-color="#370a5f"/><stop offset="0.3542" stop-color="#4b0d6a"/><stop offset="0.3661" stop-color="#761b6d"/><stop offset="0.378" stop-color="#9c2964"/><stop offset="0.3839" stop-color="#a92e5f"/><stop offset="0.3899" stop-color="#af315c"/><stop offset="0.4018" stop-color="#a92e5f"/><stop offset="0.4196" stop-color="#82206b"/><stop offset="0.4435" stop-color="#4e0d6b"/><stop offset="0.4494" stop-color="#440b68"/><stop offset="0.4673" stop-color="#400a67"/><stop offset="0.497" stop-color="#57106d"/><stop offset="0.5327" stop-color="#5b116e"/><stop offset="0.5923" stop-color="#5a116e"/><stop offset="0.6101" stop-color="#69166e"/><stop offset="0.6339" stop-color="#801f6c"/><stop offset="0.6458" stop-color="#7c1e6d"/><stop offset="0.6637" stop-color="#5a116e"/><stop offset="0.6756" stop-color="#3c0a64"/><stop offset="0.6875" stop-color="#240c4d"/><stop offset="0.6994" stop-color="#190c3e"/><stop offset="0.7113" stop-color="#180c3c"/><stop offset="0.7292" stop-color="#290b53"/><stop offset="0.7411" stop-color="#440b68"/><stop offset="0.753" stop-color="#69166e"/><stop offset="0.7649" stop-color="#992864"/><stop offset="0.7768" stop-color="#cf4645"/><stop offset="0.7827" stop-color="#e45d2f"/><stop offset="0.7887" stop-color="#f37a18"/><stop offset="0.7946" stop-color="#fa990d"/><stop offset="0.8006" stop-color="#fbb41a"/><stop offset="0.8065" stop-color="#f8ca34"/><stop offset="0.8125" stop-color="#f6d848"/><stop offset="0.8185" stop-color="#f5db4c"/><stop offset="0.8244" stop-color="#f7d441"/><stop offset="0.8304" stop-color="#fac32a"/><stop offset="0.8363" stop-color="#fba911"/><stop offset="0.8423" stop-color="#f8890e"/><stop offset="0.8482" stop-color="#eb6727"/><stop offset="0.8542" stop-color="#d54a40"/><stop offset="0.8601" stop-color="#b73556"/><stop offset="0.8661" stop-color="#972766"/><stop offset="0.872" stop-color="#781c6d"/><stop offset="0.8839" stop-color="#450b68"/><stop offset="0.8899" stop-color="#310a5b"/><stop offset="0.9018" stop-color="#140b36"/><stop offset="0.9196" stop-color="#06051a"/><stop offset="0.9554" stop-color="#02020c"/><stop offset="0.997" stop-color="#010108"/></linearGradient>
<linearGradient id="c128"><stop offset="0.003" stop-color="#02010b"/><stop offset="0.0685" stop-color="#0a0723"/><stop offset="0.128" stop-color="#1b0c42"/><stop offset="0.1756" stop-color="#200c49"/><stop offset="0.2173" stop-color="#180c3c"/><stop offset="0.2887" stop-color="#07051b"/><stop offset="0.3244" stop-color="#07051b"/><stop offset="0.3363" stop-color="#0a0723"/><stop offset="0.3482" stop-color="#160b38"/><stop offset="0.3601" stop-color="#2f0b59"/><stop offset="0.3661" stop-color="#420b66"/><stop offset="0.378" stop-color="#6c186e"/><stop offset="0.3899" stop-color="#942666"/><stop offset="0.4018" stop-color="#ad305c"/><stop offset="0.4137" stop-color="#b33359"/><stop offset="0.4315" stop-color="#a02b62"/><stop offset="0.4613" stop-color="#66156e"/><stop offset="0.4851" stop-color="#4a0c6a"/><stop offset="0.5327" stop-color="#490c6a"/><stop offset="0.5625" stop-color="#540f6d"/><stop offset="0.5804" stop-color="#64156e"/><stop offset="0.6042" stop-color="#811f6c"/><stop offset="0.622" stop-color="#87216b"/><stop offset="0.6399" stop-color="#751b6e"/><stop offset="0.6577" stop-color="#4f0d6c"/><stop offset="0.6696" stop-color="#320a5d"/><stop offset="0.6815" stop-color="#1f0c47"/><stop offset="0.6935" stop-color="#190c3e"/><stop offset="0.7054" stop-color="#1e0c45"/><stop offset="0.7173" stop-color="#2f0a5a"/><stop offset="0.7292" stop-color="#4a0c6a"/><stop offset="0.7411" stop-color="#71196d"/><stop offset="0.753" stop-color="#a22b61"/><stop offset="0.7649" stop-color="#d54b40"/><stop offset="0.7708" stop-color="#e8632a"/><stop offset="0.7768" stop-color="#f58114"/><stop offset="0.7827" stop-color="#fb9f0f"/><stop offset="0.7887" stop-color="#fbba20"/><stop offset="0.7946" stop-color="#f8cf3b"/><stop offset="0.8006" stop-color="#f4dd50"/><stop offset="0.8065" stop-color="#f4e054"/><stop offset="0.8125" stop-color="#f5db4c"/><stop offset="0.8185" stop-color="#f9ca34"/><stop offset="0.8244" stop-color="#fbb319"/><stop offset="0.8304" stop-color="#fa940c"/><stop offset="0.8363" stop-color="#f0721e"/><stop offset="0.8423" stop-color="#dd5438"/><stop offset="0.8482" stop-color="#c23c4f"/><stop offset="0.8542" stop-color="#a22c61"/><stop offset="0.8601" stop-color="#83206b"/><stop offset="0.8661" stop-color="#67166e"/><stop offset="0.872" stop-color="#4d0d6b"/><stop offset="0.878" stop-color="#380a62"/><stop offset="0.8899" stop-color="#190c3e"/><stop offset="0.9018" stop-color="#0b0725"/><stop offset="0.9196" stop-color="#040313"/><stop offset="0.9911" stop-color="#010108"/><stop offset="0.997" stop-color="#010108"/></linearGradient>
<linearGradient id="c130"><stop offset="0.003" stop-color="#010108"/><stop offset="0.0685" stop-color="#07051c"/><stop offset="0.1577" stop-color="#260c51"/><stop offset="0.1935" stop-color="#2d0b59"/><stop offset="0.2411" stop-color="#200c49"/><stop offset="0.3006" stop-color="#0b0725"/><stop offset="0.3363" stop-color="#08061e"/><stop offset="0.3542" stop-color="#0e092a"/><stop offset="0.3661" stop-color="#1b0c41"/><stop offset="0.378" stop-color="#370a60"/><stop offset="0.3899" stop-color="#5d126d"/><stop offset="0.4077" stop-color="#942666"/><stop offset="0.4196" stop-color="#ad305c"/><stop offset="0.4375" stop-color="#b93656"/><stop offset="0.4554" stop-color="#ac305d"/><stop offset="0.503" stop-color="#6d186d"/><stop offset="0.5208" stop-color="#65156e"/><stop offset="0.5446" stop-color="#6d186e"/><stop offset="0.5923" stop-color="#932567"/><stop offset="0.6101" stop-color="#8d2369"/><stop offset="0.628" stop-color="#731a6e"/><stop offset="0.6458" stop-color="#4e0d6b"/><stop offset="0.6637" stop-color="#2a0b56"/><stop offset="0.6756" stop-color="#1f0c47"/><stop offset="0.6875" stop-color="#1f0c47"/><stop offset="0.6994" stop-color="#2a0b55"/><stop offset="0.7113" stop-color="#410a66"/><stop offset="0.7232" stop-color="#63146e"/><stop offset="0.7351" stop-color="#912567"/><stop offset="0.747" stop-color="#c43e4d"/><stop offset="0.7589" stop-color="#ed6c23"/><stop offset="0.7649" stop-color="#f78910"/><stop offset="0.7708" stop-color="#fba711"/><stop offset="0.7768" stop-color="#fac229"/><stop offset="0.7827" stop-color="#f6d645"/><stop offset="0.7887" stop-color="#f3e35a"/><stop offset="0.7946" stop-color="#f2e55f"/><stop offset="0.8006" stop-color="#f4e156"/><stop offset="0.8065" stop-color="#f7d13d"/><stop offset="0.8125" stop-color="#fbb91f"/><stop offset="0.8185" stop-color="#fb9b0c"/><stop offset="0.8244" stop-color="#f37a18"/><stop offset="0.8304" stop-color="#e35a32"/><stop offset="0.8363" stop-color="#ca4149"/><stop offset="0.8423" stop-color="#ab2f5d"/><stop offset="0.8482" stop-color="#8c2369"/><stop offset="0.8542" stop-color="#6f196e"/><stop offset="0.8661" stop-color="#400a66"/><stop offset="0.878" stop-color="#1e0c45"/><stop offset="0.8899" stop-color="#0d0829"/><stop offset="0.9077" stop-color="#050416"/><stop offset="0.9732" stop-color="#010109"/><stop offset="0.997" stop-color="#010108"/></linearGradient>
<linearGradient id="c132"><stop offset="0.003" stop-color="#010106"/><stop offset="0.0625" stop-color="#040312"/><stop offset="0.1101" stop-color="#10092d"/><stop offset="0.1637" stop-color="#2b0b57"/><stop offset="0.2054" stop-color="#390963"/><stop offset="0.2411" stop-color="#360a60"/><stop offset="0.3065" stop-color="#140b36"/><stop offset="0.3423" stop-color="#0a0723"/><stop offset="0.3661" stop-color="#0d0829"/><stop offset="0.378" stop-color="#160b39"/><stop offset="0.3899" stop-color="#2b0b55"/><stop offset="0.4018" stop-color="#490d69"/><stop offset="0.4196" stop-color="#7a1d6c"/><stop offset="0.4375" stop-color="#a52d60"/><stop offset="0.4554" stop-color="#bc3754"/><stop offset="0.4732" stop-color="#c03a51"/><stop offset="0.5149" stop-color="#a52d5f"/><stop offset="0.5446" stop-color="#a32c61"/><stop offset="0.5804" stop-color="#9f2a63"/><stop offset="0.5982" stop-color="#8d2369"/><stop offset="0.622" stop-color="#5f136e"/><stop offset="0.6399" stop-color="#3b0a63"/><stop offset="0.6577" stop-color="#230c4e"/><stop offset="0.6696" stop-color="#200c49"/><stop offset="0.6815" stop-color="#280b53"/><stop offset="0.6935" stop-color="#3b0a63"/><stop offset="0.7054" stop-color="#59116d"/><stop offset="0.7173" stop-color="#82206b"/><stop offset="0.7292" stop-color="#b53457"/><stop offset="0.7411" stop-color="#e25a32"/><stop offset="0.747" stop-color="#f1761b"/><stop offset="0.753" stop-color="#f9940f"/><stop offset="0.7589" stop-color="#fbb118"/><stop offset="0.7649" stop-color="#f8cb36"/><stop offset="0.7708" stop-color="#f5dd50"/><stop offset="0.7768" stop-color="#f2e865"/><stop offset="0.7827" stop-color="#f2eb6b"/><stop offset="0.7887" stop-color="#f3e55f"/><stop offset="0.7946" stop-color="#f6d645"/><stop offset="0.8006" stop-color="#fabf25"/><stop offset="0.8065" stop-color="#fba10e"/><stop offset="0.8125" stop-color="#f57f14"/><stop offset="0.8185" stop-color="#e65f2d"/><stop offset="0.8244" stop-color="#ce4546"/><stop offset="0.8304" stop-color="#b23359"/><stop offset="0.8363" stop-color="#922567"/><stop offset="0.8482" stop-color="#5c126d"/><stop offset="0.8542" stop-color="#460b69"/><stop offset="0.8661" stop-color="#220c4b"/><stop offset="0.878" stop-color="#10092d"/><stop offset="0.8899" stop-color="#08051d"/><stop offset="0.9077" stop-color="#030311"/><stop offset="0.997" stop-color="#010107"/></linearGradient>
<linearGradient id="c134"><stop offset="0.003" stop-color="#010005"/><stop offset="0.0685" stop-color="#02020e"/><stop offset="0.122" stop-color="#0e092a"/><stop offset="0.1756" stop-color="#300a5b"/><stop offset="0.2173" stop-color="#480b6a"/><stop offset="0.247" stop-color="#490c6a"/><stop offset="0.2946" stop-color="#300a5b"/><stop offset="0.3423" stop-color="#120a31"/><stop offset="0.3661" stop-color="#0c0826"/><stop offset="0.3839" stop-color="#0e092b"/><stop offset="0.3958" stop-color="#160b38"/><stop offset="0.4137" stop-color="#310b5a"/><stop offset="0.4315" stop-color="#59116c"/><stop offset="0.4554" stop-color="#8e2468"/><stop offset="0.4792" stop-color="#b2325a"/><stop offset="0.503" stop-color="#c13a51"/><stop offset="0.5208" stop-color="#c23b50"/><stop offset="0.5625" stop-color="#a12b62"/><stop offset="0.5863" stop-color="#7f1e6c"/><stop offset="0.6101" stop-color="#510e6c"/><stop offset="0.6339" stop-color="#2a0b56"/><stop offset="0.6518" stop-color="#220c4b"/><stop offset="0.6696" stop-color="#2f0a5a"/><stop offset="0.6875" stop-color="#520e6c"/><stop offset="0.6994" stop-color="#761b6d"/><stop offset="0.7113" stop-color="#a52d60"/><stop offset="0.7232" stop-color="#d64c3f"/><stop offset="0.7351" stop-color="#f58213"/><stop offset="0.7411" stop-color="#fa9f10"/><stop offset="0.747" stop-color="#fabc23"/><stop offset="0.753" stop-color="#f6d443"/><stop offset="0.7589" stop-color="#f3e560"/><stop offset="0.7649" stop-color="#f2ee73"/><stop offset="0.7708" stop-color="#f1f077"/><stop offset="0.7768" stop-color="#f2e967"/><stop offset="0.7827" stop-color="#f5da4b"/><stop offset="0.7887" stop-color="#fac32a"/><stop offset="0.7946" stop-color="#fba50f"/><stop offset="0.8006" stop-color="#f68411"/><stop offset="0.8065" stop-color="#e9642a"/><stop offset="0.8125" stop-color="#d24842"/><stop offset="0.8185" stop-color="#b53557"/><stop offset="0.8244" stop-color="#972765"/><stop offset="0.8363" stop-color="#5f136e"/><stop offset="0.8423" stop-color="#490c6a"/><stop offset="0.8542" stop-color="#250b4f"/><stop offset="0.8661" stop-color="#110a30"/><stop offset="0.8839" stop-color="#060419"/><stop offset="0.9256" stop-color="#02020c"/><stop offset="0.997" stop-color="#010106"/></linearGradient>
<linearGradient id="c136"><stop offset="0.003" stop-color="#010005"/><stop offset="0.0744" stop-color="#02010b"/><stop offset="0.122" stop-color="#08061e"/><stop offset="0.1518" stop-color="#160b38"/><stop offset="0.1875" stop-color="#320a5e"/><stop offset="0.2232" stop-color="#510e6d"/><stop offset="0.253" stop-color="#5b116e"/><stop offset="0.2887" stop-color="#510e6c"/><stop offset="0.3185" stop-color="#380a62"/><stop offset="0.3601" stop-color="#150b37"/><stop offset="0.3899" stop-color="#0d0827"/><stop offset="0.4077" stop-color="#10092d"/><stop offset="0.4256" stop-color="#1c0b42"/><stop offset="0.4435" stop-color="#360b5e"/><stop offset="0.4613" stop-color="#54106b"/><stop offset="0.4911" stop-color="#84206a"/><stop offset="0.5089" stop-color="#9a2864"/><stop offset="0.5208" stop-color="#9e2a62"/><stop offset="0.5446" stop-color="#892269"/><stop offset="0.5804" stop-color="#59116d"/><stop offset="0.6042" stop-color="#340a5e"/><stop offset="0.628" stop-color="#210c4a"/><stop offset="0.6458" stop-color="#260c51"/><stop offset="0.6637" stop-color="#400a66"/><stop offset="0.6815" stop-color="#6f196e"/><stop offset="0.6935" stop-color="#992864"/><stop offset="0.7054" stop-color="#c9414a"/><stop offset="0.7113" stop-color="#de5437"/><stop offset="0.7173" stop-color="#ee6f21"/><stop offset="0.7232" stop-color="#f88c10"/><stop offset="0.7292" stop-color="#fbaa14"/><stop offset="0.7351" stop-color="#f9c62f"/><stop offset="0.7411" stop-color="#f5dd51"/><stop offset="0.747" stop-color="#f2ed71"/><stop offset="0.753" stop-color="#f2f381"/><stop offset="0.7589" stop-color="#f2f484"/><stop offset="0.7649" stop-color="#f2ee73"/><stop offset="0.7708" stop-color="#f4df54"/><stop offset="0.7768" stop-color="#f9c72f"/><stop offset="0.7827" stop-color="#fba811"/><stop offset="0.7887" stop-color="#f78710"/><stop offset="0.7946" stop-color="#ea6727"/><stop offset="0.8006" stop-color="#d54b40"/><stop offset="0.8065" stop-color="#b93755"/><stop offset="0.8125" stop-color="#9a2964"/><stop offset="0.8185" stop-color="#7d1e6c"/><stop offset="0.8304" stop-color="#4d0d6b"/><stop offset="0.8363" stop-color="#390a62"/><stop offset="0.8482" stop-color="#1b0c41"/><stop offset="0.8601" stop-color="#0d0827"/><stop offset="0.8839" stop-color="#040313"/><stop offset="0.9435" stop-color="#02010a"/><stop offset="0.997" stop-color="#010106"/></linearGradient>
<linearGradient id="c138"><stop offset="0.003" stop-color="#000004"/><stop offset="0.0982" stop-color="#02020c"/><stop offset="0.1399" stop-color="#09061f"/><stop offset="0.1756" stop-color="#1c0c43"/><stop offset="0.2054" stop-color="#3c0964"/><stop offset="0.2411" stop-color="#60136e"/><stop offset="0.2768" stop-color="#70196e"/><stop offset="0.3006" stop-color="#69166e"/><stop offset="0.3363" stop-color="#450b68"/><stop offset="0.3601" stop-color="#280b52"/><stop offset="0.3839" stop-color="#140b35"/><stop offset="0.4137" stop-color="#0c0826"/><stop offset="0.4375" stop-color="#10092f"/><stop offset="0.4673" stop-color="#250b4e"/><stop offset="0.4911" stop-color="#400c64"/><stop offset="0.5149" stop-color="#56106c"/><stop offset="0.5268" stop-color="#57106c"/><stop offset="0.5625" stop-color="#3b0b62"/><stop offset="0.5982" stop-color="#210c4a"/><stop offset="0.6161" stop-color="#1f0c48"/><stop offset="0.6339" stop-color="#2b0b57"/><stop offset="0.6518" stop-color="#4b0c6a"/><stop offset="0.6696" stop-color="#7c1e6c"/><stop offset="0.6815" stop-color="#a82e5e"/><stop offset="0.6935" stop-color="#d54b40"/><stop offset="0.7054" stop-color="#f37c17"/><stop offset="0.7113" stop-color="#fa990e"/><stop offset="0.7173" stop-color="#fbb61d"/><stop offset="0.7232" stop-color="#f7d03d"/><stop offset="0.7292" stop-color="#f3e45f"/><stop offset="0.7351" stop-color="#f2f17b"/><stop offset="0.7411" stop-color="#f4f78c"/><stop offset="0.747" stop-color="#f3f68a"/><stop offset="0.753" stop-color="#f2f079"/><stop offset="0.7589" stop-color="#f4e157"/><stop offset="0.7649" stop-color="#f8c933"/><stop offset="0.7708" stop-color="#fbaa12"/><stop offset="0.7768" stop-color="#f78810"/><stop offset="0.7827" stop-color="#eb6826"/><stop offset="0.7887" stop-color="#d64c3f"/><stop offset="0.8006" stop-color="#9d2a63"/><stop offset="0.8125" stop-color="#67166e"/><stop offset="0.8244" stop-color="#3c0a63"/><stop offset="0.8363" stop-color="#1d0c44"/><stop offset="0.8482" stop-color="#0e092a"/><stop offset="0.8661" stop-color="#050418"/><stop offset="0.9077" stop-color="#02020c"/><stop offset="0.997" stop-color="#010106"/></linearGradient>
<linearGradient id="c140"><stop offset="0.003" stop-color="#000004"/><stop offset="0.1161" stop-color="#02010b"/><stop offset="0.1577" stop-color="#090621"/><stop offset="0.1875" stop-color="#190c3e"/><stop offset="0.2113" stop-color="#360a60"/><stop offset="0.2351" stop-color="#550f6d"/><stop offset="0.2768" stop-color="#801f6c"/><stop offset="0.3006" stop-color="#85216b"/><stop offset="0.3244" stop-color="#761b6d"/><stop offset="0.3542" stop-color="#4f0d6c"/><stop offset="0.372" stop-color="#350a5f"/><stop offset="0.3958" stop-color="#1a0c3f"/><stop offset="0.4256" stop-color="#0d0827"/><stop offset="0.4554" stop-color="#0c0826"/><stop offset="0.4851" stop-color="#130a33"/><stop offset="0.5149" stop-color="#210b48"/><stop offset="0.5387" stop-color="#200c49"/><stop offset="0.5744" stop-color="#180c3d"/><stop offset="0.5923" stop-color="#1a0c3f"/><stop offset="0.6161" stop-color="#2b0b57"/><stop offset="0.6339" stop-color="#490c6a"/><stop offset="0.6518" stop-color="#781c6d"/><stop offset="0.6637" stop-color="#a12b61"/><stop offset="0.6756" stop-color="#cd4447"/><stop offset="0.6875" stop-color="#ef6f20"/><stop offset="0.6935" stop-color="#f88b0f"/><stop offset="0.6994" stop-color="#fba813"/><stop offset="0.7054" stop-color="#f9c32b"/><stop offset="0.7113" stop-color="#f5da4c"/><stop offset="0.7173" stop-color="#f3eb6e"/><stop offset="0.7232" stop-color="#f3f585"/><stop offset="0.7292" stop-color="#f5f992"/><stop offset="0.7351" stop-color="#f4f78c"/><stop offset="0.7411" stop-color="#f2ef77"/><stop offset="0.747" stop-color="#f4e056"/><stop offset="0.753" stop-color="#f9c832"/><stop offset="0.7589" stop-color="#fbaa14"/><stop offset="0.7649" stop-color="#f78910"/><stop offset="0.7708" stop-color="#eb6826"/><stop offset="0.7768" stop-color="#d74d3e"/><stop offset="0.7827" stop-color="#bd3953"/><stop offset="0.7887" stop-color="#9f2a62"/><stop offset="0.8006" stop-color="#69176e"/><stop offset="0.8125" stop-color="#3e0a65"/><stop offset="0.8244" stop-color="#1f0c46"/><stop offset="0.8423" stop-color="#0a0723"/><stop offset="0.8661" stop-color="#040313"/><stop offset="0.9256" stop-color="#02010a"/><stop offset="0.997" stop-color="#010106"/></linearGradient>
<linearGradient id="c142"><stop offset="0.003" stop-color="#000004"/><stop offset="0.122" stop-color="#010109"/><stop offset="0.1637" stop-color="#060419"/><stop offset="0.1875" stop-color="#10092d"/><stop offset="0.2113" stop-color="#250c50"/><stop offset="0.2292" stop-color="#3e0a65"/><stop offset="0.2589" stop-color="#6b176e"/><stop offset="0.2827" stop-color="#8c2369"/><stop offset="0.3065" stop-color="#9b2964"/><stop offset="0.3304" stop-color="#942667"/><stop offset="0.3542" stop-color="#741b6d"/><stop offset="0.378" stop-color="#4d0d6b"/><stop offset="0.4018" stop-color="#290b53"/><stop offset="0.4256" stop-color="#140b35"/><stop offset="0.4494" stop-color="#0b0724"/><stop offset="0.4851" stop-color="#0a0722"/><stop offset="0.5685" stop-color="#150b37"/><stop offset="0.5923" stop-color="#240c4d"/><stop offset="0.6161" stop-color="#4a0c6a"/><stop offset="0.6339" stop-color="#761b6d"/><stop offset="0.6458" stop-color="#9d2a63"/><stop offset="0.6577" stop-color="#c8404b"/><stop offset="0.6696" stop-color="#ea6727"/><stop offset="0.6756" stop-color="#f58213"/><stop offset="0.6815" stop-color="#fa9c0f"/><stop offset="0.6875" stop-color="#fab81f"/><stop offset="0.6994" stop-color="#f3e45f"/><stop offset="0.7054" stop-color="#f3f27d"/><stop offset="0.7113" stop-color="#f6f992"/><stop offset="0.7173" stop-color="#f6fa96"/><stop offset="0.7232" stop-color="#f5f88e"/><stop offset="0.7292" stop-color="#f2ee73"/><stop offset="0.7351" stop-color="#f5dd51"/><stop offset="0.7411" stop-color="#f9c52d"/><stop offset="0.747" stop-color="#fba711"/><stop offset="0.753" stop-color="#f78611"/><stop offset="0.7589" stop-color="#ea6727"/><stop offset="0.7649" stop-color="#d64c3e"/><stop offset="0.7768" stop-color="#a02b62"/><stop offset="0.7887" stop-color="#6b176e"/><stop offset="0.8006" stop-color="#400a66"/><stop offset="0.8125" stop-color="#200c49"/><stop offset="0.8244" stop-color="#10092d"/><stop offset="0.8423" stop-color="#06051a"/><stop offset="0.878" stop-color="#02020e"/><stop offset="0.997" stop-color="#010106"/></linearGradient>
<linearGradient id="c144"><stop offset="0.003" stop-color="#000004"/><stop offset="0.1399" stop-color="#010109"/><stop offset="0.1815" stop-color="#060419"/><stop offset="0.2113" stop-color="#160b38"/><stop offset="0.2351" stop-color="#320a5d"/><stop offset="0.253" stop-color="#510e6c"/><stop offset="0.2827" stop-color="#85216b"/><stop offset="0.3065" stop-color="#a62d60"/><stop offset="0.3244" stop-color="#b1325a"/><stop offset="0.3423" stop-color="#ab2f5d"/><stop offset="0.3601" stop-color="#942666"/><stop offset="0.3899" stop-color="#5d126e"/><stop offset="0.4077" stop-color="#3e0a65"/><stop offset="0.4315" stop-color="#1c0c42"/><stop offset="0.4554" stop-color="#0e092a"/><stop offset="0.4851" stop-color="#090621"/><stop offset="0.5268" stop-color="#0e092a"/><stop offset="0.5625" stop-color="#1c0c42"/><stop offset="0.5863" stop-color="#350a5f"/><stop offset="0.6042" stop-color="#58106d"/><stop offset="0.622" stop-color="#88226a"/><stop offset="0.6339" stop-color="#b1325a"/><stop offset="0.6458" stop-color="#d84e3d"/><stop offset="0.6577" stop-color="#f37b18"/><stop offset="0.6637" stop-color="#f9950f"/><stop offset="0.6696" stop-color="#fbaf17"/><stop offset="0.6756" stop-color="#f8c833"/><stop offset="0.6815" stop-color="#f4de55"/><stop offset="0.6935" stop-color="#f5f78e"/><stop offset="0.6994" stop-color="#f8fb9a"/><stop offset="0.7054" stop-color="#f8fb9a"/><stop offset="0.7113" stop-color="#f4f68a"/><stop offset="0.7173" stop-color="#f3eb6e"/><stop offset="0.7232" stop-color="#f6d849"/><stop offset="0.7292" stop-color="#fabe25"/><stop offset="0.7351" stop-color="#fba010"/><stop offset="0.7411" stop-color="#f58114"/><stop offset="0.747" stop-color="#e8632a"/><stop offset="0.753" stop-color="#d44a41"/><stop offset="0.7589" stop-color="#ba3754"/><stop offset="0.7708" stop-color="#83206b"/><stop offset="0.7827" stop-color="#550f6d"/><stop offset="0.7946" stop-color="#300a5a"/><stop offset="0.8065" stop-color="#180b3c"/><stop offset="0.8244" stop-color="#09061f"/><stop offset="0.8542" stop-color="#030210"/><stop offset="0.9732" stop-color="#010106"/><stop offset="0.997" stop-color="#010106"/></linearGradient>
<linearGradient id="c146"><stop offset="0.003" stop-color="#000004"/><stop offset="0.1577" stop-color="#010109"/><stop offset="0.1935" stop-color="#050417"/><stop offset="0.2232" stop-color="#130a33"/><stop offset="0.2411" stop-color="#280b53"/><stop offset="0.2589" stop-color="#450b69"/><stop offset="0.2827" stop-color="#731a6e"/><stop offset="0.3125" stop-color="#ad305d"/><stop offset="0.3304" stop-color="#c13a51"/><stop offset="0.3482" stop-color="#c43c4e"/><stop offset="0.3661" stop-color="#b43358"/><stop offset="0.3899" stop-color="#89226a"/><stop offset="0.4137" stop-color="#550f6d"/><stop offset="0.4315" stop-color="#330a5d"/><stop offset="0.4554" stop-color="#190c3d"/><stop offset="0.4792" stop-color="#0e092a"/><stop offset="0.503" stop-color="#0c0826"/><stop offset="0.5327" stop-color="#180c3c"/><stop offset="0.5625" stop-color="#310a5c"/><stop offset="0.5804" stop-color="#4e0d6b"/><stop offset="0.5982" stop-color="#781c6d"/><stop offset="0.6101" stop-color="#9c2963"/><stop offset="0.622" stop-color="#c43e4d"/><stop offset="0.6339" stop-color="#e7612c"/><stop offset="0.6399" stop-color="#f27819"/><stop offset="0.6458" stop-color="#f9910f"/><stop offset="0.6518" stop-color="#fbab15"/><stop offset="0.6577" stop-color="#f9c42d"/><stop offset="0.6696" stop-color="#f3eb6e"/><stop offset="0.6756" stop-color="#f5f689"/><stop offset="0.6815" stop-color="#f8fb99"/><stop offset="0.6875" stop-color="#fafd9f"/><stop offset="0.6935" stop-color="#f8fb99"/><stop offset="0.6994" stop-color="#f3f483"/><stop offset="0.7054" stop-color="#f3e663"/><stop offset="0.7173" stop-color="#fbb71e"/><stop offset="0.7232" stop-color="#fa990e"/><stop offset="0.7292" stop-color="#f37a18"/><stop offset="0.7351" stop-color="#e45d2f"/><stop offset="0.7411" stop-color="#d04645"/><stop offset="0.753" stop-color="#9a2964"/><stop offset="0.7649" stop-color="#69176e"/><stop offset="0.7768" stop-color="#410a66"/><stop offset="0.7887" stop-color="#220c4b"/><stop offset="0.8065" stop-color="#0d0827"/><stop offset="0.8244" stop-color="#050418"/><stop offset="0.872" stop-color="#02020c"/><stop offset="0.997" stop-color="#010106"/></linearGradient>
<linearGradient id="c148"><stop offset="0.003" stop-color="#000004"/><stop offset="0.1696" stop-color="#010109"/><stop offset="0.2113" stop-color="#050418"/><stop offset="0.2292" stop-color="#0d0829"/><stop offset="0.253" stop-color="#240c4d"/><stop offset="0.2708" stop-color="#420a67"/><stop offset="0.2887" stop-color="#66166e"/><stop offset="0.3125" stop-color="#9e2a63"/><stop offset="0.3304" stop-color="#c13a50"/><stop offset="0.3482" stop-color="#d44842"/><stop offset="0.3661" stop-color="#d44942"/><stop offset="0.3839" stop-color="#c33c4f"/><stop offset="0.4018" stop-color="#9e2a63"/><stop offset="0.4196" stop-color="#711a6d"/><stop offset="0.4375" stop-color="#4c0d6a"/><stop offset="0.4613" stop-color="#280b52"/><stop offset="0.4851" stop-color="#160b38"/><stop offset="0.5089" stop-color="#160b39"/><stop offset="0.5387" stop-color="#330a5d"/><stop offset="0.5625" stop-color="#59116d"/><stop offset="0.5863" stop-color="#8e2468"/><stop offset="0.6042" stop-color="#c53e4d"/><stop offset="0.6161" stop-color="#e65f2d"/><stop offset="0.628" stop-color="#f88f0f"/><stop offset="0.6339" stop-color="#fba914"/><stop offset="0.6399" stop-color="#f9c22a"/><stop offset="0.6518" stop-color="#f3e868"/><stop offset="0.6577" stop-color="#f4f587"/><stop offset="0.6637" stop-color="#f8fb99"/><stop offset="0.6696" stop-color="#fbfea3"/><stop offset="0.6756" stop-color="#fbfda1"/><stop offset="0.6815" stop-color="#f6f991"/><stop offset="0.6875" stop-color="#f3f079"/><stop offset="0.6935" stop-color="#f4df56"/><stop offset="0.6994" stop-color="#f9c731"/><stop offset="0.7054" stop-color="#fbac15"/><stop offset="0.7113" stop-color="#f88f0f"/><stop offset="0.7173" stop-color="#ef711f"/><stop offset="0.7292" stop-color="#ca4149"/><stop offset="0.7411" stop-color="#962766"/><stop offset="0.753" stop-color="#66156e"/><stop offset="0.7649" stop-color="#400a66"/><stop offset="0.7768" stop-color="#220c4b"/><stop offset="0.7946" stop-color="#0d0827"/><stop offset="0.8185" stop-color="#050416"/><stop offset="0.8899" stop-color="#02010a"/><stop offset="0.997" stop-color="#010005"/></linearGradient>
<linearGradient id="c150"><stop offset="0.003" stop-color="#000004"/><stop offset="0.1875" stop-color="#010109"/><stop offset="0.2232" stop-color="#050417"/><stop offset="0.247" stop-color="#0e092b"/><stop offset="0.2708" stop-color="#280b53"/><stop offset="0.2887" stop-color="#4a0c6a"/><stop offset="0.3065" stop-color="#741b6e"/><stop offset="0.3244" stop-color="#a32c61"/><stop offset="0.3423" stop-color="#cc4249"/><stop offset="0.3601" stop-color="#e15635"/><stop offset="0.372" stop-color="#e55c30"/><stop offset="0.3899" stop-color="#dd5239"/><stop offset="0.4077" stop-color="#c03a51"/><stop offset="0.4256" stop-color="#932667"/><stop offset="0.4494" stop-color="#5f136e"/><stop offset="0.4732" stop-color="#360a5f"/><stop offset="0.4911" stop-color="#2a0b55"/><stop offset="0.5089" stop-color="#2c0b57"/><stop offset="0.5208" stop-color="#3b0a63"/><stop offset="0.5387" stop-color="#5a116d"/><stop offset="0.5625" stop-color="#8c2368"/><stop offset="0.5804" stop-color="#bd3952"/><stop offset="0.5923" stop-color="#dc5239"/><stop offset="0.6042" stop-color="#f27819"/><stop offset="0.6101" stop-color="#f8900f"/><stop offset="0.6161" stop-color="#fba713"/><stop offset="0.622" stop-color="#fac028"/><stop offset="0.6339" stop-color="#f3e765"/><stop offset="0.6399" stop-color="#f4f485"/><stop offset="0.6458" stop-color="#f8fb99"/><stop offset="0.6518" stop-color="#fbfea3"/><stop offset="0.6577" stop-color="#fcffa4"/><stop offset="0.6637" stop-color="#f9fc9d"/><stop offset="0.6696" stop-color="#f5f689"/><stop offset="0.6756" stop-color="#f3e96a"/><stop offset="0.6815" stop-color="#f6d646"/><stop offset="0.6875" stop-color="#fabd24"/><stop offset="0.6935" stop-color="#fba010"/><stop offset="0.6994" stop-color="#f68312"/><stop offset="0.7054" stop-color="#eb6727"/><stop offset="0.7113" stop-color="#d94f3c"/><stop offset="0.7232" stop-color="#a92f5d"/><stop offset="0.7351" stop-color="#781c6d"/><stop offset="0.747" stop-color="#4f0d6b"/><stop offset="0.7589" stop-color="#2e0b59"/><stop offset="0.7768" stop-color="#120a31"/><stop offset="0.7946" stop-color="#08051d"/><stop offset="0.8304" stop-color="#03020f"/><stop offset="0.9673" stop-color="#010106"/><stop offset="0.997" stop-color="#010005"/></linearGradient>
<linearGradient id="c152"><stop offset="0.003" stop-color="#000004"/><stop offset="0.2054" stop-color="#02010a"/><stop offset="0.2411" stop-color="#050417"/><stop offset="0.2649" stop-color="#10092f"/><stop offset="0.2827" stop-color="#240c4e"/><stop offset="0.3006" stop-color="#480b69"/><stop offset="0.3185" stop-color="#741b6d"/><stop offset="0.3363" stop-color="#a82e5f"/><stop offset="0.3542" stop-color="#d44842"/><stop offset="0.372" stop-color="#ed6826"/><stop offset="0.3839" stop-color="#f1711f"/><stop offset="0.3958" stop-color="#ef6d22"/><stop offset="0.4137" stop-color="#dd5338"/><stop offset="0.4375" stop-color="#af315b"/><stop offset="0.4613" stop-color="#751b6d"/><stop offset="0.4732" stop-color="#5e136e"/><stop offset="0.4911" stop-color="#510e6c"/><stop offset="0.5089" stop-color="#540f6c"/><stop offset="0.5149" stop-color="#59116d"/><stop offset="0.5387" stop-color="#8e2468"/><stop offset="0.5565" stop-color="#bd3952"/><stop offset="0.5744" stop-color="#e55e2f"/><stop offset="0.5863" stop-color="#f58213"/><stop offset="0.5923" stop-color="#fa9810"/><stop offset="0.5982" stop-color="#fbad16"/><stop offset="0.6042" stop-color="#f9c22a"/><stop offset="0.6161" stop-color="#f3e765"/><stop offset="0.622" stop-color="#f4f381"/><stop offset="0.628" stop-color="#f8fa97"/><stop offset="0.6339" stop-color="#fbfea3"/><stop offset="0.6458" stop-color="#fbfda1"/><stop offset="0.6518" stop-color="#f7f993"/><stop offset="0.6577" stop-color="#f3ef77"/><stop offset="0.6696" stop-color="#f8c833"/><stop offset="0.6756" stop-color="#fbae16"/><stop offset="0.6815" stop-color="#f9920f"/><stop offset="0.6875" stop-color="#f1761b"/><stop offset="0.6994" stop-color="#d04744"/><stop offset="0.7113" stop-color="#a12b61"/><stop offset="0.7232" stop-color="#721a6d"/><stop offset="0.7351" stop-color="#4c0d6a"/><stop offset="0.747" stop-color="#2c0b57"/><stop offset="0.7649" stop-color="#110a30"/><stop offset="0.7887" stop-color="#060419"/><stop offset="0.8423" stop-color="#02020c"/><stop offset="0.997" stop-color="#010005"/></linearGradient>
<linearGradient id="c154"><stop offset="0.003" stop-color="#000004"/><stop offset="0.2173" stop-color="#02010a"/><stop offset="0.253" stop-color="#040314"/><stop offset="0.2768" stop-color="#0e092b"/><stop offset="0.2946" stop-color="#210c4a"/><stop offset="0.3065" stop-color="#380a61"/><stop offset="0.3185" stop-color="#540f6d"/><stop offset="0.3363" stop-color="#87216a"/><stop offset="0.3482" stop-color="#ac305d"/><stop offset="0.3661" stop-color="#de5338"/><stop offset="0.378" stop-color="#f06e21"/><stop offset="0.3899" stop-color="#f78311"/><stop offset="0.4018" stop-color="#f8890d"/><stop offset="0.4196" stop-color="#f37919"/><stop offset="0.4375" stop-color="#e05735"/><stop offset="0.4613" stop-color="#ae315b"/><stop offset="0.4732" stop-color="#972765"/><stop offset="0.4911" stop-color="#87216a"/><stop offset="0.5089" stop-color="#8b2369"/><stop offset="0.5208" stop-color="#9a2964"/><stop offset="0.5387" stop-color="#cc4348"/><stop offset="0.5565" stop-color="#ee6f20"/><stop offset="0.5625" stop-color="#f58213"/><stop offset="0.5685" stop-color="#f9950f"/><stop offset="0.5744" stop-color="#fba914"/><stop offset="0.5804" stop-color="#fabb22"/><stop offset="0.5923" stop-color="#f5de53"/><stop offset="0.6042" stop-color="#f4f587"/><stop offset="0.6101" stop-color="#f8fb99"/><stop offset="0.6161" stop-color="#fbfea3"/><stop offset="0.628" stop-color="#fbfda1"/><stop offset="0.6339" stop-color="#f8fa97"/><stop offset="0.6399" stop-color="#f4f27f"/><stop offset="0.6518" stop-color="#f7d13f"/><stop offset="0.6577" stop-color="#fab81f"/><stop offset="0.6637" stop-color="#fa9e0f"/><stop offset="0.6696" stop-color="#f68213"/><stop offset="0.6815" stop-color="#db513a"/><stop offset="0.6935" stop-color="#af315b"/><stop offset="0.7054" stop-color="#801f6b"/><stop offset="0.7173" stop-color="#58106d"/><stop offset="0.7292" stop-color="#370a60"/><stop offset="0.747" stop-color="#160b39"/><stop offset="0.7649" stop-color="#090621"/><stop offset="0.7946" stop-color="#040312"/><stop offset="0.9018" stop-color="#010108"/><stop offset="0.997" stop-color="#010005"/></linearGradient>
<linearGradient id="c156"><stop offset="0.003" stop-color="#000004"/><stop offset="0.2292" stop-color="#02010a"/><stop offset="0.2708" stop-color="#050417"/><stop offset="0.2887" stop-color="#0d0829"/><stop offset="0.3065" stop-color="#1f0c48"/><stop offset="0.3185" stop-color="#360a60"/><stop offset="0.3304" stop-color="#520e6c"/><stop offset="0.3482" stop-color="#8a226a"/><stop offset="0.3601" stop-color="#b53458"/><stop offset="0.378" stop-color="#e75f2e"/><stop offset="0.3958" stop-color="#f98e09"/><stop offset="0.4077" stop-color="#fca108"/><stop offset="0.4196" stop-color="#fca40b"/><stop offset="0.4315" stop-color="#fb990a"/><stop offset="0.4435" stop-color="#f68113"/><stop offset="0.4673" stop-color="#dc5239"/><stop offset="0.4911" stop-color="#c9414a"/><stop offset="0.5089" stop-color="#cd4446"/><stop offset="0.5208" stop-color="#d9503b"/><stop offset="0.5327" stop-color="#ed6c23"/><stop offset="0.5387" stop-color="#f58014"/><stop offset="0.5446" stop-color="#f9950f"/><stop offset="0.5506" stop-color="#fba914"/><stop offset="0.5565" stop-color="#fabb22"/><stop offset="0.5744" stop-color="#f3e868"/><stop offset="0.5863" stop-color="#f7fa95"/><stop offset="0.5982" stop-color="#fcffa4"/><stop offset="0.6101" stop-color="#fafd9f"/><stop offset="0.6161" stop-color="#f7fa95"/><stop offset="0.628" stop-color="#f3e561"/><stop offset="0.6399" stop-color="#fabe25"/><stop offset="0.6458" stop-color="#fba411"/><stop offset="0.6518" stop-color="#f78a10"/><stop offset="0.6637" stop-color="#e25a32"/><stop offset="0.6756" stop-color="#ba3754"/><stop offset="0.6875" stop-color="#8c2369"/><stop offset="0.6994" stop-color="#62146e"/><stop offset="0.7113" stop-color="#410a66"/><stop offset="0.7292" stop-color="#1c0c43"/><stop offset="0.747" stop-color="#0b0725"/><stop offset="0.7708" stop-color="#050416"/><stop offset="0.8542" stop-color="#02010a"/><stop offset="0.997" stop-color="#010005"/></linearGradient>
<linearGradient id="c158"><stop offset="0.003" stop-color="#000004"/><stop offset="0.2411" stop-color="#02010a"/><stop offset="0.2827" stop-color="#050417"/><stop offset="0.3006" stop-color="#0c0826"/><stop offset="0.3185" stop-color="#1e0c45"/><stop offset="0.3304" stop-color="#360a60"/><stop offset="0.3423" stop-color="#550f6d"/><stop offset="0.3542" stop-color="#7b1d6d"/><stop offset="0.3661" stop-color="#a52d60"/><stop offset="0.378" stop-color="#d04545"/><stop offset="0.3899" stop-color="#ed6925"/><stop offset="0.4018" stop-color="#fa8f09"/><stop offset="0.4077" stop-color="#fca108"/><stop offset="0.4196" stop-color="#fbb71c"/><stop offset="0.4315" stop-color="#fbbe24"/><stop offset="0.4435" stop-color="#fbb81e"/><stop offset="0.4613" stop-color="#fb9f0f"/><stop offset="0.4911" stop-color="#f68413"/><stop offset="0.5089" stop-color="#f78911"/><stop offset="0.5268" stop-color="#fba412"/><stop offset="0.5327" stop-color="#fbb51c"/><stop offset="0.5506" stop-color="#f3e868"/><stop offset="0.5625" stop-color="#f6f991"/><stop offset="0.5685" stop-color="#f9fc9d"/><stop offset="0.5804" stop-color="#fcffa4"/><stop offset="0.5923" stop-color="#f8fb99"/><stop offset="0.5982" stop-color="#f5f689"/><stop offset="0.6101" stop-color="#f4e058"/><stop offset="0.622" stop-color="#fabb22"/><stop offset="0.628" stop-color="#fba311"/><stop offset="0.6339" stop-color="#f88c10"/><stop offset="0.6458" stop-color="#e55e2f"/><stop offset="0.6577" stop-color="#c03b50"/><stop offset="0.6696" stop-color="#952666"/><stop offset="0.6815" stop-color="#6d186e"/><stop offset="0.6935" stop-color="#4a0c6a"/><stop offset="0.7054" stop-color="#2d0b58"/><stop offset="0.7232" stop-color="#130a33"/><stop offset="0.747" stop-color="#07051b"/><stop offset="0.7946" stop-color="#02020e"/><stop offset="0.9851" stop-color="#010005"/><stop offset="0.997" stop-color="#010005"/></linearGradient>
<linearGradient id="c160"><stop offset="0.003" stop-color="#000004"/><stop offset="0.253" stop-color="#02010a"/><stop offset="0.2946" stop-color="#050417"/><stop offset="0.3185" stop-color="#10092d"/><stop offset="0.3363" stop-color="#2a0b55"/><stop offset="0.3482" stop-color="#480b69"/><stop offset="0.3661" stop-color="#7f1e6c"/><stop offset="0.378" stop-color="#ab2f5d"/><stop offset="0.3899" stop-color="#d44941"/><stop offset="0.4018" stop-color="#ef6f20"/><stop offset="0.4077" stop-color="#f78311"/><stop offset="0.4137" stop-color="#fb9708"/><stop offset="0.4196" stop-color="#fca90f"/><stop offset="0.4375" stop-color="#f8cf3a"/><stop offset="0.4494" stop-color="#f5d949"/><stop offset="0.4732" stop-color="#f5d94b"/><stop offset="0.4911" stop-color="#f7d241"/><stop offset="0.5089" stop-color="#f6d647"/><stop offset="0.5268" stop-color="#f3e868"/><stop offset="0.5446" stop-color="#f9fc9b"/><stop offset="0.5565" stop-color="#fcffa4"/><stop offset="0.5685" stop-color="#f9fc9b"/><stop offset="0.5804" stop-color="#f3ef77"/><stop offset="0.5923" stop-color="#f6d545"/><stop offset="0.6042" stop-color="#fbb018"/><stop offset="0.6101" stop-color="#fa9b10"/><stop offset="0.6161" stop-color="#f68612"/><stop offset="0.628" stop-color="#e35c30"/><stop offset="0.6399" stop-color="#c23c4f"/><stop offset="0.6518" stop-color="#992864"/><stop offset="0.6696" stop-color="#61136e"/><stop offset="0.6815" stop-color="#410a66"/><stop offset="0.6994" stop-color="#1f0c46"/><stop offset="0.7173" stop-color="#0d0829"/><stop offset="0.747" stop-color="#050416"/><stop offset="0.8363" stop-color="#02010a"/><stop offset="0.997" stop-color="#010005"/></linearGradient>
<linearGradient id="c162"><stop offset="0.003" stop-color="#000004"/><stop offset="0.2649" stop-color="#02010a"/><stop offset="0.3065" stop-color="#050417"/><stop offset="0.3244" stop-color="#0d0827"/><stop offset="0.3423" stop-color="#1f0c48"/><stop offset="0.3542" stop-color="#390a62"/><stop offset="0.3661" stop-color="#59116d"/><stop offset="0.378" stop-color="#801f6c"/><stop offset="0.3899" stop-color="#aa2f5d"/><stop offset="0.4018" stop-color="#d14744"/><stop offset="0.4137" stop-color="#ee6c23"/><stop offset="0.4196" stop-color="#f68212"/><stop offset="0.4256" stop-color="#fa9809"/><stop offset="0.4315" stop-color="#fcac12"/><stop offset="0.4435" stop-color="#f8cf3a"/><stop offset="0.4554" stop-color="#f2e661"/><stop offset="0.4673" stop-color="#f3f586"/><stop offset="0.497" stop-color="#f8fb99"/><stop offset="0.5327" stop-color="#fcffa4"/><stop offset="0.5446" stop-color="#f9fc9d"/><stop offset="0.5506" stop-color="#f7f993"/><stop offset="0.5565" stop-color="#f4f27f"/><stop offset="0.5744" stop-color="#f8c732"/><stop offset="0.5804" stop-color="#fbb51c"/><stop offset="0.5863" stop-color="#fba111"/><stop offset="0.5923" stop-color="#f88d10"/><stop offset="0.6042" stop-color="#e96528"/><stop offset="0.622" stop-color="#bd3952"/><stop offset="0.6399" stop-color="#85216a"/><stop offset="0.6577" stop-color="#530f6c"/><stop offset="0.6756" stop-color="#2c0b57"/><stop offset="0.6935" stop-color="#140b36"/><stop offset="0.7173" stop-color="#08051d"/><stop offset="0.7589" stop-color="#030210"/><stop offset="0.9137" stop-color="#010106"/><stop offset="0.997" stop-color="#010005"/></linearGradient>
<linearGradient id="c164"><stop offset="0.003" stop-color="#000004"/><stop offset="0.2708" stop-color="#02010a"/><stop offset="0.3185" stop-color="#050418"/><stop offset="0.3363" stop-color="#0d0827"/><stop offset="0.3542" stop-color="#210c4a"/><stop offset="0.3661" stop-color="#390a62"/><stop offset="0.378" stop-color="#58106d"/><stop offset="0.3958" stop-color="#8e2468"/><stop offset="0.4077" stop-color="#b73556"/><stop offset="0.4196" stop-color="#dc5239"/><stop offset="0.4315" stop-color="#f47a17"/><stop offset="0.4375" stop-color="#f9900c"/><stop offset="0.4435" stop-color="#fba60f"/><stop offset="0.4554" stop-color="#f8ca35"/><stop offset="0.4673" stop-color="#f3e560"/><stop offset="0.4851" stop-color="#f4f585"/><stop offset="0.497" stop-color="#f8fa97"/><stop offset="0.5089" stop-color="#f8fa97"/><stop offset="0.5268" stop-color="#f5f383"/><stop offset="0.5327" stop-color="#f4f079"/><stop offset="0.5446" stop-color="#f5de53"/><stop offset="0.5565" stop-color="#fabe25"/><stop offset="0.5625" stop-color="#fba914"/><stop offset="0.5685" stop-color="#f9920f"/><stop offset="0.5744" stop-color="#f47d16"/><stop offset="0.5923" stop-color="#d34a41"/><stop offset="0.6101" stop-color="#a22b61"/><stop offset="0.628" stop-color="#70196d"/><stop offset="0.6458" stop-color="#450b68"/><stop offset="0.6637" stop-color="#240b4e"/><stop offset="0.6815" stop-color="#110a30"/><stop offset="0.7054" stop-color="#07051b"/><stop offset="0.7589" stop-color="#02020e"/><stop offset="0.9673" stop-color="#010005"/><stop offset="0.997" stop-color="#010005"/></linearGradient>
<linearGradient id="c166"><stop offset="0.003" stop-color="#000004"/><stop offset="0.2768" stop-color="#02010a"/><stop offset="0.3185" stop-color="#040314"/><stop offset="0.3423" stop-color="#0b0724"/><stop offset="0.3601" stop-color="#1b0c41"/><stop offset="0.372" stop-color="#310a5c"/><stop offset="0.3839" stop-color="#4a0c6b"/><stop offset="0.4018" stop-color="#7d1e6d"/><stop offset="0.4137" stop-color="#a52c60"/><stop offset="0.4256" stop-color="#cc4248"/><stop offset="0.4375" stop-color="#eb6429"/><stop offset="0.4494" stop-color="#f98b0b"/><stop offset="0.4554" stop-color="#fc9f07"/><stop offset="0.4673" stop-color="#fbbc21"/><stop offset="0.4851" stop-color="#f6d746"/><stop offset="0.497" stop-color="#f4e156"/><stop offset="0.503" stop-color="#f3e35a"/><stop offset="0.5089" stop-color="#f4e156"/><stop offset="0.5268" stop-color="#f8cd37"/><stop offset="0.5387" stop-color="#fbba1f"/><stop offset="0.5446" stop-color="#fcaa0f"/><stop offset="0.5506" stop-color="#fb9906"/><stop offset="0.5565" stop-color="#f8850f"/><stop offset="0.5685" stop-color="#e65d2f"/><stop offset="0.5804" stop-color="#c83f4b"/><stop offset="0.5982" stop-color="#952667"/><stop offset="0.6161" stop-color="#67166e"/><stop offset="0.6339" stop-color="#400a67"/><stop offset="0.6458" stop-color="#2b0b57"/><stop offset="0.6637" stop-color="#150b37"/><stop offset="0.6875" stop-color="#09061f"/><stop offset="0.7292" stop-color="#030210"/><stop offset="0.8958" stop-color="#010106"/><stop offset="0.997" stop-color="#010005"/></linearGradient>
</defs>
<rect width="520" height="689" fill="#fff"/>
<g clip-path="url(#clipA)">
<rect x="121" y="0" width="312" height="312" fill="#f3b06b"/>
<rect x="121" y="0" width="312" height="312" filter="url(#noise)"/>
<g filter="url(#soft)" fill="none" stroke-linecap="round" stroke-linejoin="round" stroke="#6a3610" stroke-width="3">
<path d="M119.5 16.2C120.7 16.4 123.8 16.7 127.0 17.4C130.3 18.1 135.0 19.7 139.0 20.4C143.0 21.1 147.5 21.5 151.0 21.6C154.5 21.7 156.5 21.5 160.0 21.0C163.5 20.5 168.0 19.6 172.0 18.6C176.0 17.6 180.0 16.1 184.0 15.0C188.0 13.9 192.8 13.3 196.0 12.0C199.3 10.8 201.0 9.3 203.5 7.5C206.0 5.8 209.2 3.0 211.0 1.5C212.9 0.0 214.0 -1.0 214.6 -1.5" stroke-opacity="0.35"/>
<path d="M239.5 -1.5C241.3 -0.8 246.3 0.8 250.0 3.0C253.8 5.3 258.5 8.5 262.0 12.0C265.5 15.5 268.5 21.8 271.0 24.0C273.5 26.3 275.0 23.9 277.0 25.5C279.0 27.1 281.7 30.5 283.0 33.6C284.3 36.8 285.3 42.0 284.8 44.4C284.3 46.8 281.3 47.2 280.0 48.0C278.7 48.9 280.0 50.0 277.0 49.5C274.0 49.0 266.5 46.3 262.0 45.0C257.5 43.8 253.8 43.5 250.0 42.0C246.3 40.5 242.5 38.4 239.5 36.0C236.5 33.7 235.3 29.5 232.0 27.9C228.8 26.3 223.5 26.1 220.0 26.4C216.5 26.8 213.0 27.9 211.0 30.0" stroke-opacity="0.42"/>
<path d="M211.0 30.0C209.0 32.1 208.5 35.5 208.0 39.0C207.5 42.5 207.3 46.8 208.0 51.0C208.8 55.3 210.8 60.3 212.5 64.5C214.3 68.8 216.5 72.3 218.5 76.5C220.5 80.8 223.0 85.3 224.5 90.0C226.0 94.8 226.5 100.0 227.5 105.0C228.5 110.0 229.3 115.5 230.5 120.0C231.8 124.5 233.8 128.0 235.0 132.0C236.3 136.0 237.7 140.0 238.0 144.0C238.4 148.0 237.9 152.8 237.1 156.0C236.4 159.3 235.4 160.8 233.5 163.5C231.7 166.2 229.8 170.3 226.0 172.5C222.3 174.8 216.0 175.8 211.0 177.0" stroke-opacity="0.59"/>
<path d="M211.0 177.0C206.0 178.3 201.0 179.0 196.0 180.0C191.0 181.0 186.5 182.1 181.0 183.0C175.5 183.9 168.5 185.2 163.0 185.4C157.5 185.7 152.0 183.9 148.0 184.5C144.0 185.1 142.0 187.3 139.0 189.0C136.0 190.8 133.3 193.4 130.0 195.0C126.8 196.6 121.3 198.0 119.5 198.6" stroke-opacity="0.39"/>
<path d="M378.4 -2.4C377.5 0.0 374.9 7.1 373.0 12.0C371.1 16.9 369.3 22.0 367.0 27.0C364.8 32.0 362.5 37.8 359.5 42.0C356.5 46.3 352.8 49.5 349.0 52.5C345.3 55.5 340.0 57.0 337.0 60.0C334.0 63.0 333.5 67.3 331.0 70.5C328.5 73.8 326.0 77.0 322.0 79.5C318.0 82.0 311.5 83.5 307.0 85.5C302.5 87.5 298.3 88.8 295.0 91.5C291.8 94.3 289.5 97.8 287.5 102.0C285.5 106.3 284.8 113.0 283.0 117.0C281.3 121.0 279.0 121.5 277.0 126.0C275.0 130.5 272.3 139.0 271.0 144.0C269.8 149.0 270.5 152.0 269.5 156.0" stroke-opacity="0.63"/>
<path d="M269.5 156.0C268.5 160.0 266.8 164.5 265.0 168.0C263.3 171.5 261.0 173.5 259.0 177.0C257.0 180.5 256.0 186.0 253.0 189.0C250.0 192.0 245.5 193.0 241.0 195.0C236.5 197.0 230.0 198.0 226.0 201.0C222.0 204.0 219.8 209.0 217.0 213.0C214.3 217.0 211.0 221.0 209.5 225.0C208.0 229.0 207.3 232.5 208.0 237.0" stroke-opacity="0.49"/>
<path d="M208.0 237.0C208.8 241.5 211.5 247.0 214.0 252.0C216.5 257.0 220.0 262.5 223.0 267.0C226.0 271.5 229.0 275.0 232.0 279.0C235.0 283.0 237.5 287.0 241.0 291.0C244.5 295.0 249.3 299.3 253.0 303.0C256.8 306.8 261.8 311.8 263.5 313.5" stroke-opacity="0.42"/>
<path d="M428.5 16.5C425.8 18.5 416.8 24.3 412.0 28.5C407.3 32.8 403.5 37.5 400.0 42.0C396.5 46.5 394.5 51.8 391.0 55.5C387.5 59.3 382.5 61.8 379.0 64.5C375.5 67.3 371.5 70.8 370.0 72.0" stroke-opacity="0.27"/>
<path d="M434.5 87.0C432.8 85.3 427.8 79.0 424.0 76.5C420.3 74.0 416.5 72.5 412.0 72.0C407.5 71.5 401.5 72.3 397.0 73.5C392.5 74.8 388.3 77.0 385.0 79.5C381.8 82.0 379.3 85.3 377.5 88.5C375.8 91.8 375.8 94.8 374.5 99.0C373.3 103.3 371.5 109.5 370.0 114.0C368.5 118.5 366.8 121.5 365.5 126.0C364.3 130.5 363.3 136.0 362.5 141.0C361.8 146.0 361.8 151.5 361.0 156.0" stroke-opacity="0.42"/>
<path d="M361.0 156.0C360.3 160.5 359.0 164.0 358.0 168.0C357.0 172.0 354.8 176.3 355.0 180.0C355.3 183.8 357.5 187.5 359.5 190.5C361.5 193.5 363.8 196.3 367.0 198.0C370.3 199.8 375.0 201.0 379.0 201.0C383.0 201.0 387.0 199.3 391.0 198.0C395.0 196.8 398.5 194.8 403.0 193.5C407.5 192.3 412.8 190.9 418.0 190.5C423.3 190.2 431.8 191.3 434.5 191.4" stroke-opacity="0.29"/>
<path d="M353.5 73.5C353.0 75.3 351.3 80.3 350.5 84.0C349.8 87.8 350.0 92.3 349.0 96.0C348.0 99.8 345.8 103.0 344.5 106.5C343.3 110.0 343.0 114.3 341.5 117.0C340.0 119.8 338.8 121.0 335.5 123.0C332.3 125.0 325.3 126.5 322.0 129.0C318.8 131.5 317.5 134.5 316.0 138.0C314.5 141.5 314.0 147.0 313.0 150.0C312.0 153.0 311.8 153.8 310.0 156.0C308.3 158.3 305.5 160.5 302.5 163.5C299.5 166.5 294.8 170.5 292.0 174.0C289.3 177.5 287.3 181.0 286.0 184.5C284.8 188.0 283.0 191.8 284.5 195.0C286.0 198.3 291.3 201.5 295.0 204.0C298.8 206.5 303.8 207.5 307.0 210.0C310.3 212.5 312.8 215.5 314.5 219.0C316.3 222.5 316.0 227.0 317.5 231.0C319.0 235.0 321.8 239.0 323.5 243.0C325.3 247.0 326.8 251.0 328.0 255.0" stroke-opacity="0.63"/>
<path d="M328.0 255.0C329.3 259.0 329.5 263.0 331.0 267.0C332.5 271.0 334.0 275.5 337.0 279.0C340.0 282.5 344.5 285.0 349.0 288.0C353.5 291.0 359.0 294.5 364.0 297.0C369.0 299.5 374.0 302.5 379.0 303.0C384.0 303.5 389.0 301.5 394.0 300.0C399.0 298.5 405.3 297.0 409.0 294.0C412.8 291.0 415.0 286.5 416.5 282.0C418.0 277.5 418.3 271.5 418.0 267.0C417.8 262.5 414.5 258.0 415.0 255.0C415.5 252.0 417.8 250.6 421.0 249.0C424.3 247.4 432.3 246.0 434.5 245.4" stroke-opacity="0.35"/>
</g>
<g filter="url(#rough)" fill="none" stroke-linecap="round" stroke-linejoin="round" stroke="#1f1005" stroke-width="2.9">
<path d="M119.5 16.2C120.7 16.4 123.8 16.7 127.0 17.4C130.3 18.1 135.0 19.7 139.0 20.4C143.0 21.1 147.5 21.5 151.0 21.6C154.5 21.7 156.5 21.5 160.0 21.0C163.5 20.5 168.0 19.6 172.0 18.6C176.0 17.6 180.0 16.1 184.0 15.0C188.0 13.9 192.8 13.3 196.0 12.0C199.3 10.8 201.0 9.3 203.5 7.5C206.0 5.8 209.2 3.0 211.0 1.5C212.9 0.0 214.0 -1.0 214.6 -1.5" stroke-opacity="0.50"/>
<path d="M239.5 -1.5C241.3 -0.8 246.3 0.8 250.0 3.0C253.8 5.3 258.5 8.5 262.0 12.0C265.5 15.5 268.5 21.8 271.0 24.0C273.5 26.3 275.0 23.9 277.0 25.5C279.0 27.1 281.7 30.5 283.0 33.6C284.3 36.8 285.3 42.0 284.8 44.4C284.3 46.8 281.3 47.2 280.0 48.0C278.7 48.9 280.0 50.0 277.0 49.5C274.0 49.0 266.5 46.3 262.0 45.0C257.5 43.8 253.8 43.5 250.0 42.0C246.3 40.5 242.5 38.4 239.5 36.0C236.5 33.7 235.3 29.5 232.0 27.9C228.8 26.3 223.5 26.1 220.0 26.4C216.5 26.8 213.0 27.9 211.0 30.0" stroke-opacity="0.60"/>
<path d="M211.0 30.0C209.0 32.1 208.5 35.5 208.0 39.0C207.5 42.5 207.3 46.8 208.0 51.0C208.8 55.3 210.8 60.3 212.5 64.5C214.3 68.8 216.5 72.3 218.5 76.5C220.5 80.8 223.0 85.3 224.5 90.0C226.0 94.8 226.5 100.0 227.5 105.0C228.5 110.0 229.3 115.5 230.5 120.0C231.8 124.5 233.8 128.0 235.0 132.0C236.3 136.0 237.7 140.0 238.0 144.0C238.4 148.0 237.9 152.8 237.1 156.0C236.4 159.3 235.4 160.8 233.5 163.5C231.7 166.2 229.8 170.3 226.0 172.5C222.3 174.8 216.0 175.8 211.0 177.0" stroke-opacity="0.85"/>
<path d="M211.0 177.0C206.0 178.3 201.0 179.0 196.0 180.0C191.0 181.0 186.5 182.1 181.0 183.0C175.5 183.9 168.5 185.2 163.0 185.4C157.5 185.7 152.0 183.9 148.0 184.5C144.0 185.1 142.0 187.3 139.0 189.0C136.0 190.8 133.3 193.4 130.0 195.0C126.8 196.6 121.3 198.0 119.5 198.6" stroke-opacity="0.55"/>
<path d="M378.4 -2.4C377.5 0.0 374.9 7.1 373.0 12.0C371.1 16.9 369.3 22.0 367.0 27.0C364.8 32.0 362.5 37.8 359.5 42.0C356.5 46.3 352.8 49.5 349.0 52.5C345.3 55.5 340.0 57.0 337.0 60.0C334.0 63.0 333.5 67.3 331.0 70.5C328.5 73.8 326.0 77.0 322.0 79.5C318.0 82.0 311.5 83.5 307.0 85.5C302.5 87.5 298.3 88.8 295.0 91.5C291.8 94.3 289.5 97.8 287.5 102.0C285.5 106.3 284.8 113.0 283.0 117.0C281.3 121.0 279.0 121.5 277.0 126.0C275.0 130.5 272.3 139.0 271.0 144.0C269.8 149.0 270.5 152.0 269.5 156.0" stroke-opacity="0.90"/>
<path d="M269.5 156.0C268.5 160.0 266.8 164.5 265.0 168.0C263.3 171.5 261.0 173.5 259.0 177.0C257.0 180.5 256.0 186.0 253.0 189.0C250.0 192.0 245.5 193.0 241.0 195.0C236.5 197.0 230.0 198.0 226.0 201.0C222.0 204.0 219.8 209.0 217.0 213.0C214.3 217.0 211.0 221.0 209.5 225.0C208.0 229.0 207.3 232.5 208.0 237.0" stroke-opacity="0.70"/>
<path d="M208.0 237.0C208.8 241.5 211.5 247.0 214.0 252.0C216.5 257.0 220.0 262.5 223.0 267.0C226.0 271.5 229.0 275.0 232.0 279.0C235.0 283.0 237.5 287.0 241.0 291.0C244.5 295.0 249.3 299.3 253.0 303.0C256.8 306.8 261.8 311.8 263.5 313.5" stroke-opacity="0.60"/>
<path d="M428.5 16.5C425.8 18.5 416.8 24.3 412.0 28.5C407.3 32.8 403.5 37.5 400.0 42.0C396.5 46.5 394.5 51.8 391.0 55.5C387.5 59.3 382.5 61.8 379.0 64.5C375.5 67.3 371.5 70.8 370.0 72.0" stroke-opacity="0.38"/>
<path d="M434.5 87.0C432.8 85.3 427.8 79.0 424.0 76.5C420.3 74.0 416.5 72.5 412.0 72.0C407.5 71.5 401.5 72.3 397.0 73.5C392.5 74.8 388.3 77.0 385.0 79.5C381.8 82.0 379.3 85.3 377.5 88.5C375.8 91.8 375.8 94.8 374.5 99.0C373.3 103.3 371.5 109.5 370.0 114.0C368.5 118.5 366.8 121.5 365.5 126.0C364.3 130.5 363.3 136.0 362.5 141.0C361.8 146.0 361.8 151.5 361.0 156.0" stroke-opacity="0.60"/>
<path d="M361.0 156.0C360.3 160.5 359.0 164.0 358.0 168.0C357.0 172.0 354.8 176.3 355.0 180.0C355.3 183.8 357.5 187.5 359.5 190.5C361.5 193.5 363.8 196.3 367.0 198.0C370.3 199.8 375.0 201.0 379.0 201.0C383.0 201.0 387.0 199.3 391.0 198.0C395.0 196.8 398.5 194.8 403.0 193.5C407.5 192.3 412.8 190.9 418.0 190.5C423.3 190.2 431.8 191.3 434.5 191.4" stroke-opacity="0.42"/>
<path d="M353.5 73.5C353.0 75.3 351.3 80.3 350.5 84.0C349.8 87.8 350.0 92.3 349.0 96.0C348.0 99.8 345.8 103.0 344.5 106.5C343.3 110.0 343.0 114.3 341.5 117.0C340.0 119.8 338.8 121.0 335.5 123.0C332.3 125.0 325.3 126.5 322.0 129.0C318.8 131.5 317.5 134.5 316.0 138.0C314.5 141.5 314.0 147.0 313.0 150.0C312.0 153.0 311.8 153.8 310.0 156.0C308.3 158.3 305.5 160.5 302.5 163.5C299.5 166.5 294.8 170.5 292.0 174.0C289.3 177.5 287.3 181.0 286.0 184.5C284.8 188.0 283.0 191.8 284.5 195.0C286.0 198.3 291.3 201.5 295.0 204.0C298.8 206.5 303.8 207.5 307.0 210.0C310.3 212.5 312.8 215.5 314.5 219.0C316.3 222.5 316.0 227.0 317.5 231.0C319.0 235.0 321.8 239.0 323.5 243.0C325.3 247.0 326.8 251.0 328.0 255.0" stroke-opacity="0.90"/>
<path d="M328.0 255.0C329.3 259.0 329.5 263.0 331.0 267.0C332.5 271.0 334.0 275.5 337.0 279.0C340.0 282.5 344.5 285.0 349.0 288.0C353.5 291.0 359.0 294.5 364.0 297.0C369.0 299.5 374.0 302.5 379.0 303.0C384.0 303.5 389.0 301.5 394.0 300.0C399.0 298.5 405.3 297.0 409.0 294.0C412.8 291.0 415.0 286.5 416.5 282.0C418.0 277.5 418.3 271.5 418.0 267.0C417.8 262.5 414.5 258.0 415.0 255.0C415.5 252.0 417.8 250.6 421.0 249.0C424.3 247.4 432.3 246.0 434.5 245.4" stroke-opacity="0.50"/>
</g>
</g>
<rect x="127.9" y="283.1" width="67.4" height="20.9" fill="#fbe6d6" stroke="#1a1208" stroke-width="1.1"/>
<text x="162" y="299.3" font-size="16.3" text-anchor="middle">1 µm</text>
<path d="M131 293.6H142.8M192.5 293.6H181.2" stroke="#111" stroke-width="1.8" fill="none"/>
<path d="M128.7 293.6l5.6-3.3v6.6zM194.8 293.6l-5.6-3.3v6.6z" fill="#111"/>
<text x="76.2" y="27" font-size="21.7">(a)</text>
<rect x="156.5" y="326.3" width="250.5" height="15.7" fill="url(#cop)" stroke="#111" stroke-width="0.9"/>
<path d="M178 342v5.5M282.3 342v5.5M386.3 342v5.5" stroke="#222" stroke-width="0.8"/>
<text x="178.0" y="368.1" font-size="17.3" text-anchor="middle">0.9</text>
<text x="282.4" y="368.1" font-size="17.3" text-anchor="middle">0.95</text>
<text x="386.3" y="368.1" font-size="17.3" text-anchor="middle">1.0</text>
<text x="282.4" y="390.3" font-size="17.9" text-anchor="middle">norm. PL</text>
<rect x="74" y="426" width="167" height="167" fill="#020109"/><rect x="339" y="426" width="168" height="167" fill="#020109"/>
<g clip-path="url(#clipB)"><g filter="url(#vb)">
<rect x="74" y="423" width="167" height="3" fill="url(#b0)"/>
<rect x="74" y="426" width="167" height="2" fill="url(#b0)"/>
<rect x="74" y="428" width="167" height="2" fill="url(#b2)"/>
<rect x="74" y="430" width="167" height="2" fill="url(#b4)"/>
<rect x="74" y="432" width="167" height="2" fill="url(#b6)"/>
<rect x="74" y="434" width="167" height="2" fill="url(#b8)"/>
<rect x="74" y="436" width="167" height="2" fill="url(#b10)"/>
<rect x="74" y="438" width="167" height="2" fill="url(#b12)"/>
<rect x="74" y="440" width="167" height="2" fill="url(#b14)"/>
<rect x="74" y="442" width="167" height="2" fill="url(#b16)"/>
<rect x="74" y="444" width="167" height="2" fill="url(#b18)"/>
<rect x="74" y="446" width="167" height="2" fill="url(#b20)"/>
<rect x="74" y="448" width="167" height="2" fill="url(#b22)"/>
<rect x="74" y="450" width="167" height="2" fill="url(#b24)"/>
<rect x="74" y="452" width="167" height="2" fill="url(#b26)"/>
<rect x="74" y="454" width="167" height="2" fill="url(#b28)"/>
<rect x="74" y="456" width="167" height="2" fill="url(#b30)"/>
<rect x="74" y="458" width="167" height="2" fill="url(#b32)"/>
<rect x="74" y="460" width="167" height="2" fill="url(#b34)"/>
<rect x="74" y="462" width="167" height="2" fill="url(#b36)"/>
<rect x="74" y="464" width="167" height="2" fill="url(#b38)"/>
<rect x="74" y="466" width="167" height="2" fill="url(#b40)"/>
<rect x="74" y="468" width="167" height="2" fill="url(#b42)"/>
<rect x="74" y="470" width="167" height="2" fill="url(#b44)"/>
<rect x="74" y="472" width="167" height="2" fill="url(#b46)"/>
<rect x="74" y="474" width="167" height="2" fill="url(#b48)"/>
<rect x="74" y="476" width="167" height="2" fill="url(#b50)"/>
<rect x="74" y="478" width="167" height="2" fill="url(#b52)"/>
<rect x="74" y="480" width="167" height="2" fill="url(#b54)"/>
<rect x="74" y="482" width="167" height="2" fill="url(#b56)"/>
<rect x="74" y="484" width="167" height="2" fill="url(#b58)"/>
<rect x="74" y="486" width="167" height="2" fill="url(#b60)"/>
<rect x="74" y="488" width="167" height="2" fill="url(#b62)"/>
<rect x="74" y="490" width="167" height="2" fill="url(#b64)"/>
<rect x="74" y="492" width="167" height="2" fill="url(#b66)"/>
<rect x="74" y="494" width="167" height="2" fill="url(#b68)"/>
<rect x="74" y="496" width="167" height="2" fill="url(#b70)"/>
<rect x="74" y="498" width="167" height="2" fill="url(#b72)"/>
<rect x="74" y="500" width="167" height="2" fill="url(#b74)"/>
<rect x="74" y="502" width="167" height="2" fill="url(#b76)"/>
<rect x="74" y="504" width="167" height="2" fill="url(#b78)"/>
<rect x="74" y="506" width="167" height="2" fill="url(#b80)"/>
<rect x="74" y="508" width="167" height="2" fill="url(#b82)"/>
<rect x="74" y="510" width="167" height="2" fill="url(#b84)"/>
<rect x="74" y="512" width="167" height="2" fill="url(#b86)"/>
<rect x="74" y="514" width="167" height="2" fill="url(#b88)"/>
<rect x="74" y="516" width="167" height="2" fill="url(#b90)"/>
<rect x="74" y="518" width="167" height="2" fill="url(#b92)"/>
<rect x="74" y="520" width="167" height="2" fill="url(#b94)"/>
<rect x="74" y="522" width="167" height="2" fill="url(#b96)"/>
<rect x="74" y="524" width="167" height="2" fill="url(#b98)"/>
<rect x="74" y="526" width="167" height="2" fill="url(#b100)"/>
<rect x="74" y="528" width="167" height="2" fill="url(#b102)"/>
<rect x="74" y="530" width="167" height="2" fill="url(#b104)"/>
<rect x="74" y="532" width="167" height="2" fill="url(#b106)"/>
<rect x="74" y="534" width="167" height="2" fill="url(#b108)"/>
<rect x="74" y="536" width="167" height="2" fill="url(#b110)"/>
<rect x="74" y="538" width="167" height="2" fill="url(#b112)"/>
<rect x="74" y="540" width="167" height="2" fill="url(#b114)"/>
<rect x="74" y="542" width="167" height="2" fill="url(#b116)"/>
<rect x="74" y="544" width="167" height="2" fill="url(#b118)"/>
<rect x="74" y="546" width="167" height="2" fill="url(#b120)"/>
<rect x="74" y="548" width="167" height="2" fill="url(#b122)"/>
<rect x="74" y="550" width="167" height="2" fill="url(#b124)"/>
<rect x="74" y="552" width="167" height="2" fill="url(#b126)"/>
<rect x="74" y="554" width="167" height="2" fill="url(#b128)"/>
<rect x="74" y="556" width="167" height="2" fill="url(#b130)"/>
<rect x="74" y="558" width="167" height="2" fill="url(#b132)"/>
<rect x="74" y="560" width="167" height="2" fill="url(#b134)"/>
<rect x="74" y="562" width="167" height="2" fill="url(#b136)"/>
<rect x="74" y="564" width="167" height="2" fill="url(#b138)"/>
<rect x="74" y="566" width="167" height="2" fill="url(#b140)"/>
<rect x="74" y="568" width="167" height="2" fill="url(#b142)"/>
<rect x="74" y="570" width="167" height="2" fill="url(#b144)"/>
<rect x="74" y="572" width="167" height="2" fill="url(#b146)"/>
<rect x="74" y="574" width="167" height="2" fill="url(#b148)"/>
<rect x="74" y="576" width="167" height="2" fill="url(#b150)"/>
<rect x="74" y="578" width="167" height="2" fill="url(#b152)"/>
<rect x="74" y="580" width="167" height="2" fill="url(#b154)"/>
<rect x="74" y="582" width="167" height="2" fill="url(#b156)"/>
<rect x="74" y="584" width="167" height="2" fill="url(#b158)"/>
<rect x="74" y="586" width="167" height="2" fill="url(#b160)"/>
<rect x="74" y="588" width="167" height="2" fill="url(#b162)"/>
<rect x="74" y="590" width="167" height="2" fill="url(#b164)"/>
<rect x="74" y="592" width="167" height="1" fill="url(#b166)"/>
<rect x="74" y="593" width="167" height="3" fill="url(#b166)"/>
</g></g>
<g clip-path="url(#clipC)"><g filter="url(#vb)">
<rect x="339" y="423" width="168" height="3" fill="url(#c0)"/>
<rect x="339" y="426" width="168" height="2" fill="url(#c0)"/>
<rect x="339" y="428" width="168" height="2" fill="url(#c2)"/>
<rect x="339" y="430" width="168" height="2" fill="url(#c4)"/>
<rect x="339" y="432" width="168" height="2" fill="url(#c6)"/>
<rect x="339" y="434" width="168" height="2" fill="url(#c8)"/>
<rect x="339" y="436" width="168" height="2" fill="url(#c10)"/>
<rect x="339" y="438" width="168" height="2" fill="url(#c12)"/>
<rect x="339" y="440" width="168" height="2" fill="url(#c14)"/>
<rect x="339" y="442" width="168" height="2" fill="url(#c16)"/>
<rect x="339" y="444" width="168" height="2" fill="url(#c18)"/>
<rect x="339" y="446" width="168" height="2" fill="url(#c20)"/>
<rect x="339" y="448" width="168" height="2" fill="url(#c22)"/>
<rect x="339" y="450" width="168" height="2" fill="url(#c24)"/>
<rect x="339" y="452" width="168" height="2" fill="url(#c26)"/>
<rect x="339" y="454" width="168" height="2" fill="url(#c28)"/>
<rect x="339" y="456" width="168" height="2" fill="url(#c30)"/>
<rect x="339" y="458" width="168" height="2" fill="url(#c32)"/>
<rect x="339" y="460" width="168" height="2" fill="url(#c34)"/>
<rect x="339" y="462" width="168" height="2" fill="url(#c36)"/>
<rect x="339" y="464" width="168" height="2" fill="url(#c38)"/>
<rect x="339" y="466" width="168" height="2" fill="url(#c40)"/>
<rect x="339" y="468" width="168" height="2" fill="url(#c42)"/>
<rect x="339" y="470" width="168" height="2" fill="url(#c44)"/>
<rect x="339" y="472" width="168" height="2" fill="url(#c46)"/>
<rect x="339" y="474" width="168" height="2" fill="url(#c48)"/>
<rect x="339" y="476" width="168" height="2" fill="url(#c50)"/>
<rect x="339" y="478" width="168" height="2" fill="url(#c52)"/>
<rect x="339" y="480" width="168" height="2" fill="url(#c54)"/>
<rect x="339" y="482" width="168" height="2" fill="url(#c56)"/>
<rect x="339" y="484" width="168" height="2" fill="url(#c58)"/>
<rect x="339" y="486" width="168" height="2" fill="url(#c60)"/>
<rect x="339" y="488" width="168" height="2" fill="url(#c62)"/>
<rect x="339" y="490" width="168" height="2" fill="url(#c64)"/>
<rect x="339" y="492" width="168" height="2" fill="url(#c66)"/>
<rect x="339" y="494" width="168" height="2" fill="url(#c68)"/>
<rect x="339" y="496" width="168" height="2" fill="url(#c70)"/>
<rect x="339" y="498" width="168" height="2" fill="url(#c72)"/>
<rect x="339" y="500" width="168" height="2" fill="url(#c74)"/>
<rect x="339" y="502" width="168" height="2" fill="url(#c76)"/>
<rect x="339" y="504" width="168" height="2" fill="url(#c78)"/>
<rect x="339" y="506" width="168" height="2" fill="url(#c80)"/>
<rect x="339" y="508" width="168" height="2" fill="url(#c82)"/>
<rect x="339" y="510" width="168" height="2" fill="url(#c84)"/>
<rect x="339" y="512" width="168" height="2" fill="url(#c86)"/>
<rect x="339" y="514" width="168" height="2" fill="url(#c88)"/>
<rect x="339" y="516" width="168" height="2" fill="url(#c90)"/>
<rect x="339" y="518" width="168" height="2" fill="url(#c92)"/>
<rect x="339" y="520" width="168" height="2" fill="url(#c94)"/>
<rect x="339" y="522" width="168" height="2" fill="url(#c96)"/>
<rect x="339" y="524" width="168" height="2" fill="url(#c98)"/>
<rect x="339" y="526" width="168" height="2" fill="url(#c100)"/>
<rect x="339" y="528" width="168" height="2" fill="url(#c102)"/>
<rect x="339" y="530" width="168" height="2" fill="url(#c104)"/>
<rect x="339" y="532" width="168" height="2" fill="url(#c106)"/>
<rect x="339" y="534" width="168" height="2" fill="url(#c108)"/>
<rect x="339" y="536" width="168" height="2" fill="url(#c110)"/>
<rect x="339" y="538" width="168" height="2" fill="url(#c112)"/>
<rect x="339" y="540" width="168" height="2" fill="url(#c114)"/>
<rect x="339" y="542" width="168" height="2" fill="url(#c116)"/>
<rect x="339" y="544" width="168" height="2" fill="url(#c118)"/>
<rect x="339" y="546" width="168" height="2" fill="url(#c120)"/>
<rect x="339" y="548" width="168" height="2" fill="url(#c122)"/>
<rect x="339" y="550" width="168" height="2" fill="url(#c124)"/>
<rect x="339" y="552" width="168" height="2" fill="url(#c126)"/>
<rect x="339" y="554" width="168" height="2" fill="url(#c128)"/>
<rect x="339" y="556" width="168" height="2" fill="url(#c130)"/>
<rect x="339" y="558" width="168" height="2" fill="url(#c132)"/>
<rect x="339" y="560" width="168" height="2" fill="url(#c134)"/>
<rect x="339" y="562" width="168" height="2" fill="url(#c136)"/>
<rect x="339" y="564" width="168" height="2" fill="url(#c138)"/>
<rect x="339" y="566" width="168" height="2" fill="url(#c140)"/>
<rect x="339" y="568" width="168" height="2" fill="url(#c142)"/>
<rect x="339" y="570" width="168" height="2" fill="url(#c144)"/>
<rect x="339" y="572" width="168" height="2" fill="url(#c146)"/>
<rect x="339" y="574" width="168" height="2" fill="url(#c148)"/>
<rect x="339" y="576" width="168" height="2" fill="url(#c150)"/>
<rect x="339" y="578" width="168" height="2" fill="url(#c152)"/>
<rect x="339" y="580" width="168" height="2" fill="url(#c154)"/>
<rect x="339" y="582" width="168" height="2" fill="url(#c156)"/>
<rect x="339" y="584" width="168" height="2" fill="url(#c158)"/>
<rect x="339" y="586" width="168" height="2" fill="url(#c160)"/>
<rect x="339" y="588" width="168" height="2" fill="url(#c162)"/>
<rect x="339" y="590" width="168" height="2" fill="url(#c164)"/>
<rect x="339" y="592" width="168" height="1" fill="url(#c166)"/>
<rect x="339" y="593" width="168" height="3" fill="url(#c166)"/>
</g></g>
<g clip-path="url(#clipB)"><path d="M74.0 451.2L76.1 455.9L78.2 460.5L80.3 464.9L82.3 469.2L84.4 473.2L86.5 477.0L88.6 480.8L90.7 484.4L92.8 487.9L94.9 491.3L97.0 494.7L99.0 498.0L101.1 501.3L103.2 504.5L105.3 507.7L107.4 510.8L109.5 513.8L111.6 516.8L113.7 519.7L115.8 522.7L117.8 525.5L119.9 528.2L122.0 530.8L124.1 533.3L126.2 535.6L128.3 537.8L130.4 539.9L132.4 541.8L134.5 543.7L136.6 545.4L138.7 547.1L140.8 548.5L142.9 549.9L145.0 551.1L147.1 552.1L149.1 552.9L151.2 553.6L153.3 554.1L155.4 554.4L157.5 554.5L159.6 554.4L161.7 554.1L163.8 553.6L165.8 552.9L167.9 552.1L170.0 551.1L172.1 549.9L174.2 548.5L176.3 547.1L178.4 545.4L180.5 543.7L182.6 541.8L184.6 539.9L186.7 537.8L188.8 535.6L190.9 533.3L193.0 530.8L195.1 528.2L197.2 525.5L199.2 522.7L201.3 519.7L203.4 516.8L205.5 513.8L207.6 510.8L209.7 507.7L211.8 504.5L213.9 501.3L215.9 498.0L218.0 494.7L220.1 491.3L222.2 487.9L224.3 484.4L226.4 480.8L228.5 477.0L230.6 473.2L232.7 469.2L234.7 464.9L236.8 460.5L238.9 455.9L241.0 451.2" stroke="#141400" stroke-opacity="0.8" stroke-width="0.8" fill="none"/><path d="M74.0 463.0L76.1 467.4L78.2 471.7L80.3 475.9L82.3 479.8L84.4 483.6L86.5 487.1L88.6 490.5L90.7 493.8L92.8 497.1L94.9 500.2L97.0 503.3L99.0 506.3L101.1 509.3L103.2 512.2L105.3 515.1L107.4 517.9L109.5 520.6L111.6 523.3L113.7 526.0L115.8 528.6L117.8 531.1L119.9 533.6L122.0 535.9L124.1 538.0L126.2 540.1L128.3 541.9L130.4 543.5L132.4 544.9L134.5 546.3L136.6 547.5L138.7 548.8L140.8 549.9L142.9 550.9L145.0 551.8L147.1 552.6L149.1 553.2L151.2 553.8L153.3 554.2L155.4 554.4L157.5 554.5L159.6 554.4L161.7 554.2L163.8 553.8L165.8 553.2L167.9 552.6L170.0 551.8L172.1 550.9L174.2 549.9L176.3 548.8L178.4 547.5L180.5 546.3L182.6 544.9L184.6 543.5L186.7 541.9L188.8 540.1L190.9 538.0L193.0 535.9L195.1 533.6L197.2 531.1L199.2 528.6L201.3 526.0L203.4 523.3L205.5 520.6L207.6 517.9L209.7 515.1L211.8 512.2L213.9 509.3L215.9 506.3L218.0 503.3L220.1 500.2L222.2 497.1L224.3 493.8L226.4 490.5L228.5 487.1L230.6 483.6L232.7 479.8L234.7 475.9L236.8 471.7L238.9 467.4L241.0 463.0" stroke="#141400" stroke-opacity="0.8" stroke-width="0.8" fill="none"/></g>
<path d="M74.00 592.60h-4.6M74.30 593.00v4.4M74.00 551.00h-4.6M115.88 593.00v4.4M74.00 509.40h-4.6M157.45 593.00v4.4M74.00 467.80h-4.6M199.03 593.00v4.4M74.00 426.20h-4.6M240.60 593.00v4.4" stroke="#222" stroke-width="0.9" fill="none"/>
<text x="61.3" y="598.8" font-size="17.3" text-anchor="end">0</text>
<text x="61.3" y="557.2" font-size="17.3" text-anchor="end">5</text>
<text x="61.3" y="515.6" font-size="17.3" text-anchor="end">10</text>
<text x="61.3" y="474.0" font-size="17.3" text-anchor="end">15</text>
<text x="61.3" y="432.4" font-size="17.3" text-anchor="end">20</text>
<text x="74.3" y="618" font-size="17.3" text-anchor="middle">-100</text>
<text x="115.9" y="618" font-size="17.3" text-anchor="middle">-50</text>
<text x="157.4" y="618" font-size="17.3" text-anchor="middle">0</text>
<text x="199.0" y="618" font-size="17.3" text-anchor="middle">50</text>
<text x="240.6" y="618" font-size="17.3" text-anchor="middle">100</text>
<text x="125.4" y="636.5" font-size="17.6"><tspan class="s" font-size="19.5">k</tspan><tspan dx="5.5">(µm</tspan><tspan dy="-6.5" font-size="12.5">−1</tspan><tspan dy="6.5">)</tspan></text>
<text transform="translate(34.7 525.6) rotate(-90)" font-size="17.3">(GHz)</text>
<text transform="translate(31.8 540.5) rotate(-90)" font-size="19" class="s">f</text>
<path d="M74.30 569.2H241" stroke="#fff" stroke-width="2" stroke-dasharray="2 4.35" fill="none"/>
<text x="81.0" y="559.5" fill="#fff" class="s w" font-size="18.5">f<tspan class="p" font-size="16" dx="1.6" dy="3.4">±</tspan></text>
<text y="454.4" fill="#fff" class="r w" font-size="21"><tspan class="s" x="129.5">x</tspan><tspan x="144.2" dy="2.2" font-size="25">=</tspan><tspan class="s" x="164.3" dy="-2.2">x</tspan><tspan class="s" font-size="15" x="174.8" dy="3.3">d</tspan></text>
<text x="-1.0" y="428" font-size="21.7">(b)</text>
<rect x="80.2" y="646.5" width="156" height="15" fill="url(#inf)" stroke="#111" stroke-width="0.9"/>
<path d="M80.4 661.5v5.5M236.0 661.5v5.5" stroke="#222" stroke-width="0.8"/>
<text x="80.4" y="688" font-size="17.3" text-anchor="middle">min</text>
<text x="236.2" y="684.6" font-size="17.3" text-anchor="middle">max</text>
<text x="158.2" y="689" font-size="17.3" text-anchor="middle">PSD</text>
<path d="M339.30 592.60h-4.6M339.60 593.00v4.4M339.30 551.00h-4.6M381.30 593.00v4.4M339.30 509.40h-4.6M423.00 593.00v4.4M339.30 467.80h-4.6M464.70 593.00v4.4M339.30 426.20h-4.6M506.40 593.00v4.4" stroke="#222" stroke-width="0.9" fill="none"/>
<text x="326.6" y="598.8" font-size="17.3" text-anchor="end">0</text>
<text x="326.6" y="557.2" font-size="17.3" text-anchor="end">5</text>
<text x="326.6" y="515.6" font-size="17.3" text-anchor="end">10</text>
<text x="326.6" y="474.0" font-size="17.3" text-anchor="end">15</text>
<text x="326.6" y="432.4" font-size="17.3" text-anchor="end">20</text>
<text x="339.6" y="618" font-size="17.3" text-anchor="middle">-100</text>
<text x="381.3" y="618" font-size="17.3" text-anchor="middle">-50</text>
<text x="423.0" y="618" font-size="17.3" text-anchor="middle">0</text>
<text x="464.7" y="618" font-size="17.3" text-anchor="middle">50</text>
<text x="506.4" y="618" font-size="17.3" text-anchor="middle">100</text>
<text x="390.7" y="636.5" font-size="17.6"><tspan class="s" font-size="19.5">k</tspan><tspan dx="5.5">(µm</tspan><tspan dy="-6.5" font-size="12.5">−1</tspan><tspan dy="6.5">)</tspan></text>
<text transform="translate(300.0 525.6) rotate(-90)" font-size="17.3">(GHz)</text>
<text transform="translate(297.1 540.5) rotate(-90)" font-size="19" class="s">f</text>
<path d="M339.60 569.2H506" stroke="#fff" stroke-width="2" stroke-dasharray="2 4.35" fill="none"/>
<text x="346.3" y="559.5" fill="#fff" class="s w" font-size="18.5">f<tspan class="p" font-size="16" dx="1.6" dy="3.4">±</tspan></text>
<text y="454.4" fill="#fff" class="r w" font-size="21"><tspan class="s" x="394.8">x</tspan><tspan x="409.5" dy="2.2" font-size="25">=</tspan><tspan class="s" x="429.6" dy="-2.2">x</tspan><tspan class="s" font-size="15" x="440.1" dy="3.3">w</tspan></text>
<text x="264.3" y="428" font-size="21.7">(c)</text>
<rect x="343.8" y="646.5" width="156" height="15" fill="url(#inf)" stroke="#111" stroke-width="0.9"/>
<path d="M344.0 661.5v5.5M499.6 661.5v5.5" stroke="#222" stroke-width="0.8"/>
<text x="344.0" y="688" font-size="17.3" text-anchor="middle">min</text>
<text x="499.8" y="684.6" font-size="17.3" text-anchor="middle">max</text>
<text x="421.8" y="689" font-size="17.3" text-anchor="middle">PSD</text>
</g></svg></body></html>
